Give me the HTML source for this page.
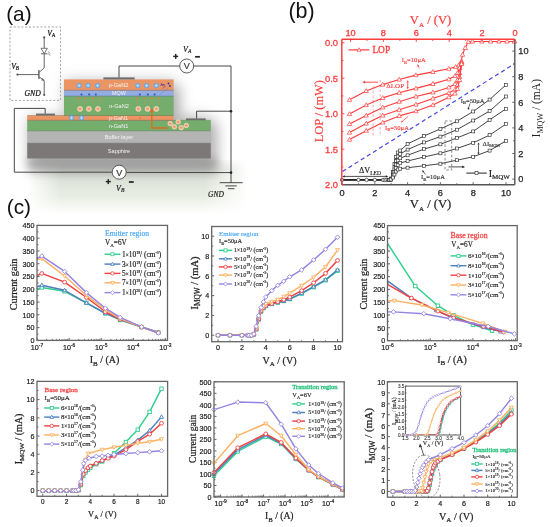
<!DOCTYPE html><html><head><meta charset="utf-8"><style>html,body{margin:0;padding:0;background:#fff;}svg{display:block;will-change:transform;}</style></head><body>
<svg width="550" height="527" viewBox="0 0 550 527">
<rect width="550" height="527" fill="#fff"/>
<text x="6.2" y="21.2" font-family='"Liberation Sans", sans-serif' font-size="20.8" fill="#111">(a)</text>
<defs><filter id="blur8" x="-50%" y="-50%" width="200%" height="200%"><feGaussianBlur stdDeviation="7"/></filter><filter id="blur4" x="-50%" y="-50%" width="200%" height="200%"><feGaussianBlur stdDeviation="4"/></filter><filter id="blur12" x="-50%" y="-50%" width="200%" height="200%"><feGaussianBlur stdDeviation="12"/></filter></defs>
<linearGradient id="shg" x1="0" y1="0" x2="0" y2="1"><stop offset="0" stop-color="#8a8a8a" stop-opacity="0.9"/><stop offset="1" stop-color="#8a8a8a" stop-opacity="0"/></linearGradient>
<linearGradient id="gbg" x1="0" y1="0" x2="0" y2="1"><stop offset="0" stop-color="#c9ccc6" stop-opacity="0"/><stop offset="0.2" stop-color="#d3d7cf" stop-opacity="1"/><stop offset="0.4" stop-color="#dfe4da"/><stop offset="0.7" stop-color="#e9eee3"/><stop offset="1" stop-color="#ffffff"/></linearGradient>
<linearGradient id="gmk" x1="0" y1="0" x2="1" y2="0"><stop offset="0" stop-color="#000"/><stop offset="0.15" stop-color="#fff"/><stop offset="0.8" stop-color="#fff"/><stop offset="1" stop-color="#000"/></linearGradient>
<mask id="mk1" maskUnits="userSpaceOnUse" x="0" y="150" width="260" height="80"><rect x="28" y="160" width="220" height="56" fill="url(#gmk)"/></mask>
<rect x="28" y="158" width="220" height="56" fill="url(#gbg)" mask="url(#mk1)"/>
<path d="M64,79 L173.6,79 L173.6,115 L210.8,115 L210.8,158.5 L27.2,158.5 L27.2,115 L64,115 Z" transform="translate(6,7)" fill="#808080" filter="url(#blur8)" opacity="0.6"/>
<path d="M64,79 L173.6,79 L173.6,115 L210.8,115 L210.8,158.5 L27.2,158.5 L27.2,115 L64,115 Z" fill="#b0b0b0" filter="url(#blur8)" opacity="0.5"/>
<rect x="27" y="158" width="190" height="20" fill="url(#shg)" filter="url(#blur4)"/>
<rect x="27.2" y="143" width="183.6" height="15.5" fill="#7d7878"/>
<rect x="27.2" y="130.8" width="183.6" height="12.2" fill="#b4b4b4"/>
<line x1="27.2" y1="143" x2="210.8" y2="143" stroke="#8e8e8e" stroke-width="0.6" />
<rect x="27.2" y="120.3" width="183.6" height="10.5" fill="#74ad6c"/>
<rect x="27.2" y="115.5" width="146.4" height="4.8" fill="#ec9564"/>
<rect x="64" y="96" width="109.6" height="19.5" fill="#74ad6c"/>
<rect x="64" y="90.4" width="109.6" height="5.6" fill="#93ade0"/>
<rect x="64" y="79.4" width="109.6" height="11" fill="#ec9564"/>
<line x1="64" y1="90.4" x2="173.6" y2="90.4" stroke="#c98260" stroke-width="0.4" />
<line x1="27.2" y1="120.3" x2="173.6" y2="120.3" stroke="#7a6a50" stroke-width="0.6" />
<line x1="173.6" y1="120.3" x2="210.8" y2="120.3" stroke="#5e9a58" stroke-width="0.5" />
<line x1="27.2" y1="115.5" x2="64" y2="115.5" stroke="#9a7a60" stroke-width="0.5" />
<line x1="64" y1="115.5" x2="173.6" y2="115.5" stroke="#6a7a50" stroke-width="0.6" />
<line x1="27.2" y1="130.8" x2="210.8" y2="130.8" stroke="#5e8a58" stroke-width="0.6" />
<rect x="103.4" y="77.4" width="31.3" height="2" fill="#6d6d6d"/>
<rect x="36" y="113.6" width="19" height="1.9" fill="#6d6d6d"/>
<rect x="186" y="118.4" width="19.7" height="1.9" fill="#6d6d6d"/>
<text x="118.5" y="87" font-size="5.6" font-family='"Liberation Sans", sans-serif' fill="#f4f4f4" text-anchor="middle">p-GaN2</text>
<text x="119" y="95.2" font-size="5.4" font-family='"Liberation Sans", sans-serif' fill="#f4f4f4" text-anchor="middle">MQW</text>
<text x="119" y="108" font-size="5.6" font-family='"Liberation Sans", sans-serif' fill="#f4f4f4" text-anchor="middle">n-GaN2</text>
<text x="118.5" y="119.8" font-size="5.4" font-family='"Liberation Sans", sans-serif' fill="#f4f4f4" text-anchor="middle">p-GaN1</text>
<text x="118.5" y="128" font-size="5.6" font-family='"Liberation Sans", sans-serif' fill="#f4f4f4" text-anchor="middle">n-GaN1</text>
<text x="119" y="139" font-size="5.6" font-family='"Liberation Sans", sans-serif' fill="#f4f4f4" text-anchor="middle">Buffer layer</text>
<text x="119" y="153" font-size="5.6" font-family='"Liberation Sans", sans-serif' fill="#f4f4f4" text-anchor="middle">Sapphire</text>
<line x1="64" y1="90.3" x2="173.6" y2="90.3" stroke="#6f7fa0" stroke-width="0.6" />
<line x1="64" y1="96.1" x2="173.6" y2="96.1" stroke="#5a7a9a" stroke-width="0.6" />
<rect x="80.6" y="93.6" width="1.8" height="1.8" fill="#2c52c0"/>
<rect x="88.3" y="93.6" width="1.8" height="1.8" fill="#2c52c0"/>
<rect x="94.89999999999999" y="93.6" width="1.8" height="1.8" fill="#2c52c0"/>
<rect x="138.9" y="93.6" width="1.8" height="1.8" fill="#2c52c0"/>
<rect x="146.9" y="93.6" width="1.8" height="1.8" fill="#2c52c0"/>
<rect x="153.7" y="93.6" width="1.8" height="1.8" fill="#2c52c0"/>
<circle cx="78.3" cy="98.3" r="1" fill="#f07a30"/>
<line x1="78.3" y1="99.5" x2="78.3" y2="104.6" stroke="#e89060" stroke-width="0.6" stroke-dasharray="1,0.8"/>
<circle cx="85.6" cy="98.3" r="1" fill="#f07a30"/>
<line x1="85.6" y1="99.5" x2="85.6" y2="104.6" stroke="#e89060" stroke-width="0.6" stroke-dasharray="1,0.8"/>
<circle cx="92.7" cy="98.3" r="1" fill="#f07a30"/>
<line x1="92.7" y1="99.5" x2="92.7" y2="104.6" stroke="#e89060" stroke-width="0.6" stroke-dasharray="1,0.8"/>
<circle cx="100.1" cy="98.3" r="1" fill="#f07a30"/>
<line x1="100.1" y1="99.5" x2="100.1" y2="104.6" stroke="#e89060" stroke-width="0.6" stroke-dasharray="1,0.8"/>
<circle cx="137" cy="98.3" r="1" fill="#f07a30"/>
<line x1="137" y1="99.5" x2="137" y2="104.6" stroke="#e89060" stroke-width="0.6" stroke-dasharray="1,0.8"/>
<circle cx="144.4" cy="98.3" r="1" fill="#f07a30"/>
<line x1="144.4" y1="99.5" x2="144.4" y2="104.6" stroke="#e89060" stroke-width="0.6" stroke-dasharray="1,0.8"/>
<circle cx="151.8" cy="98.3" r="1" fill="#f07a30"/>
<line x1="151.8" y1="99.5" x2="151.8" y2="104.6" stroke="#e89060" stroke-width="0.6" stroke-dasharray="1,0.8"/>
<circle cx="158.6" cy="98.3" r="1" fill="#f07a30"/>
<line x1="158.6" y1="99.5" x2="158.6" y2="104.6" stroke="#e89060" stroke-width="0.6" stroke-dasharray="1,0.8"/>
<line x1="159.2" y1="95" x2="168.3" y2="88" stroke="#7080c0" stroke-width="0.5" />
<circle cx="79.1" cy="85.6" r="2.4" fill="#6fb4ee" stroke="#5aa0e0" stroke-width="0.5"/>
<line x1="77.66" y1="85.6" x2="80.54" y2="85.6" stroke="#e8f4ff" stroke-width="0.6" />
<line x1="79.1" y1="84.16" x2="79.1" y2="87.04" stroke="#e8f4ff" stroke-width="0.6" />
<circle cx="88.1" cy="85.6" r="2.4" fill="#6fb4ee" stroke="#5aa0e0" stroke-width="0.5"/>
<line x1="86.66" y1="85.6" x2="89.54" y2="85.6" stroke="#e8f4ff" stroke-width="0.6" />
<line x1="88.1" y1="84.16" x2="88.1" y2="87.04" stroke="#e8f4ff" stroke-width="0.6" />
<circle cx="97.6" cy="85.6" r="2.4" fill="#6fb4ee" stroke="#5aa0e0" stroke-width="0.5"/>
<line x1="96.16" y1="85.6" x2="99.04" y2="85.6" stroke="#e8f4ff" stroke-width="0.6" />
<line x1="97.6" y1="84.16" x2="97.6" y2="87.04" stroke="#e8f4ff" stroke-width="0.6" />
<circle cx="137.8" cy="85.6" r="2.4" fill="#6fb4ee" stroke="#5aa0e0" stroke-width="0.5"/>
<line x1="136.36" y1="85.6" x2="139.24" y2="85.6" stroke="#e8f4ff" stroke-width="0.6" />
<line x1="137.8" y1="84.16" x2="137.8" y2="87.04" stroke="#e8f4ff" stroke-width="0.6" />
<circle cx="146.6" cy="85.6" r="2.4" fill="#6fb4ee" stroke="#5aa0e0" stroke-width="0.5"/>
<line x1="145.16" y1="85.6" x2="148.04" y2="85.6" stroke="#e8f4ff" stroke-width="0.6" />
<line x1="146.6" y1="84.16" x2="146.6" y2="87.04" stroke="#e8f4ff" stroke-width="0.6" />
<circle cx="156.3" cy="85.6" r="2.4" fill="#6fb4ee" stroke="#5aa0e0" stroke-width="0.5"/>
<line x1="154.86" y1="85.6" x2="157.74" y2="85.6" stroke="#e8f4ff" stroke-width="0.6" />
<line x1="156.3" y1="84.16" x2="156.3" y2="87.04" stroke="#e8f4ff" stroke-width="0.6" />
<circle cx="71.6" cy="117.8" r="2.4" fill="#6fb4ee" stroke="#5aa0e0" stroke-width="0.5"/>
<line x1="70.16" y1="117.8" x2="73.04" y2="117.8" stroke="#e8f4ff" stroke-width="0.6" />
<line x1="71.6" y1="116.36" x2="71.6" y2="119.24" stroke="#e8f4ff" stroke-width="0.6" />
<circle cx="81.5" cy="117.8" r="2.4" fill="#6fb4ee" stroke="#5aa0e0" stroke-width="0.5"/>
<line x1="80.06" y1="117.8" x2="82.94" y2="117.8" stroke="#e8f4ff" stroke-width="0.6" />
<line x1="81.5" y1="116.36" x2="81.5" y2="119.24" stroke="#e8f4ff" stroke-width="0.6" />
<circle cx="80" cy="108.9" r="2.5" fill="#f6b890" stroke="#fde6d6" stroke-width="0.6"/>
<line x1="78.9" y1="108.9" x2="81.1" y2="108.9" stroke="#d0703a" stroke-width="0.6" />
<circle cx="88.9" cy="108.9" r="2.5" fill="#f6b890" stroke="#fde6d6" stroke-width="0.6"/>
<line x1="87.8" y1="108.9" x2="90" y2="108.9" stroke="#d0703a" stroke-width="0.6" />
<circle cx="98" cy="108.9" r="2.5" fill="#f6b890" stroke="#fde6d6" stroke-width="0.6"/>
<line x1="96.9" y1="108.9" x2="99.1" y2="108.9" stroke="#d0703a" stroke-width="0.6" />
<circle cx="138.4" cy="108.9" r="2.5" fill="#f6b890" stroke="#fde6d6" stroke-width="0.6"/>
<line x1="137.3" y1="108.9" x2="139.5" y2="108.9" stroke="#d0703a" stroke-width="0.6" />
<circle cx="147.6" cy="108.9" r="2.5" fill="#f6b890" stroke="#fde6d6" stroke-width="0.6"/>
<line x1="146.5" y1="108.9" x2="148.7" y2="108.9" stroke="#d0703a" stroke-width="0.6" />
<circle cx="156.3" cy="108.9" r="2.5" fill="#f6b890" stroke="#fde6d6" stroke-width="0.6"/>
<line x1="155.2" y1="108.9" x2="157.4" y2="108.9" stroke="#d0703a" stroke-width="0.6" />
<circle cx="170.2" cy="123.6" r="2.3" fill="#f6b890" stroke="#fde6d6" stroke-width="0.6"/>
<line x1="169.1" y1="123.6" x2="171.3" y2="123.6" stroke="#d0703a" stroke-width="0.6" />
<circle cx="178.2" cy="122" r="2.3" fill="#f6b890" stroke="#fde6d6" stroke-width="0.6"/>
<line x1="177.1" y1="122" x2="179.3" y2="122" stroke="#d0703a" stroke-width="0.6" />
<circle cx="186.3" cy="125.5" r="2.3" fill="#f6b890" stroke="#fde6d6" stroke-width="0.6"/>
<line x1="185.2" y1="125.5" x2="187.4" y2="125.5" stroke="#d0703a" stroke-width="0.6" />
<circle cx="174.4" cy="126.8" r="2.3" fill="#f6b890" stroke="#fde6d6" stroke-width="0.6"/>
<line x1="173.3" y1="126.8" x2="175.5" y2="126.8" stroke="#d0703a" stroke-width="0.6" />
<circle cx="181.2" cy="127.7" r="2.3" fill="#f6b890" stroke="#fde6d6" stroke-width="0.6"/>
<line x1="180.1" y1="127.7" x2="182.3" y2="127.7" stroke="#d0703a" stroke-width="0.6" />
<circle cx="140" cy="118.2" r="0.8" fill="#e06020"/>
<polyline points="167.7,128 151.8,128 151.8,111" fill="none" stroke="#e06a20" stroke-width="1.3"/>
<polygon points="151.8,107.8 153.6,112 150,112" fill="#e06a20"/>
<text x="160.5" y="85.5" font-family='"Liberation Serif", serif' font-size="4.8" font-style="italic" fill="#3a2aa0" stroke="#3a2aa0" stroke-width="0.11">h&#957;</text>
<circle cx="168.5" cy="83.5" r="1" fill="#2c3cb0"/><circle cx="170" cy="86" r="1" fill="#2c3cb0"/>
<line x1="162" y1="88.5" x2="166" y2="86" stroke="#3a2aa0" stroke-width="0.4" />
<polyline points="119,77.4 119,66 179.9,66" fill="none" stroke="#484848" stroke-width="1"/>
<polyline points="193.5,66 231,66 231,182.7" fill="none" stroke="#484848" stroke-width="1"/>
<polyline points="196.6,118.4 196.6,111.2 231,111.2" fill="none" stroke="#484848" stroke-width="1"/>
<polyline points="45.2,113.6 45.2,108.4 14.3,108.4 14.3,172.2 112.2,172.2" fill="none" stroke="#484848" stroke-width="1"/>
<line x1="126.2" y1="172.4" x2="231" y2="172.6" stroke="#484848" stroke-width="1" />
<circle cx="231" cy="111.2" r="1.3" fill="#222"/>
<circle cx="231" cy="172.6" r="1.3" fill="#222"/>
<circle cx="186.7" cy="66" r="7" fill="#fff" stroke="#484848" stroke-width="0.9"/>
<text x="186.7" y="69.3" font-family='"Liberation Sans", sans-serif' font-size="9" text-anchor="middle" fill="#333" stroke="#333" stroke-width="0.20">V</text>
<circle cx="119.2" cy="172.2" r="7" fill="#fff" stroke="#484848" stroke-width="0.9"/>
<text x="119.2" y="175.5" font-family='"Liberation Sans", sans-serif' font-size="9" text-anchor="middle" fill="#333" stroke="#333" stroke-width="0.20">V</text>
<line x1="173.2" y1="56.4" x2="178.2" y2="56.4" stroke="#222" stroke-width="1.45" />
<line x1="175.7" y1="53.9" x2="175.7" y2="58.9" stroke="#222" stroke-width="1.45" />
<line x1="105.8" y1="181.6" x2="110.8" y2="181.6" stroke="#222" stroke-width="1.45" />
<line x1="108.3" y1="179.1" x2="108.3" y2="184.1" stroke="#222" stroke-width="1.45" />
<line x1="195.1" y1="56.8" x2="199.9" y2="56.8" stroke="#222" stroke-width="1.7" />
<line x1="128.9" y1="182" x2="133.7" y2="182" stroke="#222" stroke-width="1.7" />
<text x="183" y="51.6" font-family='"Liberation Serif", serif' font-size="8" font-style="italic" fill="#222" stroke="#222" stroke-width="0.18">V<tspan font-size="5.6" dy="1.8">A</tspan></text>
<text x="116" y="190.5" font-family='"Liberation Serif", serif' font-size="8" font-style="italic" fill="#222" stroke="#222" stroke-width="0.18">V<tspan font-size="5.6" dy="1.8">B</tspan></text>
<line x1="219.7" y1="182.7" x2="242.7" y2="182.7" stroke="#333" stroke-width="0.9" />
<line x1="225.4" y1="185.9" x2="236.8" y2="185.9" stroke="#333" stroke-width="0.9" />
<line x1="227.9" y1="188.7" x2="234.5" y2="188.7" stroke="#333" stroke-width="0.9" />
<text x="208" y="197" font-family='"Liberation Serif", serif' font-size="7.5" font-style="italic" fill="#222" stroke="#222" stroke-width="0.16">GND</text>
<rect x="10" y="27" width="50.5" height="73.4" fill="none" stroke="#999" stroke-width="0.9" stroke-dasharray="2,1.8"/>
<line x1="44.2" y1="37.4" x2="44.2" y2="48" stroke="#555" stroke-width="0.9" />
<polygon points="41,48.3 47.4,48.3 44.2,53.6" fill="#fff" stroke="#555" stroke-width="0.8"/>
<line x1="41" y1="53.8" x2="47.4" y2="53.8" stroke="#555" stroke-width="0.9" />
<line x1="44.2" y1="53.8" x2="44.2" y2="68" stroke="#555" stroke-width="0.9" />
<line x1="44.2" y1="68" x2="39.2" y2="72.3" stroke="#555" stroke-width="0.9" />
<line x1="38.9" y1="70" x2="38.9" y2="79" stroke="#555" stroke-width="1.3" />
<line x1="17.5" y1="74.6" x2="38.9" y2="74.6" stroke="#555" stroke-width="0.9" />
<line x1="39.2" y1="76.8" x2="44.2" y2="80.6" stroke="#555" stroke-width="0.9" />
<polygon points="44.4,80.8 41.2,80.2 42.6,78.2" fill="#555"/>
<line x1="44.2" y1="80.6" x2="44.2" y2="95" stroke="#555" stroke-width="0.9" />
<circle cx="44.2" cy="37.4" r="1.1" fill="#555"/>
<circle cx="17.5" cy="74.6" r="1.1" fill="#555"/>
<circle cx="44.2" cy="95" r="1.1" fill="#555"/>
<line x1="48.2" y1="51.5" x2="50" y2="53.5" stroke="#333" stroke-width="0.6" />
<line x1="48.2" y1="53.5" x2="50" y2="55.5" stroke="#333" stroke-width="0.6" />
<text x="47.2" y="36" font-family='"Liberation Serif", serif' font-size="7.6" font-style="italic" fill="#111" stroke="#111" stroke-width="0.2">V<tspan font-size="5.2" font-style="normal" dy="1.4">A</tspan></text>
<text x="11.2" y="69" font-family='"Liberation Serif", serif' font-size="7.6" font-style="italic" fill="#111" stroke="#111" stroke-width="0.2">V<tspan font-size="5.2" dy="1.4">B</tspan></text>
<text x="24.5" y="95.8" font-family='"Liberation Serif", serif' font-size="7.7" font-style="italic" fill="#111" stroke="#111" stroke-width="0.2">GND</text>
<text x="6.8" y="214.1" font-family='"Liberation Sans", sans-serif' font-size="20.8" fill="#111">(c)</text>
<text x="288.4" y="17.9" font-family='"Liberation Sans", sans-serif' font-size="21.5" fill="#111">(b)</text>
<line x1="342.5" y1="171.5" x2="514.5" y2="63.8" stroke="#4040e0" stroke-width="1.15" stroke-dasharray="4.2,3"/>
<polyline points="342,179.9 358.4,179.9 366.6,179.9 374.8,179.9 383,179.9 384.64,179.9 386.28,179.9 387.92,179.9 389.56,179.9 391.2,178.5 392.84,172 394.48,164 396.12,157 397.76,152.5 400.22,150.5 407.6,143.9 424,136 440.4,128.9 456.8,121.3 473.2,111.5 489.6,99.6 506,84.8" fill="none" stroke="#222" stroke-width="0.85" stroke-linejoin="round" />
<polyline points="342,179.9 358.4,179.9 366.6,179.9 374.8,179.9 383,179.9 384.64,179.9 386.28,179.9 387.92,179.9 389.56,179.9 391.2,178.7 392.84,173.5 394.48,167 396.12,161 397.76,156.5 400.22,154 407.6,149.6 424,142.4 440.4,136.6 456.8,129.7 473.2,120.5 489.6,111.1 506,96.5" fill="none" stroke="#222" stroke-width="0.85" stroke-linejoin="round" />
<polyline points="342,179.9 358.4,179.9 366.6,179.9 374.8,179.9 383,179.9 384.64,179.9 386.28,179.9 387.92,179.9 389.56,179.9 391.2,179 392.84,175 394.48,169.5 396.12,164.5 397.76,160.5 400.22,158.2 407.6,155.3 424,149.1 440.4,144.3 456.8,138 473.2,131.4 489.6,119.9 506,108.8" fill="none" stroke="#222" stroke-width="0.85" stroke-linejoin="round" />
<polyline points="342,179.9 358.4,179.9 366.6,179.9 374.8,179.9 383,179.9 384.64,179.9 386.28,179.9 387.92,179.9 389.56,179.9 391.2,179.2 392.84,176.5 394.48,172 396.12,168 397.76,165 400.22,163 407.6,161 424,157 440.4,153.3 456.8,148.5 473.2,142.8 489.6,135.1 506,124" fill="none" stroke="#222" stroke-width="0.85" stroke-linejoin="round" />
<polyline points="342,179.9 358.4,179.9 366.6,179.9 374.8,179.9 383,179.9 384.64,179.9 386.28,179.9 387.92,179.9 389.56,179.9 391.2,179.5 392.84,177.5 394.48,174.5 396.12,171.5 397.76,169.5 400.22,168.7 407.6,167.7 424,165.8 440.4,163.7 456.8,160.2 473.2,156.8 489.6,150.6 506,140.8" fill="none" stroke="#222" stroke-width="0.85" stroke-linejoin="round" />
<circle cx="342" cy="179.9" r="1.7" fill="#fff" stroke="#333" stroke-width="0.7"/>
<circle cx="358.4" cy="179.9" r="1.7" fill="#fff" stroke="#333" stroke-width="0.7"/>
<circle cx="366.6" cy="179.9" r="1.7" fill="#fff" stroke="#333" stroke-width="0.7"/>
<circle cx="374.8" cy="179.9" r="1.7" fill="#fff" stroke="#333" stroke-width="0.7"/>
<circle cx="383" cy="179.9" r="1.7" fill="#fff" stroke="#333" stroke-width="0.7"/>
<circle cx="384.64" cy="179.9" r="1.7" fill="#fff" stroke="#333" stroke-width="0.7"/>
<circle cx="386.28" cy="179.9" r="1.7" fill="#fff" stroke="#333" stroke-width="0.7"/>
<circle cx="387.92" cy="179.9" r="1.7" fill="#fff" stroke="#333" stroke-width="0.7"/>
<rect x="388.06" y="178.4" width="3" height="3" fill="#fff" stroke="#222" stroke-width="0.6"/>
<rect x="389.7" y="177" width="3" height="3" fill="#fff" stroke="#222" stroke-width="0.6"/>
<rect x="391.34" y="170.5" width="3" height="3" fill="#fff" stroke="#222" stroke-width="0.6"/>
<rect x="392.98" y="162.5" width="3" height="3" fill="#fff" stroke="#222" stroke-width="0.6"/>
<rect x="394.62" y="155.5" width="3" height="3" fill="#fff" stroke="#222" stroke-width="0.6"/>
<rect x="396.26" y="151" width="3" height="3" fill="#fff" stroke="#222" stroke-width="0.6"/>
<rect x="398.72" y="149" width="3" height="3" fill="#fff" stroke="#222" stroke-width="0.6"/>
<rect x="406.1" y="142.4" width="3" height="3" fill="#fff" stroke="#222" stroke-width="0.6"/>
<rect x="422.5" y="134.5" width="3" height="3" fill="#fff" stroke="#222" stroke-width="0.6"/>
<rect x="438.9" y="127.4" width="3" height="3" fill="#fff" stroke="#222" stroke-width="0.6"/>
<rect x="455.3" y="119.8" width="3" height="3" fill="#fff" stroke="#222" stroke-width="0.6"/>
<rect x="471.7" y="110" width="3" height="3" fill="#fff" stroke="#222" stroke-width="0.6"/>
<rect x="488.1" y="98.1" width="3" height="3" fill="#fff" stroke="#222" stroke-width="0.6"/>
<rect x="504.5" y="83.3" width="3" height="3" fill="#fff" stroke="#222" stroke-width="0.6"/>
<rect x="388.06" y="178.4" width="3" height="3" fill="#fff" stroke="#222" stroke-width="0.6"/>
<rect x="389.7" y="177.2" width="3" height="3" fill="#fff" stroke="#222" stroke-width="0.6"/>
<rect x="391.34" y="172" width="3" height="3" fill="#fff" stroke="#222" stroke-width="0.6"/>
<rect x="392.98" y="165.5" width="3" height="3" fill="#fff" stroke="#222" stroke-width="0.6"/>
<rect x="394.62" y="159.5" width="3" height="3" fill="#fff" stroke="#222" stroke-width="0.6"/>
<rect x="396.26" y="155" width="3" height="3" fill="#fff" stroke="#222" stroke-width="0.6"/>
<rect x="398.72" y="152.5" width="3" height="3" fill="#fff" stroke="#222" stroke-width="0.6"/>
<rect x="406.1" y="148.1" width="3" height="3" fill="#fff" stroke="#222" stroke-width="0.6"/>
<rect x="422.5" y="140.9" width="3" height="3" fill="#fff" stroke="#222" stroke-width="0.6"/>
<rect x="438.9" y="135.1" width="3" height="3" fill="#fff" stroke="#222" stroke-width="0.6"/>
<rect x="455.3" y="128.2" width="3" height="3" fill="#fff" stroke="#222" stroke-width="0.6"/>
<rect x="471.7" y="119" width="3" height="3" fill="#fff" stroke="#222" stroke-width="0.6"/>
<rect x="488.1" y="109.6" width="3" height="3" fill="#fff" stroke="#222" stroke-width="0.6"/>
<rect x="504.5" y="95" width="3" height="3" fill="#fff" stroke="#222" stroke-width="0.6"/>
<rect x="388.06" y="178.4" width="3" height="3" fill="#fff" stroke="#222" stroke-width="0.6"/>
<rect x="389.7" y="177.5" width="3" height="3" fill="#fff" stroke="#222" stroke-width="0.6"/>
<rect x="391.34" y="173.5" width="3" height="3" fill="#fff" stroke="#222" stroke-width="0.6"/>
<rect x="392.98" y="168" width="3" height="3" fill="#fff" stroke="#222" stroke-width="0.6"/>
<rect x="394.62" y="163" width="3" height="3" fill="#fff" stroke="#222" stroke-width="0.6"/>
<rect x="396.26" y="159" width="3" height="3" fill="#fff" stroke="#222" stroke-width="0.6"/>
<rect x="398.72" y="156.7" width="3" height="3" fill="#fff" stroke="#222" stroke-width="0.6"/>
<rect x="406.1" y="153.8" width="3" height="3" fill="#fff" stroke="#222" stroke-width="0.6"/>
<rect x="422.5" y="147.6" width="3" height="3" fill="#fff" stroke="#222" stroke-width="0.6"/>
<rect x="438.9" y="142.8" width="3" height="3" fill="#fff" stroke="#222" stroke-width="0.6"/>
<rect x="455.3" y="136.5" width="3" height="3" fill="#fff" stroke="#222" stroke-width="0.6"/>
<rect x="471.7" y="129.9" width="3" height="3" fill="#fff" stroke="#222" stroke-width="0.6"/>
<rect x="488.1" y="118.4" width="3" height="3" fill="#fff" stroke="#222" stroke-width="0.6"/>
<rect x="504.5" y="107.3" width="3" height="3" fill="#fff" stroke="#222" stroke-width="0.6"/>
<rect x="388.06" y="178.4" width="3" height="3" fill="#fff" stroke="#222" stroke-width="0.6"/>
<rect x="389.7" y="177.7" width="3" height="3" fill="#fff" stroke="#222" stroke-width="0.6"/>
<rect x="391.34" y="175" width="3" height="3" fill="#fff" stroke="#222" stroke-width="0.6"/>
<rect x="392.98" y="170.5" width="3" height="3" fill="#fff" stroke="#222" stroke-width="0.6"/>
<rect x="394.62" y="166.5" width="3" height="3" fill="#fff" stroke="#222" stroke-width="0.6"/>
<rect x="396.26" y="163.5" width="3" height="3" fill="#fff" stroke="#222" stroke-width="0.6"/>
<rect x="398.72" y="161.5" width="3" height="3" fill="#fff" stroke="#222" stroke-width="0.6"/>
<rect x="406.1" y="159.5" width="3" height="3" fill="#fff" stroke="#222" stroke-width="0.6"/>
<rect x="422.5" y="155.5" width="3" height="3" fill="#fff" stroke="#222" stroke-width="0.6"/>
<rect x="438.9" y="151.8" width="3" height="3" fill="#fff" stroke="#222" stroke-width="0.6"/>
<rect x="455.3" y="147" width="3" height="3" fill="#fff" stroke="#222" stroke-width="0.6"/>
<rect x="471.7" y="141.3" width="3" height="3" fill="#fff" stroke="#222" stroke-width="0.6"/>
<rect x="488.1" y="133.6" width="3" height="3" fill="#fff" stroke="#222" stroke-width="0.6"/>
<rect x="504.5" y="122.5" width="3" height="3" fill="#fff" stroke="#222" stroke-width="0.6"/>
<rect x="388.06" y="178.4" width="3" height="3" fill="#fff" stroke="#222" stroke-width="0.6"/>
<rect x="389.7" y="178" width="3" height="3" fill="#fff" stroke="#222" stroke-width="0.6"/>
<rect x="391.34" y="176" width="3" height="3" fill="#fff" stroke="#222" stroke-width="0.6"/>
<rect x="392.98" y="173" width="3" height="3" fill="#fff" stroke="#222" stroke-width="0.6"/>
<rect x="394.62" y="170" width="3" height="3" fill="#fff" stroke="#222" stroke-width="0.6"/>
<rect x="396.26" y="168" width="3" height="3" fill="#fff" stroke="#222" stroke-width="0.6"/>
<rect x="398.72" y="167.2" width="3" height="3" fill="#fff" stroke="#222" stroke-width="0.6"/>
<rect x="406.1" y="166.2" width="3" height="3" fill="#fff" stroke="#222" stroke-width="0.6"/>
<rect x="422.5" y="164.3" width="3" height="3" fill="#fff" stroke="#222" stroke-width="0.6"/>
<rect x="438.9" y="162.2" width="3" height="3" fill="#fff" stroke="#222" stroke-width="0.6"/>
<rect x="455.3" y="158.7" width="3" height="3" fill="#fff" stroke="#222" stroke-width="0.6"/>
<rect x="471.7" y="155.3" width="3" height="3" fill="#fff" stroke="#222" stroke-width="0.6"/>
<rect x="488.1" y="149.1" width="3" height="3" fill="#fff" stroke="#222" stroke-width="0.6"/>
<rect x="504.5" y="139.3" width="3" height="3" fill="#fff" stroke="#222" stroke-width="0.6"/>
<polyline points="349.5,99.8 366.2,90.9 382.7,84.6 399.2,79.5 415.9,75.1 432.9,71.9 448.8,68.7 455.7,66.9 458.7,65.4 461.3,61.6 462.5,54.7 465.2,47.9 468.3,41.8 472.4,41.5 481.9,41.5 490.6,41.5 498.9,41.5 507,41.5 514.5,41.5" fill="none" stroke="#ff3b3b" stroke-width="1.1" stroke-linejoin="round" />
<polygon points="349.5,97.49 351.7,101.38 347.3,101.38" fill="#fff" stroke="#ff3b3b" stroke-width="0.7"/>
<polygon points="366.2,88.59 368.4,92.48 364,92.48" fill="#fff" stroke="#ff3b3b" stroke-width="0.7"/>
<polygon points="382.7,82.29 384.9,86.17 380.5,86.17" fill="#fff" stroke="#ff3b3b" stroke-width="0.7"/>
<polygon points="399.2,77.19 401.4,81.08 397,81.08" fill="#fff" stroke="#ff3b3b" stroke-width="0.7"/>
<polygon points="415.9,72.79 418.1,76.67 413.69,76.67" fill="#fff" stroke="#ff3b3b" stroke-width="0.7"/>
<polygon points="432.9,69.59 435.1,73.48 430.69,73.48" fill="#fff" stroke="#ff3b3b" stroke-width="0.7"/>
<polygon points="448.8,66.39 451,70.28 446.6,70.28" fill="#fff" stroke="#ff3b3b" stroke-width="0.7"/>
<polygon points="455.7,64.59 457.9,68.48 453.5,68.48" fill="#fff" stroke="#ff3b3b" stroke-width="0.7"/>
<polygon points="458.7,63.09 460.9,66.98 456.5,66.98" fill="#fff" stroke="#ff3b3b" stroke-width="0.7"/>
<polygon points="461.3,59.29 463.5,63.18 459.1,63.18" fill="#fff" stroke="#ff3b3b" stroke-width="0.7"/>
<polygon points="462.5,52.39 464.7,56.28 460.3,56.28" fill="#fff" stroke="#ff3b3b" stroke-width="0.7"/>
<polygon points="465.2,45.59 467.4,49.48 463,49.48" fill="#fff" stroke="#ff3b3b" stroke-width="0.7"/>
<polygon points="468.3,39.49 470.5,43.38 466.1,43.38" fill="#fff" stroke="#ff3b3b" stroke-width="0.7"/>
<polygon points="472.4,39.19 474.6,43.08 470.19,43.08" fill="#fff" stroke="#ff3b3b" stroke-width="0.7"/>
<polygon points="481.9,39.19 484.1,43.08 479.69,43.08" fill="#fff" stroke="#ff3b3b" stroke-width="0.7"/>
<polygon points="490.6,39.19 492.81,43.08 488.4,43.08" fill="#fff" stroke="#ff3b3b" stroke-width="0.7"/>
<polygon points="498.9,39.19 501.1,43.08 496.69,43.08" fill="#fff" stroke="#ff3b3b" stroke-width="0.7"/>
<polygon points="507,39.19 509.2,43.08 504.8,43.08" fill="#fff" stroke="#ff3b3b" stroke-width="0.7"/>
<polygon points="514.5,39.19 516.71,43.08 512.29,43.08" fill="#fff" stroke="#ff3b3b" stroke-width="0.7"/>
<polyline points="349.5,114 366.2,105.1 382.7,97.9 399.2,92.8 415.9,88.4 432.9,83.9 448.8,79.3 455,76 457.5,73 459.5,68 461.5,61.6" fill="none" stroke="#ff3b3b" stroke-width="1.1" stroke-linejoin="round" />
<polygon points="349.5,111.69 351.7,115.58 347.3,115.58" fill="#fff" stroke="#ff3b3b" stroke-width="0.7"/>
<polygon points="366.2,102.79 368.4,106.67 364,106.67" fill="#fff" stroke="#ff3b3b" stroke-width="0.7"/>
<polygon points="382.7,95.59 384.9,99.48 380.5,99.48" fill="#fff" stroke="#ff3b3b" stroke-width="0.7"/>
<polygon points="399.2,90.49 401.4,94.38 397,94.38" fill="#fff" stroke="#ff3b3b" stroke-width="0.7"/>
<polygon points="415.9,86.09 418.1,89.98 413.69,89.98" fill="#fff" stroke="#ff3b3b" stroke-width="0.7"/>
<polygon points="432.9,81.59 435.1,85.48 430.69,85.48" fill="#fff" stroke="#ff3b3b" stroke-width="0.7"/>
<polygon points="448.8,76.99 451,80.88 446.6,80.88" fill="#fff" stroke="#ff3b3b" stroke-width="0.7"/>
<polygon points="455,73.69 457.2,77.58 452.8,77.58" fill="#fff" stroke="#ff3b3b" stroke-width="0.7"/>
<polygon points="457.5,70.69 459.7,74.58 455.3,74.58" fill="#fff" stroke="#ff3b3b" stroke-width="0.7"/>
<polygon points="459.5,65.69 461.7,69.58 457.3,69.58" fill="#fff" stroke="#ff3b3b" stroke-width="0.7"/>
<polygon points="461.5,59.29 463.7,63.18 459.3,63.18" fill="#fff" stroke="#ff3b3b" stroke-width="0.7"/>
<polyline points="349.5,123.9 366.2,115.5 382.7,107.4 399.2,101.7 415.9,96.5 432.9,92.4 448.8,87.4 455,84 457.5,80 459.5,73 461.5,62" fill="none" stroke="#ff3b3b" stroke-width="1.1" stroke-linejoin="round" />
<polygon points="349.5,121.59 351.7,125.48 347.3,125.48" fill="#fff" stroke="#ff3b3b" stroke-width="0.7"/>
<polygon points="366.2,113.19 368.4,117.08 364,117.08" fill="#fff" stroke="#ff3b3b" stroke-width="0.7"/>
<polygon points="382.7,105.09 384.9,108.98 380.5,108.98" fill="#fff" stroke="#ff3b3b" stroke-width="0.7"/>
<polygon points="399.2,99.39 401.4,103.28 397,103.28" fill="#fff" stroke="#ff3b3b" stroke-width="0.7"/>
<polygon points="415.9,94.19 418.1,98.08 413.69,98.08" fill="#fff" stroke="#ff3b3b" stroke-width="0.7"/>
<polygon points="432.9,90.09 435.1,93.98 430.69,93.98" fill="#fff" stroke="#ff3b3b" stroke-width="0.7"/>
<polygon points="448.8,85.09 451,88.98 446.6,88.98" fill="#fff" stroke="#ff3b3b" stroke-width="0.7"/>
<polygon points="455,81.69 457.2,85.58 452.8,85.58" fill="#fff" stroke="#ff3b3b" stroke-width="0.7"/>
<polygon points="457.5,77.69 459.7,81.58 455.3,81.58" fill="#fff" stroke="#ff3b3b" stroke-width="0.7"/>
<polygon points="459.5,70.69 461.7,74.58 457.3,74.58" fill="#fff" stroke="#ff3b3b" stroke-width="0.7"/>
<polygon points="461.5,59.69 463.7,63.58 459.3,63.58" fill="#fff" stroke="#ff3b3b" stroke-width="0.7"/>
<polyline points="349.5,132.6 366.2,123.5 382.7,115.5 399.2,109.8 415.9,104.5 432.9,98.5 448.8,93 455,89.5 457.5,85 459.5,77 461.5,63" fill="none" stroke="#ff3b3b" stroke-width="1.1" stroke-linejoin="round" />
<polygon points="349.5,130.29 351.7,134.17 347.3,134.17" fill="#fff" stroke="#ff3b3b" stroke-width="0.7"/>
<polygon points="366.2,121.19 368.4,125.08 364,125.08" fill="#fff" stroke="#ff3b3b" stroke-width="0.7"/>
<polygon points="382.7,113.19 384.9,117.08 380.5,117.08" fill="#fff" stroke="#ff3b3b" stroke-width="0.7"/>
<polygon points="399.2,107.49 401.4,111.38 397,111.38" fill="#fff" stroke="#ff3b3b" stroke-width="0.7"/>
<polygon points="415.9,102.19 418.1,106.08 413.69,106.08" fill="#fff" stroke="#ff3b3b" stroke-width="0.7"/>
<polygon points="432.9,96.19 435.1,100.08 430.69,100.08" fill="#fff" stroke="#ff3b3b" stroke-width="0.7"/>
<polygon points="448.8,90.69 451,94.58 446.6,94.58" fill="#fff" stroke="#ff3b3b" stroke-width="0.7"/>
<polygon points="455,87.19 457.2,91.08 452.8,91.08" fill="#fff" stroke="#ff3b3b" stroke-width="0.7"/>
<polygon points="457.5,82.69 459.7,86.58 455.3,86.58" fill="#fff" stroke="#ff3b3b" stroke-width="0.7"/>
<polygon points="459.5,74.69 461.7,78.58 457.3,78.58" fill="#fff" stroke="#ff3b3b" stroke-width="0.7"/>
<polygon points="461.5,60.69 463.7,64.58 459.3,64.58" fill="#fff" stroke="#ff3b3b" stroke-width="0.7"/>
<polyline points="349.5,139.6 366.2,130.7 382.7,122.5 399.2,115.9 415.9,111.2 432.9,105.1 448.8,97.2 455,93.5 457.5,89 459.5,80 461.5,64" fill="none" stroke="#ff3b3b" stroke-width="1.1" stroke-linejoin="round" />
<polygon points="349.5,137.29 351.7,141.17 347.3,141.17" fill="#fff" stroke="#ff3b3b" stroke-width="0.7"/>
<polygon points="366.2,128.39 368.4,132.27 364,132.27" fill="#fff" stroke="#ff3b3b" stroke-width="0.7"/>
<polygon points="382.7,120.19 384.9,124.08 380.5,124.08" fill="#fff" stroke="#ff3b3b" stroke-width="0.7"/>
<polygon points="399.2,113.59 401.4,117.48 397,117.48" fill="#fff" stroke="#ff3b3b" stroke-width="0.7"/>
<polygon points="415.9,108.89 418.1,112.78 413.69,112.78" fill="#fff" stroke="#ff3b3b" stroke-width="0.7"/>
<polygon points="432.9,102.79 435.1,106.67 430.69,106.67" fill="#fff" stroke="#ff3b3b" stroke-width="0.7"/>
<polygon points="448.8,94.89 451,98.78 446.6,98.78" fill="#fff" stroke="#ff3b3b" stroke-width="0.7"/>
<polygon points="455,91.19 457.2,95.08 452.8,95.08" fill="#fff" stroke="#ff3b3b" stroke-width="0.7"/>
<polygon points="457.5,86.69 459.7,90.58 455.3,90.58" fill="#fff" stroke="#ff3b3b" stroke-width="0.7"/>
<polygon points="459.5,77.69 461.7,81.58 457.3,81.58" fill="#fff" stroke="#ff3b3b" stroke-width="0.7"/>
<polygon points="461.5,61.69 463.7,65.58 459.3,65.58" fill="#fff" stroke="#ff3b3b" stroke-width="0.7"/>
<line x1="341.8" y1="39.3" x2="514.8" y2="39.3" stroke="#ff3b3b" stroke-width="1.45" />
<line x1="341.8" y1="39.3" x2="341.8" y2="184.8" stroke="#ff3b3b" stroke-width="1.45" />
<line x1="341.8" y1="184.8" x2="514.8" y2="184.8" stroke="#555" stroke-width="1.4" />
<line x1="514.8" y1="39.3" x2="514.8" y2="184.8" stroke="#555" stroke-width="1.4" />
<line x1="515" y1="39.3" x2="515" y2="41.9" stroke="#ff3b3b" stroke-width="0.9" />
<text x="515" y="36" font-family='"Liberation Sans", sans-serif' font-size="9.2" text-anchor="middle" fill="#ff3b3b" stroke="#ff3b3b" stroke-width="0.3">0</text>
<line x1="498.55" y1="39.3" x2="498.55" y2="40.9" stroke="#ff3b3b" stroke-width="0.9" />
<line x1="482.1" y1="39.3" x2="482.1" y2="41.9" stroke="#ff3b3b" stroke-width="0.9" />
<text x="482.1" y="36" font-family='"Liberation Sans", sans-serif' font-size="9.2" text-anchor="middle" fill="#ff3b3b" stroke="#ff3b3b" stroke-width="0.3">2</text>
<line x1="465.65" y1="39.3" x2="465.65" y2="40.9" stroke="#ff3b3b" stroke-width="0.9" />
<line x1="449.2" y1="39.3" x2="449.2" y2="41.9" stroke="#ff3b3b" stroke-width="0.9" />
<text x="449.2" y="36" font-family='"Liberation Sans", sans-serif' font-size="9.2" text-anchor="middle" fill="#ff3b3b" stroke="#ff3b3b" stroke-width="0.3">4</text>
<line x1="432.75" y1="39.3" x2="432.75" y2="40.9" stroke="#ff3b3b" stroke-width="0.9" />
<line x1="416.3" y1="39.3" x2="416.3" y2="41.9" stroke="#ff3b3b" stroke-width="0.9" />
<text x="416.3" y="36" font-family='"Liberation Sans", sans-serif' font-size="9.2" text-anchor="middle" fill="#ff3b3b" stroke="#ff3b3b" stroke-width="0.3">6</text>
<line x1="399.85" y1="39.3" x2="399.85" y2="40.9" stroke="#ff3b3b" stroke-width="0.9" />
<line x1="383.4" y1="39.3" x2="383.4" y2="41.9" stroke="#ff3b3b" stroke-width="0.9" />
<text x="383.4" y="36" font-family='"Liberation Sans", sans-serif' font-size="9.2" text-anchor="middle" fill="#ff3b3b" stroke="#ff3b3b" stroke-width="0.3">8</text>
<line x1="366.95" y1="39.3" x2="366.95" y2="40.9" stroke="#ff3b3b" stroke-width="0.9" />
<line x1="350.5" y1="39.3" x2="350.5" y2="41.9" stroke="#ff3b3b" stroke-width="0.9" />
<text x="350.5" y="36" font-family='"Liberation Sans", sans-serif' font-size="9.2" text-anchor="middle" fill="#ff3b3b" stroke="#ff3b3b" stroke-width="0.3">10</text>
<text x="430.6" y="23.7" font-family='"Liberation Serif", serif' font-size="12.6" text-anchor="middle" fill="#ff3b3b" stroke="#ff3b3b" stroke-width="0.2">V<tspan font-size="7" dy="3.2">A</tspan><tspan dy="-3.2"> / (V)</tspan></text>
<line x1="341.8" y1="42.7" x2="344.4" y2="42.7" stroke="#ff3b3b" stroke-width="0.9" />
<text x="338" y="46" font-family='"Liberation Sans", sans-serif' font-size="9.4" text-anchor="end" fill="#ff3b3b" stroke="#ff3b3b" stroke-width="0.3">0.0</text>
<line x1="341.8" y1="60.45" x2="343.4" y2="60.45" stroke="#ff3b3b" stroke-width="0.9" />
<line x1="341.8" y1="78.2" x2="344.4" y2="78.2" stroke="#ff3b3b" stroke-width="0.9" />
<text x="338" y="81.5" font-family='"Liberation Sans", sans-serif' font-size="9.4" text-anchor="end" fill="#ff3b3b" stroke="#ff3b3b" stroke-width="0.3">0.5</text>
<line x1="341.8" y1="95.95" x2="343.4" y2="95.95" stroke="#ff3b3b" stroke-width="0.9" />
<line x1="341.8" y1="113.7" x2="344.4" y2="113.7" stroke="#ff3b3b" stroke-width="0.9" />
<text x="338" y="117" font-family='"Liberation Sans", sans-serif' font-size="9.4" text-anchor="end" fill="#ff3b3b" stroke="#ff3b3b" stroke-width="0.3">1.0</text>
<line x1="341.8" y1="131.45" x2="343.4" y2="131.45" stroke="#ff3b3b" stroke-width="0.9" />
<line x1="341.8" y1="149.2" x2="344.4" y2="149.2" stroke="#ff3b3b" stroke-width="0.9" />
<text x="338" y="152.5" font-family='"Liberation Sans", sans-serif' font-size="9.4" text-anchor="end" fill="#ff3b3b" stroke="#ff3b3b" stroke-width="0.3">1.5</text>
<line x1="341.8" y1="166.95" x2="343.4" y2="166.95" stroke="#ff3b3b" stroke-width="0.9" />
<line x1="341.8" y1="184.7" x2="344.4" y2="184.7" stroke="#ff3b3b" stroke-width="0.9" />
<text x="338" y="188" font-family='"Liberation Sans", sans-serif' font-size="9.4" text-anchor="end" fill="#ff3b3b" stroke="#ff3b3b" stroke-width="0.3">2.0</text>
<text transform="translate(323,111.2) rotate(-90)" font-family='"Liberation Serif", serif' font-size="12.4" text-anchor="middle" fill="#ff3b3b" stroke="#ff3b3b" stroke-width="0.15">LOP / (mW)</text>
<line x1="514.8" y1="179.1" x2="512.2" y2="179.1" stroke="#555" stroke-width="0.9" />
<text x="518.3" y="182.3" font-family='"Liberation Sans", sans-serif' font-size="9.2" text-anchor="start" fill="#222" stroke="#222" stroke-width="0.25">0</text>
<line x1="514.8" y1="166.3" x2="513.2" y2="166.3" stroke="#555" stroke-width="0.9" />
<line x1="514.8" y1="153.5" x2="512.2" y2="153.5" stroke="#555" stroke-width="0.9" />
<text x="518.3" y="156.7" font-family='"Liberation Sans", sans-serif' font-size="9.2" text-anchor="start" fill="#222" stroke="#222" stroke-width="0.25">2</text>
<line x1="514.8" y1="140.7" x2="513.2" y2="140.7" stroke="#555" stroke-width="0.9" />
<line x1="514.8" y1="127.9" x2="512.2" y2="127.9" stroke="#555" stroke-width="0.9" />
<text x="518.3" y="131.1" font-family='"Liberation Sans", sans-serif' font-size="9.2" text-anchor="start" fill="#222" stroke="#222" stroke-width="0.25">4</text>
<line x1="514.8" y1="115.1" x2="513.2" y2="115.1" stroke="#555" stroke-width="0.9" />
<line x1="514.8" y1="102.3" x2="512.2" y2="102.3" stroke="#555" stroke-width="0.9" />
<text x="518.3" y="105.5" font-family='"Liberation Sans", sans-serif' font-size="9.2" text-anchor="start" fill="#222" stroke="#222" stroke-width="0.25">6</text>
<line x1="514.8" y1="89.5" x2="513.2" y2="89.5" stroke="#555" stroke-width="0.9" />
<line x1="514.8" y1="76.7" x2="512.2" y2="76.7" stroke="#555" stroke-width="0.9" />
<text x="518.3" y="79.9" font-family='"Liberation Sans", sans-serif' font-size="9.2" text-anchor="start" fill="#222" stroke="#222" stroke-width="0.25">8</text>
<line x1="514.8" y1="63.9" x2="513.2" y2="63.9" stroke="#555" stroke-width="0.9" />
<line x1="514.8" y1="51.1" x2="512.2" y2="51.1" stroke="#555" stroke-width="0.9" />
<text x="518.3" y="54.3" font-family='"Liberation Sans", sans-serif' font-size="9.2" text-anchor="start" fill="#222" stroke="#222" stroke-width="0.25">10</text>
<text transform="translate(540.3,108.2) rotate(-90)" font-family='"Liberation Serif", serif' font-size="12.6" text-anchor="middle" fill="#222" textLength="58.4" lengthAdjust="spacingAndGlyphs">I<tspan font-size="8.8" dy="2.8">MQW</tspan><tspan dy="-2.8"> / (mA)</tspan></text>
<line x1="342" y1="184.8" x2="342" y2="182.2" stroke="#555" stroke-width="0.9" />
<text x="342" y="195.6" font-family='"Liberation Sans", sans-serif' font-size="9.2" text-anchor="middle" fill="#222" stroke="#222" stroke-width="0.25">0</text>
<line x1="358.4" y1="184.8" x2="358.4" y2="183.2" stroke="#555" stroke-width="0.9" />
<line x1="374.8" y1="184.8" x2="374.8" y2="182.2" stroke="#555" stroke-width="0.9" />
<text x="374.8" y="195.6" font-family='"Liberation Sans", sans-serif' font-size="9.2" text-anchor="middle" fill="#222" stroke="#222" stroke-width="0.25">2</text>
<line x1="391.2" y1="184.8" x2="391.2" y2="183.2" stroke="#555" stroke-width="0.9" />
<line x1="407.6" y1="184.8" x2="407.6" y2="182.2" stroke="#555" stroke-width="0.9" />
<text x="407.6" y="195.6" font-family='"Liberation Sans", sans-serif' font-size="9.2" text-anchor="middle" fill="#222" stroke="#222" stroke-width="0.25">4</text>
<line x1="424" y1="184.8" x2="424" y2="183.2" stroke="#555" stroke-width="0.9" />
<line x1="440.4" y1="184.8" x2="440.4" y2="182.2" stroke="#555" stroke-width="0.9" />
<text x="440.4" y="195.6" font-family='"Liberation Sans", sans-serif' font-size="9.2" text-anchor="middle" fill="#222" stroke="#222" stroke-width="0.25">6</text>
<line x1="456.8" y1="184.8" x2="456.8" y2="183.2" stroke="#555" stroke-width="0.9" />
<line x1="473.2" y1="184.8" x2="473.2" y2="182.2" stroke="#555" stroke-width="0.9" />
<text x="473.2" y="195.6" font-family='"Liberation Sans", sans-serif' font-size="9.2" text-anchor="middle" fill="#222" stroke="#222" stroke-width="0.25">8</text>
<line x1="489.6" y1="184.8" x2="489.6" y2="183.2" stroke="#555" stroke-width="0.9" />
<line x1="506" y1="184.8" x2="506" y2="182.2" stroke="#555" stroke-width="0.9" />
<text x="506" y="195.6" font-family='"Liberation Sans", sans-serif' font-size="9.2" text-anchor="middle" fill="#222" stroke="#222" stroke-width="0.25">10</text>
<text x="430.6" y="208.2" font-family='"Liberation Serif", serif' font-size="12.6" text-anchor="middle" fill="#222" stroke="#222" stroke-width="0.2">V<tspan font-size="7" dy="3.2">A</tspan><tspan dy="-3.2"> / (V)</tspan></text>
<line x1="348.5" y1="49.9" x2="369.4" y2="49.9" stroke="#ff3b3b" stroke-width="1.2" />
<polygon points="359,47.81 361,51.32 357,51.32" fill="#fff" stroke="#ff3b3b" stroke-width="0.7"/>
<text x="372.4" y="52.9" font-family='"Liberation Serif", serif' font-size="9.4" fill="#ff3b3b" stroke="#ff3b3b" stroke-width="0.3">LOP</text>
<text x="401.8" y="62.4" font-family='"Liberation Serif", serif' font-size="6.6" fill="#ff3b3b" stroke="#ff3b3b" stroke-width="0.15">I<tspan font-size="4.6" dy="1.4">B</tspan><tspan dy="-1.4">=10&#956;A</tspan></text>
<line x1="419.3" y1="68.4" x2="418" y2="65.5" stroke="#ff3b3b" stroke-width="0.7" />
<polygon points="417.4,64.3 419.24,65.87 417.42,66.72" fill="#ff3b3b"/>
<text x="386.3" y="88" font-family='"Liberation Serif", serif' font-size="7" fill="#ff3b3b" stroke="#ff3b3b" stroke-width="0.15">&#916;LOP</text>
<line x1="407.7" y1="81.5" x2="407.7" y2="88" stroke="#ff3b3b" stroke-width="0.8" />
<polygon points="407.7,80.3 408.8,82.3 406.6,82.3" fill="#ff3b3b"/>
<polygon points="407.7,89.2 406.6,87.2 408.8,87.2" fill="#ff3b3b"/>
<line x1="364.5" y1="82.2" x2="378" y2="82.2" stroke="#ff3b3b" stroke-width="0.9" />
<polygon points="362.3,82.2 365.1,80.8 365.1,83.6" fill="#ff3b3b"/>
<line x1="373.2" y1="86" x2="373.2" y2="136" stroke="#ff3b3b" stroke-width="0.6" stroke-dasharray="2.5,2.2" opacity="0.75"/>
<line x1="380.2" y1="80" x2="380.2" y2="134" stroke="#ff3b3b" stroke-width="0.6" stroke-dasharray="2.5,2.2" opacity="0.75"/>
<text x="385" y="129.5" font-family='"Liberation Serif", serif' font-size="6.6" fill="#ff3b3b" stroke="#ff3b3b" stroke-width="0.15">I<tspan font-size="4.6" dy="1.4">B</tspan><tspan dy="-1.4">=50&#956;A</tspan></text>
<line x1="408.2" y1="116.4" x2="402.5" y2="121.2" stroke="#ff3b3b" stroke-width="0.7" />
<polygon points="400.9,122.4 401.94,120.22 403.23,121.75" fill="#ff3b3b"/>
<text x="359" y="173.4" font-family='"Liberation Serif", serif' font-size="8.2" fill="#222" stroke="#222" stroke-width="0.18">&#916;V<tspan font-size="5.6" dy="1.8">LED</tspan></text>
<line x1="344.5" y1="176.4" x2="386" y2="176.4" stroke="#222" stroke-width="0.8" />
<polygon points="342.3,176.4 344.8,175.2 344.8,177.6" fill="#222"/>
<polygon points="388.3,176.4 385.8,177.6 385.8,175.2" fill="#222"/>
<text x="460.7" y="102.5" font-family='"Liberation Serif", serif' font-size="6.6" fill="#333" stroke="#333" stroke-width="0.15">I<tspan font-size="4.6" dy="1.4">B</tspan><tspan dy="-1.4">=50&#956;A</tspan></text>
<line x1="470" y1="103.5" x2="468.5" y2="108" stroke="#222" stroke-width="0.7" />
<polygon points="468,110 467.6,107.62 469.54,108.13" fill="#222"/>
<text x="421" y="179.3" font-family='"Liberation Serif", serif' font-size="6.6" fill="#333" stroke="#333" stroke-width="0.15">I<tspan font-size="4.6" dy="1.4">B</tspan><tspan dy="-1.4">=10&#956;A</tspan></text>
<line x1="425.5" y1="174.5" x2="423.2" y2="171.5" stroke="#222" stroke-width="0.7" />
<polygon points="422.2,170 424.28,171.23 422.64,172.38" fill="#222"/>
<text x="482.6" y="146" font-family='"Liberation Serif", serif' font-size="6.8" fill="#333" stroke="#333" stroke-width="0.15">&#916;I<tspan font-size="4.4" dy="1.4">MQW</tspan></text>
<line x1="478.5" y1="144.5" x2="478.5" y2="152.8" stroke="#222" stroke-width="0.7" />
<polygon points="478.5,142.6 479.6,144.6 477.4,144.6" fill="#222"/>
<polygon points="478.5,154.6 477.4,152.6 479.6,152.6" fill="#222"/>
<rect x="445" y="121" width="6.7" height="49" fill="none" stroke="#555" stroke-width="0.7" stroke-dasharray="2.5,2"/>
<line x1="448.5" y1="166.9" x2="462.5" y2="166.9" stroke="#222" stroke-width="0.8" />
<polygon points="465,166.9 462.2,168.2 462.2,165.6" fill="#222"/>
<line x1="466.3" y1="173.1" x2="486.8" y2="173.1" stroke="#222" stroke-width="1" />
<rect x="475" y="171.6" width="3" height="3" fill="#fff" stroke="#222" stroke-width="0.6"/>
<text x="488.7" y="177.4" font-family='"Liberation Serif", serif' font-size="10" fill="#222" stroke="#222" stroke-width="0.22">I<tspan font-size="7" dy="2">MQW</tspan></text>
<clipPath id="c1"><rect x="37" y="225.4" width="130.5" height="114.99999999999997"/></clipPath>
<line x1="37" y1="340.4" x2="39.5" y2="340.4" stroke="#505050" stroke-width="0.9" />
<text x="34.6" y="343.25" transform="translate(0,-34.33) scale(1,1.1)" font-family='"Liberation Sans", sans-serif' font-size="7.2" text-anchor="end" fill="#1a1a1a" stroke="#1a1a1a" stroke-width="0.18">0</text>
<line x1="37" y1="327.62" x2="39.5" y2="327.62" stroke="#505050" stroke-width="0.9" />
<text x="34.6" y="330.47" transform="translate(0,-33.05) scale(1,1.1)" font-family='"Liberation Sans", sans-serif' font-size="7.2" text-anchor="end" fill="#1a1a1a" stroke="#1a1a1a" stroke-width="0.18">50</text>
<line x1="37" y1="314.84" x2="39.5" y2="314.84" stroke="#505050" stroke-width="0.9" />
<text x="34.6" y="317.7" transform="translate(0,-31.77) scale(1,1.1)" font-family='"Liberation Sans", sans-serif' font-size="7.2" text-anchor="end" fill="#1a1a1a" stroke="#1a1a1a" stroke-width="0.18">100</text>
<line x1="37" y1="302.07" x2="39.5" y2="302.07" stroke="#505050" stroke-width="0.9" />
<text x="34.6" y="304.92" transform="translate(0,-30.49) scale(1,1.1)" font-family='"Liberation Sans", sans-serif' font-size="7.2" text-anchor="end" fill="#1a1a1a" stroke="#1a1a1a" stroke-width="0.18">150</text>
<line x1="37" y1="289.29" x2="39.5" y2="289.29" stroke="#505050" stroke-width="0.9" />
<text x="34.6" y="292.14" transform="translate(0,-29.21) scale(1,1.1)" font-family='"Liberation Sans", sans-serif' font-size="7.2" text-anchor="end" fill="#1a1a1a" stroke="#1a1a1a" stroke-width="0.18">200</text>
<line x1="37" y1="276.51" x2="39.5" y2="276.51" stroke="#505050" stroke-width="0.9" />
<text x="34.6" y="279.36" transform="translate(0,-27.94) scale(1,1.1)" font-family='"Liberation Sans", sans-serif' font-size="7.2" text-anchor="end" fill="#1a1a1a" stroke="#1a1a1a" stroke-width="0.18">250</text>
<line x1="37" y1="263.73" x2="39.5" y2="263.73" stroke="#505050" stroke-width="0.9" />
<text x="34.6" y="266.58" transform="translate(0,-26.66) scale(1,1.1)" font-family='"Liberation Sans", sans-serif' font-size="7.2" text-anchor="end" fill="#1a1a1a" stroke="#1a1a1a" stroke-width="0.18">300</text>
<line x1="37" y1="250.96" x2="39.5" y2="250.96" stroke="#505050" stroke-width="0.9" />
<text x="34.6" y="253.81" transform="translate(0,-25.38) scale(1,1.1)" font-family='"Liberation Sans", sans-serif' font-size="7.2" text-anchor="end" fill="#1a1a1a" stroke="#1a1a1a" stroke-width="0.18">350</text>
<line x1="37" y1="238.18" x2="39.5" y2="238.18" stroke="#505050" stroke-width="0.9" />
<text x="34.6" y="241.03" transform="translate(0,-24.1) scale(1,1.1)" font-family='"Liberation Sans", sans-serif' font-size="7.2" text-anchor="end" fill="#1a1a1a" stroke="#1a1a1a" stroke-width="0.18">400</text>
<line x1="37" y1="225.4" x2="39.5" y2="225.4" stroke="#505050" stroke-width="0.9" />
<text x="34.6" y="228.25" transform="translate(0,-22.83) scale(1,1.1)" font-family='"Liberation Sans", sans-serif' font-size="7.2" text-anchor="end" fill="#1a1a1a" stroke="#1a1a1a" stroke-width="0.18">450</text>
<line x1="37" y1="334.01" x2="38.5" y2="334.01" stroke="#505050" stroke-width="0.8" />
<line x1="37" y1="321.23" x2="38.5" y2="321.23" stroke="#505050" stroke-width="0.8" />
<line x1="37" y1="308.46" x2="38.5" y2="308.46" stroke="#505050" stroke-width="0.8" />
<line x1="37" y1="295.68" x2="38.5" y2="295.68" stroke="#505050" stroke-width="0.8" />
<line x1="37" y1="282.9" x2="38.5" y2="282.9" stroke="#505050" stroke-width="0.8" />
<line x1="37" y1="270.12" x2="38.5" y2="270.12" stroke="#505050" stroke-width="0.8" />
<line x1="37" y1="257.34" x2="38.5" y2="257.34" stroke="#505050" stroke-width="0.8" />
<line x1="37" y1="244.57" x2="38.5" y2="244.57" stroke="#505050" stroke-width="0.8" />
<line x1="37" y1="231.79" x2="38.5" y2="231.79" stroke="#505050" stroke-width="0.8" />
<line x1="37" y1="340.4" x2="37" y2="337.9" stroke="#505050" stroke-width="0.9" />
<text x="37" y="350.3" transform="translate(0,-35.03) scale(1,1.1)" font-family='"Liberation Sans", sans-serif' font-size="7.2" text-anchor="middle" fill="#1a1a1a" stroke="#1a1a1a" stroke-width="0.18">10<tspan font-size="4.9" dy="-3.02">-7</tspan></text>
<line x1="46.66" y1="340.4" x2="46.66" y2="338.9" stroke="#505050" stroke-width="0.8" />
<line x1="52.32" y1="340.4" x2="52.32" y2="338.9" stroke="#505050" stroke-width="0.8" />
<line x1="56.33" y1="340.4" x2="56.33" y2="338.9" stroke="#505050" stroke-width="0.8" />
<line x1="59.44" y1="340.4" x2="59.44" y2="338.9" stroke="#505050" stroke-width="0.8" />
<line x1="61.98" y1="340.4" x2="61.98" y2="338.9" stroke="#505050" stroke-width="0.8" />
<line x1="64.13" y1="340.4" x2="64.13" y2="338.9" stroke="#505050" stroke-width="0.8" />
<line x1="65.99" y1="340.4" x2="65.99" y2="338.9" stroke="#505050" stroke-width="0.8" />
<line x1="67.63" y1="340.4" x2="67.63" y2="338.9" stroke="#505050" stroke-width="0.8" />
<line x1="69.1" y1="340.4" x2="69.1" y2="337.9" stroke="#505050" stroke-width="0.9" />
<text x="69.1" y="350.3" transform="translate(0,-35.03) scale(1,1.1)" font-family='"Liberation Sans", sans-serif' font-size="7.2" text-anchor="middle" fill="#1a1a1a" stroke="#1a1a1a" stroke-width="0.18">10<tspan font-size="4.9" dy="-3.02">-6</tspan></text>
<line x1="78.76" y1="340.4" x2="78.76" y2="338.9" stroke="#505050" stroke-width="0.8" />
<line x1="84.42" y1="340.4" x2="84.42" y2="338.9" stroke="#505050" stroke-width="0.8" />
<line x1="88.43" y1="340.4" x2="88.43" y2="338.9" stroke="#505050" stroke-width="0.8" />
<line x1="91.54" y1="340.4" x2="91.54" y2="338.9" stroke="#505050" stroke-width="0.8" />
<line x1="94.08" y1="340.4" x2="94.08" y2="338.9" stroke="#505050" stroke-width="0.8" />
<line x1="96.23" y1="340.4" x2="96.23" y2="338.9" stroke="#505050" stroke-width="0.8" />
<line x1="98.09" y1="340.4" x2="98.09" y2="338.9" stroke="#505050" stroke-width="0.8" />
<line x1="99.73" y1="340.4" x2="99.73" y2="338.9" stroke="#505050" stroke-width="0.8" />
<line x1="101.2" y1="340.4" x2="101.2" y2="337.9" stroke="#505050" stroke-width="0.9" />
<text x="101.2" y="350.3" transform="translate(0,-35.03) scale(1,1.1)" font-family='"Liberation Sans", sans-serif' font-size="7.2" text-anchor="middle" fill="#1a1a1a" stroke="#1a1a1a" stroke-width="0.18">10<tspan font-size="4.9" dy="-3.02">-5</tspan></text>
<line x1="110.86" y1="340.4" x2="110.86" y2="338.9" stroke="#505050" stroke-width="0.8" />
<line x1="116.52" y1="340.4" x2="116.52" y2="338.9" stroke="#505050" stroke-width="0.8" />
<line x1="120.53" y1="340.4" x2="120.53" y2="338.9" stroke="#505050" stroke-width="0.8" />
<line x1="123.64" y1="340.4" x2="123.64" y2="338.9" stroke="#505050" stroke-width="0.8" />
<line x1="126.18" y1="340.4" x2="126.18" y2="338.9" stroke="#505050" stroke-width="0.8" />
<line x1="128.33" y1="340.4" x2="128.33" y2="338.9" stroke="#505050" stroke-width="0.8" />
<line x1="130.19" y1="340.4" x2="130.19" y2="338.9" stroke="#505050" stroke-width="0.8" />
<line x1="131.83" y1="340.4" x2="131.83" y2="338.9" stroke="#505050" stroke-width="0.8" />
<line x1="133.3" y1="340.4" x2="133.3" y2="337.9" stroke="#505050" stroke-width="0.9" />
<text x="133.3" y="350.3" transform="translate(0,-35.03) scale(1,1.1)" font-family='"Liberation Sans", sans-serif' font-size="7.2" text-anchor="middle" fill="#1a1a1a" stroke="#1a1a1a" stroke-width="0.18">10<tspan font-size="4.9" dy="-3.02">-4</tspan></text>
<line x1="142.96" y1="340.4" x2="142.96" y2="338.9" stroke="#505050" stroke-width="0.8" />
<line x1="148.62" y1="340.4" x2="148.62" y2="338.9" stroke="#505050" stroke-width="0.8" />
<line x1="152.63" y1="340.4" x2="152.63" y2="338.9" stroke="#505050" stroke-width="0.8" />
<line x1="155.74" y1="340.4" x2="155.74" y2="338.9" stroke="#505050" stroke-width="0.8" />
<line x1="158.28" y1="340.4" x2="158.28" y2="338.9" stroke="#505050" stroke-width="0.8" />
<line x1="160.43" y1="340.4" x2="160.43" y2="338.9" stroke="#505050" stroke-width="0.8" />
<line x1="162.29" y1="340.4" x2="162.29" y2="338.9" stroke="#505050" stroke-width="0.8" />
<line x1="163.93" y1="340.4" x2="163.93" y2="338.9" stroke="#505050" stroke-width="0.8" />
<line x1="165.4" y1="340.4" x2="165.4" y2="337.9" stroke="#505050" stroke-width="0.9" />
<text x="165.4" y="350.3" transform="translate(0,-35.03) scale(1,1.1)" font-family='"Liberation Sans", sans-serif' font-size="7.2" text-anchor="middle" fill="#1a1a1a" stroke="#1a1a1a" stroke-width="0.18">10<tspan font-size="4.9" dy="-3.02">-3</tspan></text>
<polyline points="37,289.29 41.82,287.5 64.61,291.33 86.43,302.83 105.37,313.31 120.14,319.96 141.65,327.11 158.34,332.48" fill="none" stroke="#2ecf8c" stroke-width="1.45" stroke-linejoin="round" clip-path="url(#c1)"/>
<rect x="40.11" y="285.79" width="3.42" height="3.42" fill="#fff" stroke="#2ecf8c" stroke-width="0.9"/>
<rect x="62.9" y="289.62" width="3.42" height="3.42" fill="#fff" stroke="#2ecf8c" stroke-width="0.9"/>
<rect x="84.72" y="301.12" width="3.42" height="3.42" fill="#fff" stroke="#2ecf8c" stroke-width="0.9"/>
<rect x="103.66" y="311.6" width="3.42" height="3.42" fill="#fff" stroke="#2ecf8c" stroke-width="0.9"/>
<rect x="118.43" y="318.25" width="3.42" height="3.42" fill="#fff" stroke="#2ecf8c" stroke-width="0.9"/>
<rect x="139.94" y="325.4" width="3.42" height="3.42" fill="#fff" stroke="#2ecf8c" stroke-width="0.9"/>
<rect x="156.63" y="330.77" width="3.42" height="3.42" fill="#fff" stroke="#2ecf8c" stroke-width="0.9"/>
<polyline points="37,286.73 41.82,285.2 64.61,290.31 86.43,302.83 105.37,313.31 120.14,319.44 141.65,326.86 158.34,332.22" fill="none" stroke="#4d7fc0" stroke-width="1.45" stroke-linejoin="round" clip-path="url(#c1)"/>
<polygon points="41.82,283.11 43.81,286.62 39.82,286.62" fill="#fff" stroke="#4d7fc0" stroke-width="0.9"/>
<polygon points="64.61,288.22 66.6,291.74 62.61,291.74" fill="#fff" stroke="#4d7fc0" stroke-width="0.9"/>
<polygon points="86.43,300.74 88.43,304.26 84.44,304.26" fill="#fff" stroke="#4d7fc0" stroke-width="0.9"/>
<polygon points="105.37,311.22 107.37,314.74 103.38,314.74" fill="#fff" stroke="#4d7fc0" stroke-width="0.9"/>
<polygon points="120.14,317.35 122.13,320.87 118.14,320.87" fill="#fff" stroke="#4d7fc0" stroke-width="0.9"/>
<polygon points="141.65,324.77 143.64,328.28 139.65,328.28" fill="#fff" stroke="#4d7fc0" stroke-width="0.9"/>
<polygon points="158.34,330.13 160.33,333.65 156.34,333.65" fill="#fff" stroke="#4d7fc0" stroke-width="0.9"/>
<polyline points="37,275.49 41.82,273.44 64.61,282.13 86.43,297.47 105.37,311.78 120.14,319.19 141.65,327.11 158.34,332.73" fill="none" stroke="#f23f3f" stroke-width="1.45" stroke-linejoin="round" clip-path="url(#c1)"/>
<circle cx="41.82" cy="273.44" r="1.9" fill="#fff" stroke="#f23f3f" stroke-width="0.9"/>
<circle cx="64.61" cy="282.13" r="1.9" fill="#fff" stroke="#f23f3f" stroke-width="0.9"/>
<circle cx="86.43" cy="297.47" r="1.9" fill="#fff" stroke="#f23f3f" stroke-width="0.9"/>
<circle cx="105.37" cy="311.78" r="1.9" fill="#fff" stroke="#f23f3f" stroke-width="0.9"/>
<circle cx="120.14" cy="319.19" r="1.9" fill="#fff" stroke="#f23f3f" stroke-width="0.9"/>
<circle cx="141.65" cy="327.11" r="1.9" fill="#fff" stroke="#f23f3f" stroke-width="0.9"/>
<circle cx="158.34" cy="332.73" r="1.9" fill="#fff" stroke="#f23f3f" stroke-width="0.9"/>
<polyline points="37,259.64 41.82,258.62 64.61,276 86.43,295.42 105.37,309.73 120.14,318.68 141.65,327.11 158.34,332.73" fill="none" stroke="#ffb060" stroke-width="1.45" stroke-linejoin="round" clip-path="url(#c1)"/>
<polygon points="41.82,260.71 43.81,257.2 39.82,257.2" fill="#fff" stroke="#ffb060" stroke-width="0.9"/>
<polygon points="64.61,278.09 66.6,274.57 62.61,274.57" fill="#fff" stroke="#ffb060" stroke-width="0.9"/>
<polygon points="86.43,297.51 88.43,294 84.44,294" fill="#fff" stroke="#ffb060" stroke-width="0.9"/>
<polygon points="105.37,311.82 107.37,308.31 103.38,308.31" fill="#fff" stroke="#ffb060" stroke-width="0.9"/>
<polygon points="120.14,320.77 122.13,317.25 118.14,317.25" fill="#fff" stroke="#ffb060" stroke-width="0.9"/>
<polygon points="141.65,329.2 143.64,325.69 139.65,325.69" fill="#fff" stroke="#ffb060" stroke-width="0.9"/>
<polygon points="158.34,334.82 160.33,331.31 156.34,331.31" fill="#fff" stroke="#ffb060" stroke-width="0.9"/>
<polyline points="37,258.62 41.82,256.07 64.61,271.4 86.43,292.61 105.37,308.2 120.14,317.4 141.65,326.86 158.34,332.99" fill="none" stroke="#9484e2" stroke-width="1.45" stroke-linejoin="round" clip-path="url(#c1)"/>
<polygon points="41.82,253.79 44.1,256.07 41.82,258.35 39.54,256.07" fill="#fff" stroke="#9484e2" stroke-width="0.9"/>
<polygon points="64.61,269.12 66.89,271.4 64.61,273.68 62.33,271.4" fill="#fff" stroke="#9484e2" stroke-width="0.9"/>
<polygon points="86.43,290.33 88.71,292.61 86.43,294.89 84.15,292.61" fill="#fff" stroke="#9484e2" stroke-width="0.9"/>
<polygon points="105.37,305.92 107.65,308.2 105.37,310.48 103.09,308.2" fill="#fff" stroke="#9484e2" stroke-width="0.9"/>
<polygon points="120.14,315.12 122.42,317.4 120.14,319.68 117.86,317.4" fill="#fff" stroke="#9484e2" stroke-width="0.9"/>
<polygon points="141.65,324.58 143.93,326.86 141.65,329.14 139.37,326.86" fill="#fff" stroke="#9484e2" stroke-width="0.9"/>
<polygon points="158.34,330.71 160.62,332.99 158.34,335.27 156.06,332.99" fill="#fff" stroke="#9484e2" stroke-width="0.9"/>
<text x="105" y="236.4" font-family='"Liberation Serif", serif' font-size="7.6" fill="#4aa8f8" stroke="#4aa8f8" stroke-width="0.17">Emitter region</text>
<text x="105" y="245.4" font-family='"Liberation Serif", serif' font-size="7.2" fill="#222" stroke="#222" stroke-width="0.16">V<tspan font-size="5" dy="1.6">A</tspan><tspan dy="-1.6">=6V</tspan></text>
<line x1="104.5" y1="254.2" x2="120.4" y2="254.2" stroke="#2ecf8c" stroke-width="1.4" />
<rect x="110.92" y="252.67" width="3.06" height="3.06" fill="#fff" stroke="#2ecf8c" stroke-width="0.8"/>
<text x="122.1" y="256.64" font-family='"Liberation Serif", serif' font-size="7.4" fill="#1a1a1a" stroke="#1a1a1a" stroke-width="0.16">1<tspan font-size="5.3">&#215;</tspan>10<tspan font-size="3.9" dy="-2.9">19</tspan><tspan dy="2.9">/ (cm</tspan><tspan font-size="3.9" dy="-2.9">-3</tspan><tspan dy="2.9">)</tspan></text>
<line x1="104.5" y1="264.1" x2="120.4" y2="264.1" stroke="#4d7fc0" stroke-width="1.4" />
<polygon points="112.45,262.23 114.23,265.38 110.67,265.38" fill="#fff" stroke="#4d7fc0" stroke-width="0.8"/>
<text x="122.1" y="266.54" font-family='"Liberation Serif", serif' font-size="7.4" fill="#1a1a1a" stroke="#1a1a1a" stroke-width="0.16">3<tspan font-size="5.3">&#215;</tspan>10<tspan font-size="3.9" dy="-2.9">19</tspan><tspan dy="2.9">/ (cm</tspan><tspan font-size="3.9" dy="-2.9">-3</tspan><tspan dy="2.9">)</tspan></text>
<line x1="104.5" y1="273.4" x2="120.4" y2="273.4" stroke="#f23f3f" stroke-width="1.4" />
<circle cx="112.45" cy="273.4" r="1.7" fill="#fff" stroke="#f23f3f" stroke-width="0.8"/>
<text x="122.1" y="275.84" font-family='"Liberation Serif", serif' font-size="7.4" fill="#1a1a1a" stroke="#1a1a1a" stroke-width="0.16">5<tspan font-size="5.3">&#215;</tspan>10<tspan font-size="3.9" dy="-2.9">19</tspan><tspan dy="2.9">/ (cm</tspan><tspan font-size="3.9" dy="-2.9">-3</tspan><tspan dy="2.9">)</tspan></text>
<line x1="104.5" y1="282.8" x2="120.4" y2="282.8" stroke="#ffb060" stroke-width="1.4" />
<polygon points="112.45,284.67 114.23,281.53 110.67,281.53" fill="#fff" stroke="#ffb060" stroke-width="0.8"/>
<text x="122.1" y="285.24" font-family='"Liberation Serif", serif' font-size="7.4" fill="#1a1a1a" stroke="#1a1a1a" stroke-width="0.16">7<tspan font-size="5.3">&#215;</tspan>10<tspan font-size="3.9" dy="-2.9">19</tspan><tspan dy="2.9">/ (cm</tspan><tspan font-size="3.9" dy="-2.9">-3</tspan><tspan dy="2.9">)</tspan></text>
<line x1="104.5" y1="292.6" x2="120.4" y2="292.6" stroke="#9484e2" stroke-width="1.4" />
<polygon points="112.45,290.56 114.49,292.6 112.45,294.64 110.41,292.6" fill="#fff" stroke="#9484e2" stroke-width="0.8"/>
<text x="122.1" y="295.04" font-family='"Liberation Serif", serif' font-size="7.4" fill="#1a1a1a" stroke="#1a1a1a" stroke-width="0.16">1<tspan font-size="5.3">&#215;</tspan>10<tspan font-size="3.9" dy="-2.9">20</tspan><tspan dy="2.9">/ (cm</tspan><tspan font-size="3.9" dy="-2.9">-3</tspan><tspan dy="2.9">)</tspan></text>
<text transform="translate(17.4,284.4) rotate(-90)" x="0" y="0" font-family='"Liberation Serif", serif' font-size="10.3" text-anchor="middle" fill="#222" stroke="#222" stroke-width="0.23">Current gain</text>
<text x="104.5" y="363" font-family='"Liberation Serif", serif' font-size="10" text-anchor="middle" fill="#222" stroke="#222" stroke-width="0.22">I<tspan font-size="7" dy="2.5">B</tspan><tspan dy="-2.5"> / (A)</tspan></text>
<clipPath id="c2"><rect x="211.7" y="226.5" width="130.8" height="115.19999999999999"/></clipPath>
<line x1="211.7" y1="335.2" x2="214.2" y2="335.2" stroke="#505050" stroke-width="0.9" />
<text x="209.3" y="338.05" transform="translate(0,-33.81) scale(1,1.1)" font-family='"Liberation Sans", sans-serif' font-size="7.2" text-anchor="end" fill="#1a1a1a" stroke="#1a1a1a" stroke-width="0.18">0</text>
<line x1="211.7" y1="315.4" x2="214.2" y2="315.4" stroke="#505050" stroke-width="0.9" />
<text x="209.3" y="318.25" transform="translate(0,-31.83) scale(1,1.1)" font-family='"Liberation Sans", sans-serif' font-size="7.2" text-anchor="end" fill="#1a1a1a" stroke="#1a1a1a" stroke-width="0.18">2</text>
<line x1="211.7" y1="295.6" x2="214.2" y2="295.6" stroke="#505050" stroke-width="0.9" />
<text x="209.3" y="298.45" transform="translate(0,-29.85) scale(1,1.1)" font-family='"Liberation Sans", sans-serif' font-size="7.2" text-anchor="end" fill="#1a1a1a" stroke="#1a1a1a" stroke-width="0.18">4</text>
<line x1="211.7" y1="275.8" x2="214.2" y2="275.8" stroke="#505050" stroke-width="0.9" />
<text x="209.3" y="278.65" transform="translate(0,-27.87) scale(1,1.1)" font-family='"Liberation Sans", sans-serif' font-size="7.2" text-anchor="end" fill="#1a1a1a" stroke="#1a1a1a" stroke-width="0.18">6</text>
<line x1="211.7" y1="256" x2="214.2" y2="256" stroke="#505050" stroke-width="0.9" />
<text x="209.3" y="258.85" transform="translate(0,-25.89) scale(1,1.1)" font-family='"Liberation Sans", sans-serif' font-size="7.2" text-anchor="end" fill="#1a1a1a" stroke="#1a1a1a" stroke-width="0.18">8</text>
<line x1="211.7" y1="236.2" x2="214.2" y2="236.2" stroke="#505050" stroke-width="0.9" />
<text x="209.3" y="239.05" transform="translate(0,-23.91) scale(1,1.1)" font-family='"Liberation Sans", sans-serif' font-size="7.2" text-anchor="end" fill="#1a1a1a" stroke="#1a1a1a" stroke-width="0.18">10</text>
<line x1="211.7" y1="325.3" x2="213.2" y2="325.3" stroke="#505050" stroke-width="0.8" />
<line x1="211.7" y1="305.5" x2="213.2" y2="305.5" stroke="#505050" stroke-width="0.8" />
<line x1="211.7" y1="285.7" x2="213.2" y2="285.7" stroke="#505050" stroke-width="0.8" />
<line x1="211.7" y1="265.9" x2="213.2" y2="265.9" stroke="#505050" stroke-width="0.8" />
<line x1="211.7" y1="246.1" x2="213.2" y2="246.1" stroke="#505050" stroke-width="0.8" />
<line x1="218" y1="341.7" x2="218" y2="339.2" stroke="#505050" stroke-width="0.9" />
<text x="218" y="350.1" transform="translate(0,-35.01) scale(1,1.1)" font-family='"Liberation Sans", sans-serif' font-size="7.2" text-anchor="middle" fill="#1a1a1a" stroke="#1a1a1a" stroke-width="0.18">0</text>
<line x1="241.9" y1="341.7" x2="241.9" y2="339.2" stroke="#505050" stroke-width="0.9" />
<text x="241.9" y="350.1" transform="translate(0,-35.01) scale(1,1.1)" font-family='"Liberation Sans", sans-serif' font-size="7.2" text-anchor="middle" fill="#1a1a1a" stroke="#1a1a1a" stroke-width="0.18">2</text>
<line x1="265.8" y1="341.7" x2="265.8" y2="339.2" stroke="#505050" stroke-width="0.9" />
<text x="265.8" y="350.1" transform="translate(0,-35.01) scale(1,1.1)" font-family='"Liberation Sans", sans-serif' font-size="7.2" text-anchor="middle" fill="#1a1a1a" stroke="#1a1a1a" stroke-width="0.18">4</text>
<line x1="289.7" y1="341.7" x2="289.7" y2="339.2" stroke="#505050" stroke-width="0.9" />
<text x="289.7" y="350.1" transform="translate(0,-35.01) scale(1,1.1)" font-family='"Liberation Sans", sans-serif' font-size="7.2" text-anchor="middle" fill="#1a1a1a" stroke="#1a1a1a" stroke-width="0.18">6</text>
<line x1="313.6" y1="341.7" x2="313.6" y2="339.2" stroke="#505050" stroke-width="0.9" />
<text x="313.6" y="350.1" transform="translate(0,-35.01) scale(1,1.1)" font-family='"Liberation Sans", sans-serif' font-size="7.2" text-anchor="middle" fill="#1a1a1a" stroke="#1a1a1a" stroke-width="0.18">8</text>
<line x1="337.5" y1="341.7" x2="337.5" y2="339.2" stroke="#505050" stroke-width="0.9" />
<text x="337.5" y="350.1" transform="translate(0,-35.01) scale(1,1.1)" font-family='"Liberation Sans", sans-serif' font-size="7.2" text-anchor="middle" fill="#1a1a1a" stroke="#1a1a1a" stroke-width="0.18">10</text>
<line x1="229.95" y1="341.7" x2="229.95" y2="340.2" stroke="#505050" stroke-width="0.8" />
<line x1="253.85" y1="341.7" x2="253.85" y2="340.2" stroke="#505050" stroke-width="0.8" />
<line x1="277.75" y1="341.7" x2="277.75" y2="340.2" stroke="#505050" stroke-width="0.8" />
<line x1="301.65" y1="341.7" x2="301.65" y2="340.2" stroke="#505050" stroke-width="0.8" />
<line x1="325.55" y1="341.7" x2="325.55" y2="340.2" stroke="#505050" stroke-width="0.8" />
<polyline points="218,335.2 229.95,335.2 241.9,335.2 247.88,335.2 249.07,335.2 251.46,335.2 253.85,334.41 256.24,329.26 258.63,319.36 261.02,311.44 263.41,307.97 265.8,306 271.77,304.01 277.75,302.53 283.73,301.04 289.7,299.06 301.65,293.62 313.6,287.19 325.55,280.25 337.5,270.85" fill="none" stroke="#2ecf8c" stroke-width="1.45" stroke-linejoin="round" clip-path="url(#c2)"/>
<rect x="216.29" y="333.49" width="3.42" height="3.42" fill="#fff" stroke="#2ecf8c" stroke-width="0.9"/>
<rect x="228.24" y="333.49" width="3.42" height="3.42" fill="#fff" stroke="#2ecf8c" stroke-width="0.9"/>
<rect x="240.19" y="333.49" width="3.42" height="3.42" fill="#fff" stroke="#2ecf8c" stroke-width="0.9"/>
<rect x="246.16" y="333.49" width="3.42" height="3.42" fill="#fff" stroke="#2ecf8c" stroke-width="0.9"/>
<rect x="247.36" y="333.49" width="3.42" height="3.42" fill="#fff" stroke="#2ecf8c" stroke-width="0.9"/>
<rect x="249.75" y="333.49" width="3.42" height="3.42" fill="#fff" stroke="#2ecf8c" stroke-width="0.9"/>
<rect x="252.14" y="332.7" width="3.42" height="3.42" fill="#fff" stroke="#2ecf8c" stroke-width="0.9"/>
<rect x="254.53" y="327.55" width="3.42" height="3.42" fill="#fff" stroke="#2ecf8c" stroke-width="0.9"/>
<rect x="256.92" y="317.65" width="3.42" height="3.42" fill="#fff" stroke="#2ecf8c" stroke-width="0.9"/>
<rect x="259.31" y="309.73" width="3.42" height="3.42" fill="#fff" stroke="#2ecf8c" stroke-width="0.9"/>
<rect x="261.7" y="306.26" width="3.42" height="3.42" fill="#fff" stroke="#2ecf8c" stroke-width="0.9"/>
<rect x="264.09" y="304.29" width="3.42" height="3.42" fill="#fff" stroke="#2ecf8c" stroke-width="0.9"/>
<rect x="270.06" y="302.31" width="3.42" height="3.42" fill="#fff" stroke="#2ecf8c" stroke-width="0.9"/>
<rect x="276.04" y="300.82" width="3.42" height="3.42" fill="#fff" stroke="#2ecf8c" stroke-width="0.9"/>
<rect x="282.02" y="299.33" width="3.42" height="3.42" fill="#fff" stroke="#2ecf8c" stroke-width="0.9"/>
<rect x="287.99" y="297.36" width="3.42" height="3.42" fill="#fff" stroke="#2ecf8c" stroke-width="0.9"/>
<rect x="299.94" y="291.91" width="3.42" height="3.42" fill="#fff" stroke="#2ecf8c" stroke-width="0.9"/>
<rect x="311.89" y="285.48" width="3.42" height="3.42" fill="#fff" stroke="#2ecf8c" stroke-width="0.9"/>
<rect x="323.84" y="278.55" width="3.42" height="3.42" fill="#fff" stroke="#2ecf8c" stroke-width="0.9"/>
<rect x="335.79" y="269.14" width="3.42" height="3.42" fill="#fff" stroke="#2ecf8c" stroke-width="0.9"/>
<polyline points="218,335.2 229.95,335.2 241.9,335.2 247.88,335.2 249.07,335.2 251.46,335.2 253.85,334.41 256.24,329.26 258.63,319.36 261.02,311.44 263.41,307.97 265.8,306 271.77,304.01 277.75,302.53 283.73,301.04 289.7,299.06 301.65,293.12 313.6,286.69 325.55,279.76 337.5,269.86" fill="none" stroke="#4d7fc0" stroke-width="1.45" stroke-linejoin="round" clip-path="url(#c2)"/>
<polygon points="218,333.11 220,336.62 216,336.62" fill="#fff" stroke="#4d7fc0" stroke-width="0.9"/>
<polygon points="229.95,333.11 231.94,336.62 227.95,336.62" fill="#fff" stroke="#4d7fc0" stroke-width="0.9"/>
<polygon points="241.9,333.11 243.9,336.62 239.91,336.62" fill="#fff" stroke="#4d7fc0" stroke-width="0.9"/>
<polygon points="247.88,333.11 249.87,336.62 245.88,336.62" fill="#fff" stroke="#4d7fc0" stroke-width="0.9"/>
<polygon points="249.07,333.11 251.06,336.62 247.07,336.62" fill="#fff" stroke="#4d7fc0" stroke-width="0.9"/>
<polygon points="251.46,333.11 253.45,336.62 249.46,336.62" fill="#fff" stroke="#4d7fc0" stroke-width="0.9"/>
<polygon points="253.85,332.32 255.84,335.83 251.85,335.83" fill="#fff" stroke="#4d7fc0" stroke-width="0.9"/>
<polygon points="256.24,327.17 258.24,330.69 254.25,330.69" fill="#fff" stroke="#4d7fc0" stroke-width="0.9"/>
<polygon points="258.63,317.27 260.62,320.79 256.63,320.79" fill="#fff" stroke="#4d7fc0" stroke-width="0.9"/>
<polygon points="261.02,309.35 263.01,312.87 259.02,312.87" fill="#fff" stroke="#4d7fc0" stroke-width="0.9"/>
<polygon points="263.41,305.88 265.4,309.4 261.41,309.4" fill="#fff" stroke="#4d7fc0" stroke-width="0.9"/>
<polygon points="265.8,303.91 267.8,307.42 263.81,307.42" fill="#fff" stroke="#4d7fc0" stroke-width="0.9"/>
<polygon points="271.77,301.93 273.77,305.44 269.78,305.44" fill="#fff" stroke="#4d7fc0" stroke-width="0.9"/>
<polygon points="277.75,300.44 279.75,303.95 275.75,303.95" fill="#fff" stroke="#4d7fc0" stroke-width="0.9"/>
<polygon points="283.73,298.95 285.72,302.47 281.73,302.47" fill="#fff" stroke="#4d7fc0" stroke-width="0.9"/>
<polygon points="289.7,296.98 291.69,300.49 287.7,300.49" fill="#fff" stroke="#4d7fc0" stroke-width="0.9"/>
<polygon points="301.65,291.04 303.64,294.55 299.65,294.55" fill="#fff" stroke="#4d7fc0" stroke-width="0.9"/>
<polygon points="313.6,284.6 315.6,288.12 311.61,288.12" fill="#fff" stroke="#4d7fc0" stroke-width="0.9"/>
<polygon points="325.55,277.67 327.55,281.19 323.56,281.19" fill="#fff" stroke="#4d7fc0" stroke-width="0.9"/>
<polygon points="337.5,267.77 339.5,271.29 335.5,271.29" fill="#fff" stroke="#4d7fc0" stroke-width="0.9"/>
<polyline points="218,335.2 229.95,335.2 241.9,335.2 247.88,335.2 249.07,335.2 251.46,335.2 253.85,334.41 256.24,328.76 258.63,318.87 261.02,310.94 263.41,307.48 265.8,305.5 271.77,303.52 277.75,301.74 283.73,299.76 289.7,297.08 301.65,290.65 313.6,282.73 325.55,273.32 337.5,260.45" fill="none" stroke="#f23f3f" stroke-width="1.45" stroke-linejoin="round" clip-path="url(#c2)"/>
<circle cx="218" cy="335.2" r="1.9" fill="#fff" stroke="#f23f3f" stroke-width="0.9"/>
<circle cx="229.95" cy="335.2" r="1.9" fill="#fff" stroke="#f23f3f" stroke-width="0.9"/>
<circle cx="241.9" cy="335.2" r="1.9" fill="#fff" stroke="#f23f3f" stroke-width="0.9"/>
<circle cx="247.88" cy="335.2" r="1.9" fill="#fff" stroke="#f23f3f" stroke-width="0.9"/>
<circle cx="249.07" cy="335.2" r="1.9" fill="#fff" stroke="#f23f3f" stroke-width="0.9"/>
<circle cx="251.46" cy="335.2" r="1.9" fill="#fff" stroke="#f23f3f" stroke-width="0.9"/>
<circle cx="253.85" cy="334.41" r="1.9" fill="#fff" stroke="#f23f3f" stroke-width="0.9"/>
<circle cx="256.24" cy="328.76" r="1.9" fill="#fff" stroke="#f23f3f" stroke-width="0.9"/>
<circle cx="258.63" cy="318.87" r="1.9" fill="#fff" stroke="#f23f3f" stroke-width="0.9"/>
<circle cx="261.02" cy="310.94" r="1.9" fill="#fff" stroke="#f23f3f" stroke-width="0.9"/>
<circle cx="263.41" cy="307.48" r="1.9" fill="#fff" stroke="#f23f3f" stroke-width="0.9"/>
<circle cx="265.8" cy="305.5" r="1.9" fill="#fff" stroke="#f23f3f" stroke-width="0.9"/>
<circle cx="271.77" cy="303.52" r="1.9" fill="#fff" stroke="#f23f3f" stroke-width="0.9"/>
<circle cx="277.75" cy="301.74" r="1.9" fill="#fff" stroke="#f23f3f" stroke-width="0.9"/>
<circle cx="283.73" cy="299.76" r="1.9" fill="#fff" stroke="#f23f3f" stroke-width="0.9"/>
<circle cx="289.7" cy="297.08" r="1.9" fill="#fff" stroke="#f23f3f" stroke-width="0.9"/>
<circle cx="301.65" cy="290.65" r="1.9" fill="#fff" stroke="#f23f3f" stroke-width="0.9"/>
<circle cx="313.6" cy="282.73" r="1.9" fill="#fff" stroke="#f23f3f" stroke-width="0.9"/>
<circle cx="325.55" cy="273.32" r="1.9" fill="#fff" stroke="#f23f3f" stroke-width="0.9"/>
<circle cx="337.5" cy="260.45" r="1.9" fill="#fff" stroke="#f23f3f" stroke-width="0.9"/>
<polyline points="218,335.2 229.95,335.2 241.9,335.2 247.88,335.2 249.07,335.2 251.46,335.2 253.85,334.21 256.24,328.27 258.63,317.88 261.02,309.46 263.41,306 265.8,304.01 271.77,301.74 277.75,299.56 283.73,296.59 289.7,293.12 301.65,285.7 313.6,277.28 325.55,266.89 337.5,250.06" fill="none" stroke="#ffb060" stroke-width="1.45" stroke-linejoin="round" clip-path="url(#c2)"/>
<polygon points="218,337.29 220,333.77 216,333.77" fill="#fff" stroke="#ffb060" stroke-width="0.9"/>
<polygon points="229.95,337.29 231.94,333.77 227.95,333.77" fill="#fff" stroke="#ffb060" stroke-width="0.9"/>
<polygon points="241.9,337.29 243.9,333.77 239.91,333.77" fill="#fff" stroke="#ffb060" stroke-width="0.9"/>
<polygon points="247.88,337.29 249.87,333.77 245.88,333.77" fill="#fff" stroke="#ffb060" stroke-width="0.9"/>
<polygon points="249.07,337.29 251.06,333.77 247.07,333.77" fill="#fff" stroke="#ffb060" stroke-width="0.9"/>
<polygon points="251.46,337.29 253.45,333.77 249.46,333.77" fill="#fff" stroke="#ffb060" stroke-width="0.9"/>
<polygon points="253.85,336.3 255.84,332.78 251.85,332.78" fill="#fff" stroke="#ffb060" stroke-width="0.9"/>
<polygon points="256.24,330.36 258.24,326.84 254.25,326.84" fill="#fff" stroke="#ffb060" stroke-width="0.9"/>
<polygon points="258.63,319.96 260.62,316.45 256.63,316.45" fill="#fff" stroke="#ffb060" stroke-width="0.9"/>
<polygon points="261.02,311.55 263.01,308.03 259.02,308.03" fill="#fff" stroke="#ffb060" stroke-width="0.9"/>
<polygon points="263.41,308.08 265.4,304.57 261.41,304.57" fill="#fff" stroke="#ffb060" stroke-width="0.9"/>
<polygon points="265.8,306.1 267.8,302.59 263.81,302.59" fill="#fff" stroke="#ffb060" stroke-width="0.9"/>
<polygon points="271.77,303.83 273.77,300.31 269.78,300.31" fill="#fff" stroke="#ffb060" stroke-width="0.9"/>
<polygon points="277.75,301.65 279.75,298.13 275.75,298.13" fill="#fff" stroke="#ffb060" stroke-width="0.9"/>
<polygon points="283.73,298.68 285.72,295.16 281.73,295.16" fill="#fff" stroke="#ffb060" stroke-width="0.9"/>
<polygon points="289.7,295.21 291.69,291.7 287.7,291.7" fill="#fff" stroke="#ffb060" stroke-width="0.9"/>
<polygon points="301.65,287.79 303.64,284.27 299.65,284.27" fill="#fff" stroke="#ffb060" stroke-width="0.9"/>
<polygon points="313.6,279.37 315.6,275.86 311.61,275.86" fill="#fff" stroke="#ffb060" stroke-width="0.9"/>
<polygon points="325.55,268.98 327.55,265.46 323.56,265.46" fill="#fff" stroke="#ffb060" stroke-width="0.9"/>
<polygon points="337.5,252.15 339.5,248.63 335.5,248.63" fill="#fff" stroke="#ffb060" stroke-width="0.9"/>
<polyline points="218,335.2 229.95,335.2 241.9,335.2 247.88,335.2 249.07,335.2 251.46,335.2 253.85,334.01 256.24,326.29 258.63,315.7 261.02,307.48 263.41,301.84 265.8,296.99 271.77,290.65 277.75,285.3 283.73,281.25 289.7,276.79 301.65,269.86 313.6,259.96 325.55,249.27 337.5,237.19" fill="none" stroke="#9484e2" stroke-width="1.45" stroke-linejoin="round" clip-path="url(#c2)"/>
<polygon points="218,332.92 220.28,335.2 218,337.48 215.72,335.2" fill="#fff" stroke="#9484e2" stroke-width="0.9"/>
<polygon points="229.95,332.92 232.23,335.2 229.95,337.48 227.67,335.2" fill="#fff" stroke="#9484e2" stroke-width="0.9"/>
<polygon points="241.9,332.92 244.18,335.2 241.9,337.48 239.62,335.2" fill="#fff" stroke="#9484e2" stroke-width="0.9"/>
<polygon points="247.88,332.92 250.16,335.2 247.88,337.48 245.59,335.2" fill="#fff" stroke="#9484e2" stroke-width="0.9"/>
<polygon points="249.07,332.92 251.35,335.2 249.07,337.48 246.79,335.2" fill="#fff" stroke="#9484e2" stroke-width="0.9"/>
<polygon points="251.46,332.92 253.74,335.2 251.46,337.48 249.18,335.2" fill="#fff" stroke="#9484e2" stroke-width="0.9"/>
<polygon points="253.85,331.73 256.13,334.01 253.85,336.29 251.57,334.01" fill="#fff" stroke="#9484e2" stroke-width="0.9"/>
<polygon points="256.24,324.01 258.52,326.29 256.24,328.57 253.96,326.29" fill="#fff" stroke="#9484e2" stroke-width="0.9"/>
<polygon points="258.63,313.42 260.91,315.7 258.63,317.98 256.35,315.7" fill="#fff" stroke="#9484e2" stroke-width="0.9"/>
<polygon points="261.02,305.2 263.3,307.48 261.02,309.76 258.74,307.48" fill="#fff" stroke="#9484e2" stroke-width="0.9"/>
<polygon points="263.41,299.56 265.69,301.84 263.41,304.12 261.13,301.84" fill="#fff" stroke="#9484e2" stroke-width="0.9"/>
<polygon points="265.8,294.71 268.08,296.99 265.8,299.27 263.52,296.99" fill="#fff" stroke="#9484e2" stroke-width="0.9"/>
<polygon points="271.77,288.37 274.05,290.65 271.77,292.93 269.5,290.65" fill="#fff" stroke="#9484e2" stroke-width="0.9"/>
<polygon points="277.75,283.02 280.03,285.3 277.75,287.58 275.47,285.3" fill="#fff" stroke="#9484e2" stroke-width="0.9"/>
<polygon points="283.73,278.97 286,281.25 283.73,283.52 281.45,281.25" fill="#fff" stroke="#9484e2" stroke-width="0.9"/>
<polygon points="289.7,274.51 291.98,276.79 289.7,279.07 287.42,276.79" fill="#fff" stroke="#9484e2" stroke-width="0.9"/>
<polygon points="301.65,267.58 303.93,269.86 301.65,272.14 299.37,269.86" fill="#fff" stroke="#9484e2" stroke-width="0.9"/>
<polygon points="313.6,257.68 315.88,259.96 313.6,262.24 311.32,259.96" fill="#fff" stroke="#9484e2" stroke-width="0.9"/>
<polygon points="325.55,246.99 327.83,249.27 325.55,251.55 323.27,249.27" fill="#fff" stroke="#9484e2" stroke-width="0.9"/>
<polygon points="337.5,234.91 339.78,237.19 337.5,239.47 335.22,237.19" fill="#fff" stroke="#9484e2" stroke-width="0.9"/>
<text x="219" y="235.6" font-family='"Liberation Serif", serif' font-size="6.8" fill="#4aa8f8" stroke="#4aa8f8" stroke-width="0.15">Emitter region</text>
<text x="219" y="243" font-family='"Liberation Serif", serif' font-size="6.4" fill="#222" stroke="#222" stroke-width="0.14">I<tspan font-size="4.4" dy="1.5">B</tspan><tspan dy="-1.5">=50&#956;A</tspan></text>
<line x1="218.9" y1="250.4" x2="232.2" y2="250.4" stroke="#2ecf8c" stroke-width="1.4" />
<rect x="224.02" y="248.87" width="3.06" height="3.06" fill="#fff" stroke="#2ecf8c" stroke-width="0.8"/>
<text x="234" y="252.45" font-family='"Liberation Serif", serif' font-size="6.2" fill="#1a1a1a" stroke="#1a1a1a" stroke-width="0.14">1<tspan font-size="5.3">&#215;</tspan>10<tspan font-size="3.9" dy="-2.9">19</tspan><tspan dy="2.9">/ (cm</tspan><tspan font-size="3.9" dy="-2.9">-3</tspan><tspan dy="2.9">)</tspan></text>
<line x1="218.9" y1="258.8" x2="232.2" y2="258.8" stroke="#4d7fc0" stroke-width="1.4" />
<polygon points="225.55,256.93 227.34,260.07 223.77,260.07" fill="#fff" stroke="#4d7fc0" stroke-width="0.8"/>
<text x="234" y="260.85" font-family='"Liberation Serif", serif' font-size="6.2" fill="#1a1a1a" stroke="#1a1a1a" stroke-width="0.14">3<tspan font-size="5.3">&#215;</tspan>10<tspan font-size="3.9" dy="-2.9">19</tspan><tspan dy="2.9">/ (cm</tspan><tspan font-size="3.9" dy="-2.9">-3</tspan><tspan dy="2.9">)</tspan></text>
<line x1="218.9" y1="266.9" x2="232.2" y2="266.9" stroke="#f23f3f" stroke-width="1.4" />
<circle cx="225.55" cy="266.9" r="1.7" fill="#fff" stroke="#f23f3f" stroke-width="0.8"/>
<text x="234" y="268.95" font-family='"Liberation Serif", serif' font-size="6.2" fill="#1a1a1a" stroke="#1a1a1a" stroke-width="0.14">5<tspan font-size="5.3">&#215;</tspan>10<tspan font-size="3.9" dy="-2.9">19</tspan><tspan dy="2.9">/ (cm</tspan><tspan font-size="3.9" dy="-2.9">-3</tspan><tspan dy="2.9">)</tspan></text>
<line x1="218.9" y1="275.1" x2="232.2" y2="275.1" stroke="#ffb060" stroke-width="1.4" />
<polygon points="225.55,276.97 227.34,273.83 223.77,273.83" fill="#fff" stroke="#ffb060" stroke-width="0.8"/>
<text x="234" y="277.15" font-family='"Liberation Serif", serif' font-size="6.2" fill="#1a1a1a" stroke="#1a1a1a" stroke-width="0.14">7<tspan font-size="5.3">&#215;</tspan>10<tspan font-size="3.9" dy="-2.9">19</tspan><tspan dy="2.9">/ (cm</tspan><tspan font-size="3.9" dy="-2.9">-3</tspan><tspan dy="2.9">)</tspan></text>
<line x1="218.9" y1="284" x2="232.2" y2="284" stroke="#9484e2" stroke-width="1.4" />
<polygon points="225.55,281.96 227.59,284 225.55,286.04 223.51,284" fill="#fff" stroke="#9484e2" stroke-width="0.8"/>
<text x="234" y="286.05" font-family='"Liberation Serif", serif' font-size="6.2" fill="#1a1a1a" stroke="#1a1a1a" stroke-width="0.14">1<tspan font-size="5.3">&#215;</tspan>10<tspan font-size="3.9" dy="-2.9">20</tspan><tspan dy="2.9">/ (cm</tspan><tspan font-size="3.9" dy="-2.9">-3</tspan><tspan dy="2.9">)</tspan></text>
<text transform="translate(197.6,283) rotate(-90)" x="0" y="0" font-family='"Liberation Serif", serif' font-size="10.5" text-anchor="middle" fill="#222" stroke="#222" stroke-width="0.23">I<tspan font-size="7.35" dy="2.62">MQW</tspan><tspan dy="-2.62"> / (mA)</tspan></text>
<text x="279.5" y="363.5" font-family='"Liberation Serif", serif' font-size="10" text-anchor="middle" fill="#222" stroke="#222" stroke-width="0.22">V<tspan font-size="7" dy="2.5">A</tspan><tspan dy="-2.5"> / (V)</tspan></text>
<clipPath id="c3"><rect x="387.5" y="225.6" width="129.70000000000005" height="115.1"/></clipPath>
<line x1="387.5" y1="340.5" x2="390" y2="340.5" stroke="#505050" stroke-width="0.9" />
<text x="385.2" y="343.35" transform="translate(0,-34.34) scale(1,1.1)" font-family='"Liberation Sans", sans-serif' font-size="7.2" text-anchor="end" fill="#1a1a1a" stroke="#1a1a1a" stroke-width="0.18">0</text>
<line x1="387.5" y1="327.72" x2="390" y2="327.72" stroke="#505050" stroke-width="0.9" />
<text x="385.2" y="330.57" transform="translate(0,-33.06) scale(1,1.1)" font-family='"Liberation Sans", sans-serif' font-size="7.2" text-anchor="end" fill="#1a1a1a" stroke="#1a1a1a" stroke-width="0.18">50</text>
<line x1="387.5" y1="314.94" x2="390" y2="314.94" stroke="#505050" stroke-width="0.9" />
<text x="385.2" y="317.8" transform="translate(0,-31.78) scale(1,1.1)" font-family='"Liberation Sans", sans-serif' font-size="7.2" text-anchor="end" fill="#1a1a1a" stroke="#1a1a1a" stroke-width="0.18">100</text>
<line x1="387.5" y1="302.17" x2="390" y2="302.17" stroke="#505050" stroke-width="0.9" />
<text x="385.2" y="305.02" transform="translate(0,-30.5) scale(1,1.1)" font-family='"Liberation Sans", sans-serif' font-size="7.2" text-anchor="end" fill="#1a1a1a" stroke="#1a1a1a" stroke-width="0.18">150</text>
<line x1="387.5" y1="289.39" x2="390" y2="289.39" stroke="#505050" stroke-width="0.9" />
<text x="385.2" y="292.24" transform="translate(0,-29.22) scale(1,1.1)" font-family='"Liberation Sans", sans-serif' font-size="7.2" text-anchor="end" fill="#1a1a1a" stroke="#1a1a1a" stroke-width="0.18">200</text>
<line x1="387.5" y1="276.61" x2="390" y2="276.61" stroke="#505050" stroke-width="0.9" />
<text x="385.2" y="279.46" transform="translate(0,-27.95) scale(1,1.1)" font-family='"Liberation Sans", sans-serif' font-size="7.2" text-anchor="end" fill="#1a1a1a" stroke="#1a1a1a" stroke-width="0.18">250</text>
<line x1="387.5" y1="263.83" x2="390" y2="263.83" stroke="#505050" stroke-width="0.9" />
<text x="385.2" y="266.68" transform="translate(0,-26.67) scale(1,1.1)" font-family='"Liberation Sans", sans-serif' font-size="7.2" text-anchor="end" fill="#1a1a1a" stroke="#1a1a1a" stroke-width="0.18">300</text>
<line x1="387.5" y1="251.06" x2="390" y2="251.06" stroke="#505050" stroke-width="0.9" />
<text x="385.2" y="253.91" transform="translate(0,-25.39) scale(1,1.1)" font-family='"Liberation Sans", sans-serif' font-size="7.2" text-anchor="end" fill="#1a1a1a" stroke="#1a1a1a" stroke-width="0.18">350</text>
<line x1="387.5" y1="238.28" x2="390" y2="238.28" stroke="#505050" stroke-width="0.9" />
<text x="385.2" y="241.13" transform="translate(0,-24.11) scale(1,1.1)" font-family='"Liberation Sans", sans-serif' font-size="7.2" text-anchor="end" fill="#1a1a1a" stroke="#1a1a1a" stroke-width="0.18">400</text>
<line x1="387.5" y1="225.5" x2="390" y2="225.5" stroke="#505050" stroke-width="0.9" />
<text x="385.2" y="228.35" transform="translate(0,-22.84) scale(1,1.1)" font-family='"Liberation Sans", sans-serif' font-size="7.2" text-anchor="end" fill="#1a1a1a" stroke="#1a1a1a" stroke-width="0.18">450</text>
<line x1="387.5" y1="334.11" x2="389" y2="334.11" stroke="#505050" stroke-width="0.8" />
<line x1="387.5" y1="321.33" x2="389" y2="321.33" stroke="#505050" stroke-width="0.8" />
<line x1="387.5" y1="308.56" x2="389" y2="308.56" stroke="#505050" stroke-width="0.8" />
<line x1="387.5" y1="295.78" x2="389" y2="295.78" stroke="#505050" stroke-width="0.8" />
<line x1="387.5" y1="283" x2="389" y2="283" stroke="#505050" stroke-width="0.8" />
<line x1="387.5" y1="270.22" x2="389" y2="270.22" stroke="#505050" stroke-width="0.8" />
<line x1="387.5" y1="257.44" x2="389" y2="257.44" stroke="#505050" stroke-width="0.8" />
<line x1="387.5" y1="244.67" x2="389" y2="244.67" stroke="#505050" stroke-width="0.8" />
<line x1="387.5" y1="231.89" x2="389" y2="231.89" stroke="#505050" stroke-width="0.8" />
<line x1="387.5" y1="340.7" x2="387.5" y2="338.2" stroke="#505050" stroke-width="0.9" />
<text x="387.5" y="350.4" transform="translate(0,-35.04) scale(1,1.1)" font-family='"Liberation Sans", sans-serif' font-size="7.2" text-anchor="middle" fill="#1a1a1a" stroke="#1a1a1a" stroke-width="0.18">10<tspan font-size="4.9" dy="-3.02">-6</tspan></text>
<line x1="400.35" y1="340.7" x2="400.35" y2="339.2" stroke="#505050" stroke-width="0.8" />
<line x1="407.87" y1="340.7" x2="407.87" y2="339.2" stroke="#505050" stroke-width="0.8" />
<line x1="413.21" y1="340.7" x2="413.21" y2="339.2" stroke="#505050" stroke-width="0.8" />
<line x1="417.35" y1="340.7" x2="417.35" y2="339.2" stroke="#505050" stroke-width="0.8" />
<line x1="420.73" y1="340.7" x2="420.73" y2="339.2" stroke="#505050" stroke-width="0.8" />
<line x1="423.59" y1="340.7" x2="423.59" y2="339.2" stroke="#505050" stroke-width="0.8" />
<line x1="426.06" y1="340.7" x2="426.06" y2="339.2" stroke="#505050" stroke-width="0.8" />
<line x1="428.25" y1="340.7" x2="428.25" y2="339.2" stroke="#505050" stroke-width="0.8" />
<line x1="430.2" y1="340.7" x2="430.2" y2="338.2" stroke="#505050" stroke-width="0.9" />
<text x="430.2" y="350.4" transform="translate(0,-35.04) scale(1,1.1)" font-family='"Liberation Sans", sans-serif' font-size="7.2" text-anchor="middle" fill="#1a1a1a" stroke="#1a1a1a" stroke-width="0.18">10<tspan font-size="4.9" dy="-3.02">-5</tspan></text>
<line x1="443.05" y1="340.7" x2="443.05" y2="339.2" stroke="#505050" stroke-width="0.8" />
<line x1="450.57" y1="340.7" x2="450.57" y2="339.2" stroke="#505050" stroke-width="0.8" />
<line x1="455.91" y1="340.7" x2="455.91" y2="339.2" stroke="#505050" stroke-width="0.8" />
<line x1="460.05" y1="340.7" x2="460.05" y2="339.2" stroke="#505050" stroke-width="0.8" />
<line x1="463.43" y1="340.7" x2="463.43" y2="339.2" stroke="#505050" stroke-width="0.8" />
<line x1="466.29" y1="340.7" x2="466.29" y2="339.2" stroke="#505050" stroke-width="0.8" />
<line x1="468.76" y1="340.7" x2="468.76" y2="339.2" stroke="#505050" stroke-width="0.8" />
<line x1="470.95" y1="340.7" x2="470.95" y2="339.2" stroke="#505050" stroke-width="0.8" />
<line x1="472.9" y1="340.7" x2="472.9" y2="338.2" stroke="#505050" stroke-width="0.9" />
<text x="472.9" y="350.4" transform="translate(0,-35.04) scale(1,1.1)" font-family='"Liberation Sans", sans-serif' font-size="7.2" text-anchor="middle" fill="#1a1a1a" stroke="#1a1a1a" stroke-width="0.18">10<tspan font-size="4.9" dy="-3.02">-4</tspan></text>
<line x1="485.75" y1="340.7" x2="485.75" y2="339.2" stroke="#505050" stroke-width="0.8" />
<line x1="493.27" y1="340.7" x2="493.27" y2="339.2" stroke="#505050" stroke-width="0.8" />
<line x1="498.61" y1="340.7" x2="498.61" y2="339.2" stroke="#505050" stroke-width="0.8" />
<line x1="502.75" y1="340.7" x2="502.75" y2="339.2" stroke="#505050" stroke-width="0.8" />
<line x1="506.13" y1="340.7" x2="506.13" y2="339.2" stroke="#505050" stroke-width="0.8" />
<line x1="508.99" y1="340.7" x2="508.99" y2="339.2" stroke="#505050" stroke-width="0.8" />
<line x1="511.46" y1="340.7" x2="511.46" y2="339.2" stroke="#505050" stroke-width="0.8" />
<line x1="513.65" y1="340.7" x2="513.65" y2="339.2" stroke="#505050" stroke-width="0.8" />
<line x1="515.6" y1="340.7" x2="515.6" y2="338.2" stroke="#505050" stroke-width="0.9" />
<text x="515.6" y="350.4" transform="translate(0,-35.04) scale(1,1.1)" font-family='"Liberation Sans", sans-serif' font-size="7.2" text-anchor="middle" fill="#1a1a1a" stroke="#1a1a1a" stroke-width="0.18">10<tspan font-size="4.9" dy="-3.02">-3</tspan></text>
<polyline points="387.5,243.39 415.25,286.07 437.89,305.74 453.69,315.46 472.9,324.66 492.12,330.79" fill="none" stroke="#2ecf8c" stroke-width="1.45" stroke-linejoin="round" clip-path="url(#c3)"/>
<rect x="413.55" y="284.36" width="3.42" height="3.42" fill="#fff" stroke="#2ecf8c" stroke-width="0.9"/>
<rect x="436.18" y="304.03" width="3.42" height="3.42" fill="#fff" stroke="#2ecf8c" stroke-width="0.9"/>
<rect x="451.98" y="313.75" width="3.42" height="3.42" fill="#fff" stroke="#2ecf8c" stroke-width="0.9"/>
<rect x="471.19" y="322.95" width="3.42" height="3.42" fill="#fff" stroke="#2ecf8c" stroke-width="0.9"/>
<rect x="490.41" y="329.08" width="3.42" height="3.42" fill="#fff" stroke="#2ecf8c" stroke-width="0.9"/>
<polyline points="387.5,280.96 411.41,298.08 436.18,310.34 450.7,316.99 483.57,327.21 500.65,331.56" fill="none" stroke="#4d7fc0" stroke-width="1.45" stroke-linejoin="round" clip-path="url(#c3)"/>
<polygon points="411.41,295.99 413.41,299.5 409.42,299.5" fill="#fff" stroke="#4d7fc0" stroke-width="0.9"/>
<polygon points="436.18,308.25 438.17,311.77 434.18,311.77" fill="#fff" stroke="#4d7fc0" stroke-width="0.9"/>
<polygon points="450.7,314.9 452.69,318.41 448.7,318.41" fill="#fff" stroke="#4d7fc0" stroke-width="0.9"/>
<polygon points="483.57,325.12 485.57,328.64 481.58,328.64" fill="#fff" stroke="#4d7fc0" stroke-width="0.9"/>
<polygon points="500.65,329.47 502.65,332.98 498.66,332.98" fill="#fff" stroke="#4d7fc0" stroke-width="0.9"/>
<polyline points="387.5,284.28 411.41,298.08 437.89,311.11 453.69,318.01 483.57,326.44 503.64,332.07" fill="none" stroke="#f23f3f" stroke-width="1.45" stroke-linejoin="round" clip-path="url(#c3)"/>
<circle cx="411.41" cy="298.08" r="1.9" fill="#fff" stroke="#f23f3f" stroke-width="0.9"/>
<circle cx="437.89" cy="311.11" r="1.9" fill="#fff" stroke="#f23f3f" stroke-width="0.9"/>
<circle cx="453.69" cy="318.01" r="1.9" fill="#fff" stroke="#f23f3f" stroke-width="0.9"/>
<circle cx="483.57" cy="326.44" r="1.9" fill="#fff" stroke="#f23f3f" stroke-width="0.9"/>
<circle cx="503.64" cy="332.07" r="1.9" fill="#fff" stroke="#f23f3f" stroke-width="0.9"/>
<polyline points="387.5,300.89 394.33,300.63 421.66,304.98 448.13,312.64 482.72,323.38 504.93,331.56" fill="none" stroke="#ffb060" stroke-width="1.45" stroke-linejoin="round" clip-path="url(#c3)"/>
<polygon points="394.33,302.72 396.33,299.21 392.34,299.21" fill="#fff" stroke="#ffb060" stroke-width="0.9"/>
<polygon points="421.66,307.07 423.65,303.55 419.66,303.55" fill="#fff" stroke="#ffb060" stroke-width="0.9"/>
<polygon points="448.13,314.73 450.13,311.22 446.14,311.22" fill="#fff" stroke="#ffb060" stroke-width="0.9"/>
<polygon points="482.72,325.47 484.72,321.95 480.73,321.95" fill="#fff" stroke="#ffb060" stroke-width="0.9"/>
<polygon points="504.93,333.65 506.92,330.13 502.93,330.13" fill="#fff" stroke="#ffb060" stroke-width="0.9"/>
<polyline points="387.5,311.88 393.48,311.88 423.79,313.67 450.27,318.78 488.27,326.44 514.32,333.86" fill="none" stroke="#9484e2" stroke-width="1.45" stroke-linejoin="round" clip-path="url(#c3)"/>
<polygon points="393.48,309.6 395.76,311.88 393.48,314.16 391.2,311.88" fill="#fff" stroke="#9484e2" stroke-width="0.9"/>
<polygon points="423.79,311.39 426.07,313.67 423.79,315.95 421.51,313.67" fill="#fff" stroke="#9484e2" stroke-width="0.9"/>
<polygon points="450.27,316.5 452.55,318.78 450.27,321.06 447.99,318.78" fill="#fff" stroke="#9484e2" stroke-width="0.9"/>
<polygon points="488.27,324.16 490.55,326.44 488.27,328.72 485.99,326.44" fill="#fff" stroke="#9484e2" stroke-width="0.9"/>
<polygon points="514.32,331.58 516.6,333.86 514.32,336.14 512.04,333.86" fill="#fff" stroke="#9484e2" stroke-width="0.9"/>
<text x="450.5" y="238" font-family='"Liberation Serif", serif' font-size="7.8" fill="#f24a4a" stroke="#f24a4a" stroke-width="0.3">Base region</text>
<text x="451.2" y="247" font-family='"Liberation Serif", serif' font-size="7.2" fill="#222" stroke="#222" stroke-width="0.16">V<tspan font-size="5" dy="1.6">A</tspan><tspan dy="-1.6">=6V</tspan></text>
<line x1="450.5" y1="255.9" x2="466.4" y2="255.9" stroke="#2ecf8c" stroke-width="1.4" />
<rect x="456.92" y="254.37" width="3.06" height="3.06" fill="#fff" stroke="#2ecf8c" stroke-width="0.8"/>
<text x="468" y="258.24" font-family='"Liberation Serif", serif' font-size="7.1" fill="#1a1a1a" stroke="#1a1a1a" stroke-width="0.16">6<tspan font-size="5.3">&#215;</tspan>10<tspan font-size="3.9" dy="-2.9">16</tspan><tspan dy="2.9">/(cm</tspan><tspan font-size="3.9" dy="-2.9">-3</tspan><tspan dy="2.9">)</tspan></text>
<line x1="450.5" y1="265.7" x2="466.4" y2="265.7" stroke="#4d7fc0" stroke-width="1.4" />
<polygon points="458.45,263.83 460.24,266.97 456.66,266.97" fill="#fff" stroke="#4d7fc0" stroke-width="0.8"/>
<text x="468" y="268.04" font-family='"Liberation Serif", serif' font-size="7.1" fill="#1a1a1a" stroke="#1a1a1a" stroke-width="0.16">8<tspan font-size="5.3">&#215;</tspan>10<tspan font-size="3.9" dy="-2.9">16</tspan><tspan dy="2.9">/(cm</tspan><tspan font-size="3.9" dy="-2.9">-3</tspan><tspan dy="2.9">)</tspan></text>
<line x1="450.5" y1="275.2" x2="466.4" y2="275.2" stroke="#f23f3f" stroke-width="1.4" />
<circle cx="458.45" cy="275.2" r="1.7" fill="#fff" stroke="#f23f3f" stroke-width="0.8"/>
<text x="468" y="277.54" font-family='"Liberation Serif", serif' font-size="7.1" fill="#1a1a1a" stroke="#1a1a1a" stroke-width="0.16">1<tspan font-size="5.3">&#215;</tspan>10<tspan font-size="3.9" dy="-2.9">17</tspan><tspan dy="2.9">/(cm</tspan><tspan font-size="3.9" dy="-2.9">-3</tspan><tspan dy="2.9">)</tspan></text>
<line x1="450.5" y1="285" x2="466.4" y2="285" stroke="#ffb060" stroke-width="1.4" />
<polygon points="458.45,286.87 460.24,283.73 456.66,283.73" fill="#fff" stroke="#ffb060" stroke-width="0.8"/>
<text x="468" y="287.34" font-family='"Liberation Serif", serif' font-size="7.1" fill="#1a1a1a" stroke="#1a1a1a" stroke-width="0.16">3<tspan font-size="5.3">&#215;</tspan>10<tspan font-size="3.9" dy="-2.9">17</tspan><tspan dy="2.9">/(cm</tspan><tspan font-size="3.9" dy="-2.9">-3</tspan><tspan dy="2.9">)</tspan></text>
<line x1="450.5" y1="294.8" x2="466.4" y2="294.8" stroke="#9484e2" stroke-width="1.4" />
<polygon points="458.45,292.76 460.49,294.8 458.45,296.84 456.41,294.8" fill="#fff" stroke="#9484e2" stroke-width="0.8"/>
<text x="468" y="297.14" font-family='"Liberation Serif", serif' font-size="7.1" fill="#1a1a1a" stroke="#1a1a1a" stroke-width="0.16">5<tspan font-size="5.3">&#215;</tspan>10<tspan font-size="3.9" dy="-2.9">17</tspan><tspan dy="2.9">/(cm</tspan><tspan font-size="3.9" dy="-2.9">-3</tspan><tspan dy="2.9">)</tspan></text>
<text transform="translate(366.8,284) rotate(-90)" x="0" y="0" font-family='"Liberation Serif", serif' font-size="10.1" text-anchor="middle" fill="#222" stroke="#222" stroke-width="0.22">Current gain</text>
<text x="452" y="362.8" font-family='"Liberation Serif", serif' font-size="10" text-anchor="middle" fill="#222" stroke="#222" stroke-width="0.22">I<tspan font-size="7" dy="2.5">B</tspan><tspan dy="-2.5"> / (A)</tspan></text>
<clipPath id="c4"><rect x="37" y="381.4" width="130.6" height="114.90000000000003"/></clipPath>
<line x1="37" y1="490.6" x2="39.5" y2="490.6" stroke="#505050" stroke-width="0.9" />
<text x="34.5" y="493.45" transform="translate(0,-49.35) scale(1,1.1)" font-family='"Liberation Sans", sans-serif' font-size="7.2" text-anchor="end" fill="#1a1a1a" stroke="#1a1a1a" stroke-width="0.18">0</text>
<line x1="37" y1="472.4" x2="39.5" y2="472.4" stroke="#505050" stroke-width="0.9" />
<text x="34.5" y="475.25" transform="translate(0,-47.53) scale(1,1.1)" font-family='"Liberation Sans", sans-serif' font-size="7.2" text-anchor="end" fill="#1a1a1a" stroke="#1a1a1a" stroke-width="0.18">2</text>
<line x1="37" y1="454.2" x2="39.5" y2="454.2" stroke="#505050" stroke-width="0.9" />
<text x="34.5" y="457.05" transform="translate(0,-45.71) scale(1,1.1)" font-family='"Liberation Sans", sans-serif' font-size="7.2" text-anchor="end" fill="#1a1a1a" stroke="#1a1a1a" stroke-width="0.18">4</text>
<line x1="37" y1="436" x2="39.5" y2="436" stroke="#505050" stroke-width="0.9" />
<text x="34.5" y="438.85" transform="translate(0,-43.89) scale(1,1.1)" font-family='"Liberation Sans", sans-serif' font-size="7.2" text-anchor="end" fill="#1a1a1a" stroke="#1a1a1a" stroke-width="0.18">6</text>
<line x1="37" y1="417.8" x2="39.5" y2="417.8" stroke="#505050" stroke-width="0.9" />
<text x="34.5" y="420.65" transform="translate(0,-42.07) scale(1,1.1)" font-family='"Liberation Sans", sans-serif' font-size="7.2" text-anchor="end" fill="#1a1a1a" stroke="#1a1a1a" stroke-width="0.18">8</text>
<line x1="37" y1="399.6" x2="39.5" y2="399.6" stroke="#505050" stroke-width="0.9" />
<text x="34.5" y="402.45" transform="translate(0,-40.25) scale(1,1.1)" font-family='"Liberation Sans", sans-serif' font-size="7.2" text-anchor="end" fill="#1a1a1a" stroke="#1a1a1a" stroke-width="0.18">10</text>
<line x1="37" y1="381.4" x2="39.5" y2="381.4" stroke="#505050" stroke-width="0.9" />
<text x="34.5" y="384.25" transform="translate(0,-38.43) scale(1,1.1)" font-family='"Liberation Sans", sans-serif' font-size="7.2" text-anchor="end" fill="#1a1a1a" stroke="#1a1a1a" stroke-width="0.18">12</text>
<line x1="37" y1="481.5" x2="38.5" y2="481.5" stroke="#505050" stroke-width="0.8" />
<line x1="37" y1="463.3" x2="38.5" y2="463.3" stroke="#505050" stroke-width="0.8" />
<line x1="37" y1="445.1" x2="38.5" y2="445.1" stroke="#505050" stroke-width="0.8" />
<line x1="37" y1="426.9" x2="38.5" y2="426.9" stroke="#505050" stroke-width="0.8" />
<line x1="37" y1="408.7" x2="38.5" y2="408.7" stroke="#505050" stroke-width="0.8" />
<line x1="37" y1="390.5" x2="38.5" y2="390.5" stroke="#505050" stroke-width="0.8" />
<line x1="42.8" y1="496.3" x2="42.8" y2="493.8" stroke="#505050" stroke-width="0.9" />
<text x="42.8" y="504.1" transform="translate(0,-50.41) scale(1,1.1)" font-family='"Liberation Sans", sans-serif' font-size="6.4" text-anchor="middle" fill="#1a1a1a" stroke="#1a1a1a" stroke-width="0.18">0</text>
<line x1="66.54" y1="496.3" x2="66.54" y2="493.8" stroke="#505050" stroke-width="0.9" />
<text x="66.54" y="504.1" transform="translate(0,-50.41) scale(1,1.1)" font-family='"Liberation Sans", sans-serif' font-size="6.4" text-anchor="middle" fill="#1a1a1a" stroke="#1a1a1a" stroke-width="0.18">2</text>
<line x1="90.28" y1="496.3" x2="90.28" y2="493.8" stroke="#505050" stroke-width="0.9" />
<text x="90.28" y="504.1" transform="translate(0,-50.41) scale(1,1.1)" font-family='"Liberation Sans", sans-serif' font-size="6.4" text-anchor="middle" fill="#1a1a1a" stroke="#1a1a1a" stroke-width="0.18">4</text>
<line x1="114.02" y1="496.3" x2="114.02" y2="493.8" stroke="#505050" stroke-width="0.9" />
<text x="114.02" y="504.1" transform="translate(0,-50.41) scale(1,1.1)" font-family='"Liberation Sans", sans-serif' font-size="6.4" text-anchor="middle" fill="#1a1a1a" stroke="#1a1a1a" stroke-width="0.18">6</text>
<line x1="137.76" y1="496.3" x2="137.76" y2="493.8" stroke="#505050" stroke-width="0.9" />
<text x="137.76" y="504.1" transform="translate(0,-50.41) scale(1,1.1)" font-family='"Liberation Sans", sans-serif' font-size="6.4" text-anchor="middle" fill="#1a1a1a" stroke="#1a1a1a" stroke-width="0.18">8</text>
<line x1="161.5" y1="496.3" x2="161.5" y2="493.8" stroke="#505050" stroke-width="0.9" />
<text x="161.5" y="504.1" transform="translate(0,-50.41) scale(1,1.1)" font-family='"Liberation Sans", sans-serif' font-size="6.4" text-anchor="middle" fill="#1a1a1a" stroke="#1a1a1a" stroke-width="0.18">10</text>
<line x1="54.67" y1="496.3" x2="54.67" y2="494.8" stroke="#505050" stroke-width="0.8" />
<line x1="78.41" y1="496.3" x2="78.41" y2="494.8" stroke="#505050" stroke-width="0.8" />
<line x1="102.15" y1="496.3" x2="102.15" y2="494.8" stroke="#505050" stroke-width="0.8" />
<line x1="125.89" y1="496.3" x2="125.89" y2="494.8" stroke="#505050" stroke-width="0.8" />
<line x1="149.63" y1="496.3" x2="149.63" y2="494.8" stroke="#505050" stroke-width="0.8" />
<polyline points="42.8,490.6 48.73,490.6 54.67,490.6 60.6,490.6 66.54,490.6 72.47,490.6 73.66,490.6 76.04,490.6 78.41,490.15 80.78,485.14 83.16,476.04 85.53,472.4 87.91,469.67 90.28,467.85 96.22,464.21 102.15,461.48 108.08,457.84 114.02,453.29 125.89,442.01 137.76,429.63 149.63,411.88 161.5,388.68" fill="none" stroke="#2ecf8c" stroke-width="1.45" stroke-linejoin="round" clip-path="url(#c4)"/>
<rect x="41.09" y="488.89" width="3.42" height="3.42" fill="#fff" stroke="#2ecf8c" stroke-width="0.9"/>
<rect x="47.02" y="488.89" width="3.42" height="3.42" fill="#fff" stroke="#2ecf8c" stroke-width="0.9"/>
<rect x="52.96" y="488.89" width="3.42" height="3.42" fill="#fff" stroke="#2ecf8c" stroke-width="0.9"/>
<rect x="58.89" y="488.89" width="3.42" height="3.42" fill="#fff" stroke="#2ecf8c" stroke-width="0.9"/>
<rect x="64.83" y="488.89" width="3.42" height="3.42" fill="#fff" stroke="#2ecf8c" stroke-width="0.9"/>
<rect x="70.77" y="488.89" width="3.42" height="3.42" fill="#fff" stroke="#2ecf8c" stroke-width="0.9"/>
<rect x="71.95" y="488.89" width="3.42" height="3.42" fill="#fff" stroke="#2ecf8c" stroke-width="0.9"/>
<rect x="74.33" y="488.89" width="3.42" height="3.42" fill="#fff" stroke="#2ecf8c" stroke-width="0.9"/>
<rect x="76.7" y="488.44" width="3.42" height="3.42" fill="#fff" stroke="#2ecf8c" stroke-width="0.9"/>
<rect x="79.07" y="483.43" width="3.42" height="3.42" fill="#fff" stroke="#2ecf8c" stroke-width="0.9"/>
<rect x="81.45" y="474.33" width="3.42" height="3.42" fill="#fff" stroke="#2ecf8c" stroke-width="0.9"/>
<rect x="83.82" y="470.69" width="3.42" height="3.42" fill="#fff" stroke="#2ecf8c" stroke-width="0.9"/>
<rect x="86.2" y="467.96" width="3.42" height="3.42" fill="#fff" stroke="#2ecf8c" stroke-width="0.9"/>
<rect x="88.57" y="466.14" width="3.42" height="3.42" fill="#fff" stroke="#2ecf8c" stroke-width="0.9"/>
<rect x="94.51" y="462.5" width="3.42" height="3.42" fill="#fff" stroke="#2ecf8c" stroke-width="0.9"/>
<rect x="100.44" y="459.77" width="3.42" height="3.42" fill="#fff" stroke="#2ecf8c" stroke-width="0.9"/>
<rect x="106.38" y="456.13" width="3.42" height="3.42" fill="#fff" stroke="#2ecf8c" stroke-width="0.9"/>
<rect x="112.31" y="451.58" width="3.42" height="3.42" fill="#fff" stroke="#2ecf8c" stroke-width="0.9"/>
<rect x="124.18" y="440.3" width="3.42" height="3.42" fill="#fff" stroke="#2ecf8c" stroke-width="0.9"/>
<rect x="136.05" y="427.92" width="3.42" height="3.42" fill="#fff" stroke="#2ecf8c" stroke-width="0.9"/>
<rect x="147.92" y="410.18" width="3.42" height="3.42" fill="#fff" stroke="#2ecf8c" stroke-width="0.9"/>
<rect x="159.79" y="386.97" width="3.42" height="3.42" fill="#fff" stroke="#2ecf8c" stroke-width="0.9"/>
<polyline points="42.8,490.6 48.73,490.6 54.67,490.6 60.6,490.6 66.54,490.6 72.47,490.6 73.66,490.6 76.04,490.6 78.41,490.05 80.78,484.23 83.16,474.22 85.53,470.58 87.91,467.85 90.28,466.03 96.22,463.3 102.15,460.57 108.08,457.84 114.02,455.11 125.89,447.83 137.76,440.1 149.63,430.54 161.5,416.89" fill="none" stroke="#4d7fc0" stroke-width="1.45" stroke-linejoin="round" clip-path="url(#c4)"/>
<polygon points="42.8,488.51 44.79,492.03 40.8,492.03" fill="#fff" stroke="#4d7fc0" stroke-width="0.9"/>
<polygon points="48.73,488.51 50.73,492.03 46.74,492.03" fill="#fff" stroke="#4d7fc0" stroke-width="0.9"/>
<polygon points="54.67,488.51 56.66,492.03 52.67,492.03" fill="#fff" stroke="#4d7fc0" stroke-width="0.9"/>
<polygon points="60.6,488.51 62.6,492.03 58.61,492.03" fill="#fff" stroke="#4d7fc0" stroke-width="0.9"/>
<polygon points="66.54,488.51 68.53,492.03 64.54,492.03" fill="#fff" stroke="#4d7fc0" stroke-width="0.9"/>
<polygon points="72.47,488.51 74.47,492.03 70.48,492.03" fill="#fff" stroke="#4d7fc0" stroke-width="0.9"/>
<polygon points="73.66,488.51 75.66,492.03 71.67,492.03" fill="#fff" stroke="#4d7fc0" stroke-width="0.9"/>
<polygon points="76.04,488.51 78.03,492.03 74.04,492.03" fill="#fff" stroke="#4d7fc0" stroke-width="0.9"/>
<polygon points="78.41,487.96 80.41,491.48 76.41,491.48" fill="#fff" stroke="#4d7fc0" stroke-width="0.9"/>
<polygon points="80.78,482.14 82.78,485.66 78.79,485.66" fill="#fff" stroke="#4d7fc0" stroke-width="0.9"/>
<polygon points="83.16,472.13 85.15,475.65 81.16,475.65" fill="#fff" stroke="#4d7fc0" stroke-width="0.9"/>
<polygon points="85.53,468.49 87.53,472.01 83.54,472.01" fill="#fff" stroke="#4d7fc0" stroke-width="0.9"/>
<polygon points="87.91,465.76 89.9,469.28 85.91,469.28" fill="#fff" stroke="#4d7fc0" stroke-width="0.9"/>
<polygon points="90.28,463.94 92.28,467.46 88.28,467.46" fill="#fff" stroke="#4d7fc0" stroke-width="0.9"/>
<polygon points="96.22,461.21 98.21,464.73 94.22,464.73" fill="#fff" stroke="#4d7fc0" stroke-width="0.9"/>
<polygon points="102.15,458.48 104.14,462 100.15,462" fill="#fff" stroke="#4d7fc0" stroke-width="0.9"/>
<polygon points="108.08,455.75 110.08,459.27 106.09,459.27" fill="#fff" stroke="#4d7fc0" stroke-width="0.9"/>
<polygon points="114.02,453.02 116.02,456.54 112.02,456.54" fill="#fff" stroke="#4d7fc0" stroke-width="0.9"/>
<polygon points="125.89,445.74 127.88,449.26 123.89,449.26" fill="#fff" stroke="#4d7fc0" stroke-width="0.9"/>
<polygon points="137.76,438.01 139.75,441.52 135.76,441.52" fill="#fff" stroke="#4d7fc0" stroke-width="0.9"/>
<polygon points="149.63,428.45 151.62,431.97 147.63,431.97" fill="#fff" stroke="#4d7fc0" stroke-width="0.9"/>
<polygon points="161.5,414.8 163.5,418.32 159.5,418.32" fill="#fff" stroke="#4d7fc0" stroke-width="0.9"/>
<polyline points="42.8,490.6 48.73,490.6 54.67,490.6 60.6,490.6 66.54,490.6 72.47,490.6 73.66,490.6 76.04,490.6 78.41,490.05 80.78,484.23 83.16,474.22 85.53,470.58 87.91,467.85 90.28,466.03 96.22,463.3 102.15,460.57 108.08,458.3 114.02,456.02 125.89,449.65 137.76,441.46 149.63,434.18 161.5,423.26" fill="none" stroke="#f23f3f" stroke-width="1.45" stroke-linejoin="round" clip-path="url(#c4)"/>
<circle cx="42.8" cy="490.6" r="1.9" fill="#fff" stroke="#f23f3f" stroke-width="0.9"/>
<circle cx="48.73" cy="490.6" r="1.9" fill="#fff" stroke="#f23f3f" stroke-width="0.9"/>
<circle cx="54.67" cy="490.6" r="1.9" fill="#fff" stroke="#f23f3f" stroke-width="0.9"/>
<circle cx="60.6" cy="490.6" r="1.9" fill="#fff" stroke="#f23f3f" stroke-width="0.9"/>
<circle cx="66.54" cy="490.6" r="1.9" fill="#fff" stroke="#f23f3f" stroke-width="0.9"/>
<circle cx="72.47" cy="490.6" r="1.9" fill="#fff" stroke="#f23f3f" stroke-width="0.9"/>
<circle cx="73.66" cy="490.6" r="1.9" fill="#fff" stroke="#f23f3f" stroke-width="0.9"/>
<circle cx="76.04" cy="490.6" r="1.9" fill="#fff" stroke="#f23f3f" stroke-width="0.9"/>
<circle cx="78.41" cy="490.05" r="1.9" fill="#fff" stroke="#f23f3f" stroke-width="0.9"/>
<circle cx="80.78" cy="484.23" r="1.9" fill="#fff" stroke="#f23f3f" stroke-width="0.9"/>
<circle cx="83.16" cy="474.22" r="1.9" fill="#fff" stroke="#f23f3f" stroke-width="0.9"/>
<circle cx="85.53" cy="470.58" r="1.9" fill="#fff" stroke="#f23f3f" stroke-width="0.9"/>
<circle cx="87.91" cy="467.85" r="1.9" fill="#fff" stroke="#f23f3f" stroke-width="0.9"/>
<circle cx="90.28" cy="466.03" r="1.9" fill="#fff" stroke="#f23f3f" stroke-width="0.9"/>
<circle cx="96.22" cy="463.3" r="1.9" fill="#fff" stroke="#f23f3f" stroke-width="0.9"/>
<circle cx="102.15" cy="460.57" r="1.9" fill="#fff" stroke="#f23f3f" stroke-width="0.9"/>
<circle cx="108.08" cy="458.3" r="1.9" fill="#fff" stroke="#f23f3f" stroke-width="0.9"/>
<circle cx="114.02" cy="456.02" r="1.9" fill="#fff" stroke="#f23f3f" stroke-width="0.9"/>
<circle cx="125.89" cy="449.65" r="1.9" fill="#fff" stroke="#f23f3f" stroke-width="0.9"/>
<circle cx="137.76" cy="441.46" r="1.9" fill="#fff" stroke="#f23f3f" stroke-width="0.9"/>
<circle cx="149.63" cy="434.18" r="1.9" fill="#fff" stroke="#f23f3f" stroke-width="0.9"/>
<circle cx="161.5" cy="423.26" r="1.9" fill="#fff" stroke="#f23f3f" stroke-width="0.9"/>
<polyline points="42.8,490.6 48.73,490.6 54.67,490.6 60.6,490.6 66.54,490.6 72.47,490.6 73.66,490.6 76.04,490.6 78.41,489.87 80.78,482.41 83.16,470.58 85.53,459.66 88.14,453.56 102.15,449.65 114.02,447.28 125.89,445.37 137.76,443.28 149.63,441.82 161.5,439.19" fill="none" stroke="#ffb060" stroke-width="1.45" stroke-linejoin="round" clip-path="url(#c4)"/>
<polygon points="42.8,492.69 44.79,489.18 40.8,489.18" fill="#fff" stroke="#ffb060" stroke-width="0.9"/>
<polygon points="48.73,492.69 50.73,489.18 46.74,489.18" fill="#fff" stroke="#ffb060" stroke-width="0.9"/>
<polygon points="54.67,492.69 56.66,489.18 52.67,489.18" fill="#fff" stroke="#ffb060" stroke-width="0.9"/>
<polygon points="60.6,492.69 62.6,489.18 58.61,489.18" fill="#fff" stroke="#ffb060" stroke-width="0.9"/>
<polygon points="66.54,492.69 68.53,489.18 64.54,489.18" fill="#fff" stroke="#ffb060" stroke-width="0.9"/>
<polygon points="72.47,492.69 74.47,489.18 70.48,489.18" fill="#fff" stroke="#ffb060" stroke-width="0.9"/>
<polygon points="73.66,492.69 75.66,489.18 71.67,489.18" fill="#fff" stroke="#ffb060" stroke-width="0.9"/>
<polygon points="76.04,492.69 78.03,489.18 74.04,489.18" fill="#fff" stroke="#ffb060" stroke-width="0.9"/>
<polygon points="78.41,491.96 80.41,488.45 76.41,488.45" fill="#fff" stroke="#ffb060" stroke-width="0.9"/>
<polygon points="80.78,484.5 82.78,480.99 78.79,480.99" fill="#fff" stroke="#ffb060" stroke-width="0.9"/>
<polygon points="83.16,472.67 85.15,469.16 81.16,469.16" fill="#fff" stroke="#ffb060" stroke-width="0.9"/>
<polygon points="85.53,461.75 87.53,458.24 83.54,458.24" fill="#fff" stroke="#ffb060" stroke-width="0.9"/>
<polygon points="88.14,455.65 90.14,452.14 86.15,452.14" fill="#fff" stroke="#ffb060" stroke-width="0.9"/>
<polygon points="102.15,451.74 104.14,448.23 100.15,448.23" fill="#fff" stroke="#ffb060" stroke-width="0.9"/>
<polygon points="114.02,449.37 116.02,445.86 112.02,445.86" fill="#fff" stroke="#ffb060" stroke-width="0.9"/>
<polygon points="125.89,447.46 127.88,443.95 123.89,443.95" fill="#fff" stroke="#ffb060" stroke-width="0.9"/>
<polygon points="137.76,445.37 139.75,441.86 135.76,441.86" fill="#fff" stroke="#ffb060" stroke-width="0.9"/>
<polygon points="149.63,443.91 151.62,440.4 147.63,440.4" fill="#fff" stroke="#ffb060" stroke-width="0.9"/>
<polygon points="161.5,441.27 163.5,437.76 159.5,437.76" fill="#fff" stroke="#ffb060" stroke-width="0.9"/>
<polyline points="42.8,490.6 48.73,490.6 54.67,490.6 60.6,490.6 66.54,490.6 72.47,490.6 73.66,490.6 76.04,490.6 78.41,489.87 80.78,481.77 82.68,470.03 83.63,463.57 85.53,460.39 89.09,458.2 96.22,456.38 102.15,456.02 108.08,455.29 114.02,454.47 125.89,453.56 137.76,452.65 149.63,451.83 161.5,450.83" fill="none" stroke="#9484e2" stroke-width="1.45" stroke-linejoin="round" clip-path="url(#c4)"/>
<polygon points="42.8,488.32 45.08,490.6 42.8,492.88 40.52,490.6" fill="#fff" stroke="#9484e2" stroke-width="0.9"/>
<polygon points="48.73,488.32 51.02,490.6 48.73,492.88 46.45,490.6" fill="#fff" stroke="#9484e2" stroke-width="0.9"/>
<polygon points="54.67,488.32 56.95,490.6 54.67,492.88 52.39,490.6" fill="#fff" stroke="#9484e2" stroke-width="0.9"/>
<polygon points="60.6,488.32 62.88,490.6 60.6,492.88 58.32,490.6" fill="#fff" stroke="#9484e2" stroke-width="0.9"/>
<polygon points="66.54,488.32 68.82,490.6 66.54,492.88 64.26,490.6" fill="#fff" stroke="#9484e2" stroke-width="0.9"/>
<polygon points="72.47,488.32 74.75,490.6 72.47,492.88 70.19,490.6" fill="#fff" stroke="#9484e2" stroke-width="0.9"/>
<polygon points="73.66,488.32 75.94,490.6 73.66,492.88 71.38,490.6" fill="#fff" stroke="#9484e2" stroke-width="0.9"/>
<polygon points="76.04,488.32 78.32,490.6 76.04,492.88 73.76,490.6" fill="#fff" stroke="#9484e2" stroke-width="0.9"/>
<polygon points="78.41,487.59 80.69,489.87 78.41,492.15 76.13,489.87" fill="#fff" stroke="#9484e2" stroke-width="0.9"/>
<polygon points="80.78,479.49 83.06,481.77 80.78,484.05 78.5,481.77" fill="#fff" stroke="#9484e2" stroke-width="0.9"/>
<polygon points="82.68,467.75 84.96,470.03 82.68,472.31 80.4,470.03" fill="#fff" stroke="#9484e2" stroke-width="0.9"/>
<polygon points="83.63,461.29 85.91,463.57 83.63,465.85 81.35,463.57" fill="#fff" stroke="#9484e2" stroke-width="0.9"/>
<polygon points="85.53,458.11 87.81,460.39 85.53,462.67 83.25,460.39" fill="#fff" stroke="#9484e2" stroke-width="0.9"/>
<polygon points="89.09,455.92 91.37,458.2 89.09,460.48 86.81,458.2" fill="#fff" stroke="#9484e2" stroke-width="0.9"/>
<polygon points="96.22,454.1 98.5,456.38 96.22,458.66 93.94,456.38" fill="#fff" stroke="#9484e2" stroke-width="0.9"/>
<polygon points="102.15,453.74 104.43,456.02 102.15,458.3 99.87,456.02" fill="#fff" stroke="#9484e2" stroke-width="0.9"/>
<polygon points="108.08,453.01 110.36,455.29 108.08,457.57 105.8,455.29" fill="#fff" stroke="#9484e2" stroke-width="0.9"/>
<polygon points="114.02,452.19 116.3,454.47 114.02,456.75 111.74,454.47" fill="#fff" stroke="#9484e2" stroke-width="0.9"/>
<polygon points="125.89,451.28 128.17,453.56 125.89,455.84 123.61,453.56" fill="#fff" stroke="#9484e2" stroke-width="0.9"/>
<polygon points="137.76,450.37 140.04,452.65 137.76,454.93 135.48,452.65" fill="#fff" stroke="#9484e2" stroke-width="0.9"/>
<polygon points="149.63,449.55 151.91,451.83 149.63,454.11 147.35,451.83" fill="#fff" stroke="#9484e2" stroke-width="0.9"/>
<polygon points="161.5,448.55 163.78,450.83 161.5,453.11 159.22,450.83" fill="#fff" stroke="#9484e2" stroke-width="0.9"/>
<text x="44.6" y="391.8" font-family='"Liberation Serif", serif' font-size="7" fill="#f24a4a" stroke="#f24a4a" stroke-width="0.3">Base region</text>
<text x="44.6" y="400.2" font-family='"Liberation Serif", serif' font-size="7" fill="#222" stroke="#222" stroke-width="0.15">I<tspan font-size="4.8" dy="1.6">B</tspan><tspan dy="-1.6">=50&#956;A</tspan></text>
<line x1="44.2" y1="408" x2="59.3" y2="408" stroke="#2ecf8c" stroke-width="1.4" />
<rect x="50.22" y="406.47" width="3.06" height="3.06" fill="#fff" stroke="#2ecf8c" stroke-width="0.8"/>
<text x="60.9" y="410.24" font-family='"Liberation Serif", serif' font-size="6.8" fill="#1a1a1a" stroke="#1a1a1a" stroke-width="0.15">6<tspan font-size="5.3">&#215;</tspan>10<tspan font-size="3.9" dy="-2.9">16</tspan><tspan dy="2.9">/(cm</tspan><tspan font-size="3.9" dy="-2.9">-3</tspan><tspan dy="2.9">)</tspan></text>
<line x1="44.2" y1="417.1" x2="59.3" y2="417.1" stroke="#4d7fc0" stroke-width="1.4" />
<polygon points="51.75,415.23 53.53,418.38 49.97,418.38" fill="#fff" stroke="#4d7fc0" stroke-width="0.8"/>
<text x="60.9" y="419.34" font-family='"Liberation Serif", serif' font-size="6.8" fill="#1a1a1a" stroke="#1a1a1a" stroke-width="0.15">8<tspan font-size="5.3">&#215;</tspan>10<tspan font-size="3.9" dy="-2.9">16</tspan><tspan dy="2.9">/(cm</tspan><tspan font-size="3.9" dy="-2.9">-3</tspan><tspan dy="2.9">)</tspan></text>
<line x1="44.2" y1="425.9" x2="59.3" y2="425.9" stroke="#f23f3f" stroke-width="1.4" />
<circle cx="51.75" cy="425.9" r="1.7" fill="#fff" stroke="#f23f3f" stroke-width="0.8"/>
<text x="60.9" y="428.14" font-family='"Liberation Serif", serif' font-size="6.8" fill="#1a1a1a" stroke="#1a1a1a" stroke-width="0.15">1<tspan font-size="5.3">&#215;</tspan>10<tspan font-size="3.9" dy="-2.9">17</tspan><tspan dy="2.9">/(cm</tspan><tspan font-size="3.9" dy="-2.9">-3</tspan><tspan dy="2.9">)</tspan></text>
<line x1="44.2" y1="435" x2="59.3" y2="435" stroke="#ffb060" stroke-width="1.4" />
<polygon points="51.75,436.87 53.53,433.73 49.97,433.73" fill="#fff" stroke="#ffb060" stroke-width="0.8"/>
<text x="60.9" y="437.24" font-family='"Liberation Serif", serif' font-size="6.8" fill="#1a1a1a" stroke="#1a1a1a" stroke-width="0.15">3<tspan font-size="5.3">&#215;</tspan>10<tspan font-size="3.9" dy="-2.9">17</tspan><tspan dy="2.9">/(cm</tspan><tspan font-size="3.9" dy="-2.9">-3</tspan><tspan dy="2.9">)</tspan></text>
<line x1="44.2" y1="444.1" x2="59.3" y2="444.1" stroke="#9484e2" stroke-width="1.4" />
<polygon points="51.75,442.06 53.79,444.1 51.75,446.14 49.71,444.1" fill="#fff" stroke="#9484e2" stroke-width="0.8"/>
<text x="60.9" y="446.34" font-family='"Liberation Serif", serif' font-size="6.8" fill="#1a1a1a" stroke="#1a1a1a" stroke-width="0.15">5<tspan font-size="5.3">&#215;</tspan>10<tspan font-size="3.9" dy="-2.9">17</tspan><tspan dy="2.9">/(cm</tspan><tspan font-size="3.9" dy="-2.9">-3</tspan><tspan dy="2.9">)</tspan></text>
<text transform="translate(21.8,438.9) rotate(-90)" x="0" y="0" font-family='"Liberation Serif", serif' font-size="10" text-anchor="middle" fill="#222" stroke="#222" stroke-width="0.22">I<tspan font-size="7" dy="2.5">MQW</tspan><tspan dy="-2.5"> / (mA)</tspan></text>
<text x="102.3" y="516.6" font-family='"Liberation Serif", serif' font-size="8.4" text-anchor="middle" fill="#222" stroke="#222" stroke-width="0.18">V<tspan font-size="5.88" dy="2.1">A</tspan><tspan dy="-2.1"> / (V)</tspan></text>
<clipPath id="c5"><rect x="214" y="381.8" width="130.2" height="115.19999999999999"/></clipPath>
<line x1="214" y1="497" x2="216.5" y2="497" stroke="#505050" stroke-width="0.9" />
<text x="211.6" y="499.85" transform="translate(0,-49.99) scale(1,1.1)" font-family='"Liberation Sans", sans-serif' font-size="7.2" text-anchor="end" fill="#1a1a1a" stroke="#1a1a1a" stroke-width="0.18">0</text>
<line x1="214" y1="485.48" x2="216.5" y2="485.48" stroke="#505050" stroke-width="0.9" />
<text x="211.6" y="488.33" transform="translate(0,-48.83) scale(1,1.1)" font-family='"Liberation Sans", sans-serif' font-size="7.2" text-anchor="end" fill="#1a1a1a" stroke="#1a1a1a" stroke-width="0.18">50</text>
<line x1="214" y1="473.96" x2="216.5" y2="473.96" stroke="#505050" stroke-width="0.9" />
<text x="211.6" y="476.81" transform="translate(0,-47.68) scale(1,1.1)" font-family='"Liberation Sans", sans-serif' font-size="7.2" text-anchor="end" fill="#1a1a1a" stroke="#1a1a1a" stroke-width="0.18">100</text>
<line x1="214" y1="462.44" x2="216.5" y2="462.44" stroke="#505050" stroke-width="0.9" />
<text x="211.6" y="465.29" transform="translate(0,-46.53) scale(1,1.1)" font-family='"Liberation Sans", sans-serif' font-size="7.2" text-anchor="end" fill="#1a1a1a" stroke="#1a1a1a" stroke-width="0.18">150</text>
<line x1="214" y1="450.92" x2="216.5" y2="450.92" stroke="#505050" stroke-width="0.9" />
<text x="211.6" y="453.77" transform="translate(0,-45.38) scale(1,1.1)" font-family='"Liberation Sans", sans-serif' font-size="7.2" text-anchor="end" fill="#1a1a1a" stroke="#1a1a1a" stroke-width="0.18">200</text>
<line x1="214" y1="439.4" x2="216.5" y2="439.4" stroke="#505050" stroke-width="0.9" />
<text x="211.6" y="442.25" transform="translate(0,-44.23) scale(1,1.1)" font-family='"Liberation Sans", sans-serif' font-size="7.2" text-anchor="end" fill="#1a1a1a" stroke="#1a1a1a" stroke-width="0.18">250</text>
<line x1="214" y1="427.88" x2="216.5" y2="427.88" stroke="#505050" stroke-width="0.9" />
<text x="211.6" y="430.73" transform="translate(0,-43.07) scale(1,1.1)" font-family='"Liberation Sans", sans-serif' font-size="7.2" text-anchor="end" fill="#1a1a1a" stroke="#1a1a1a" stroke-width="0.18">300</text>
<line x1="214" y1="416.36" x2="216.5" y2="416.36" stroke="#505050" stroke-width="0.9" />
<text x="211.6" y="419.21" transform="translate(0,-41.92) scale(1,1.1)" font-family='"Liberation Sans", sans-serif' font-size="7.2" text-anchor="end" fill="#1a1a1a" stroke="#1a1a1a" stroke-width="0.18">350</text>
<line x1="214" y1="404.84" x2="216.5" y2="404.84" stroke="#505050" stroke-width="0.9" />
<text x="211.6" y="407.69" transform="translate(0,-40.77) scale(1,1.1)" font-family='"Liberation Sans", sans-serif' font-size="7.2" text-anchor="end" fill="#1a1a1a" stroke="#1a1a1a" stroke-width="0.18">400</text>
<line x1="214" y1="393.32" x2="216.5" y2="393.32" stroke="#505050" stroke-width="0.9" />
<text x="211.6" y="396.17" transform="translate(0,-39.62) scale(1,1.1)" font-family='"Liberation Sans", sans-serif' font-size="7.2" text-anchor="end" fill="#1a1a1a" stroke="#1a1a1a" stroke-width="0.18">450</text>
<line x1="214" y1="381.8" x2="216.5" y2="381.8" stroke="#505050" stroke-width="0.9" />
<text x="211.6" y="384.65" transform="translate(0,-38.47) scale(1,1.1)" font-family='"Liberation Sans", sans-serif' font-size="7.2" text-anchor="end" fill="#1a1a1a" stroke="#1a1a1a" stroke-width="0.18">500</text>
<line x1="214" y1="491.24" x2="215.5" y2="491.24" stroke="#505050" stroke-width="0.8" />
<line x1="214" y1="479.72" x2="215.5" y2="479.72" stroke="#505050" stroke-width="0.8" />
<line x1="214" y1="468.2" x2="215.5" y2="468.2" stroke="#505050" stroke-width="0.8" />
<line x1="214" y1="456.68" x2="215.5" y2="456.68" stroke="#505050" stroke-width="0.8" />
<line x1="214" y1="445.16" x2="215.5" y2="445.16" stroke="#505050" stroke-width="0.8" />
<line x1="214" y1="433.64" x2="215.5" y2="433.64" stroke="#505050" stroke-width="0.8" />
<line x1="214" y1="422.12" x2="215.5" y2="422.12" stroke="#505050" stroke-width="0.8" />
<line x1="214" y1="410.6" x2="215.5" y2="410.6" stroke="#505050" stroke-width="0.8" />
<line x1="214" y1="399.08" x2="215.5" y2="399.08" stroke="#505050" stroke-width="0.8" />
<line x1="214" y1="387.56" x2="215.5" y2="387.56" stroke="#505050" stroke-width="0.8" />
<line x1="214.13" y1="497" x2="214.13" y2="495.5" stroke="#505050" stroke-width="0.8" />
<line x1="215.83" y1="497" x2="215.83" y2="495.5" stroke="#505050" stroke-width="0.8" />
<line x1="217.27" y1="497" x2="217.27" y2="495.5" stroke="#505050" stroke-width="0.8" />
<line x1="218.52" y1="497" x2="218.52" y2="495.5" stroke="#505050" stroke-width="0.8" />
<line x1="219.62" y1="497" x2="219.62" y2="495.5" stroke="#505050" stroke-width="0.8" />
<line x1="220.6" y1="497" x2="220.6" y2="494.5" stroke="#505050" stroke-width="0.9" />
<text x="220.6" y="506.2" transform="translate(0,-50.62) scale(1,1.1)" font-family='"Liberation Sans", sans-serif' font-size="7.2" text-anchor="middle" fill="#1a1a1a" stroke="#1a1a1a" stroke-width="0.18">10<tspan font-size="4.9" dy="-3.02">-9</tspan></text>
<line x1="227.07" y1="497" x2="227.07" y2="495.5" stroke="#505050" stroke-width="0.8" />
<line x1="230.86" y1="497" x2="230.86" y2="495.5" stroke="#505050" stroke-width="0.8" />
<line x1="233.54" y1="497" x2="233.54" y2="495.5" stroke="#505050" stroke-width="0.8" />
<line x1="235.63" y1="497" x2="235.63" y2="495.5" stroke="#505050" stroke-width="0.8" />
<line x1="237.33" y1="497" x2="237.33" y2="495.5" stroke="#505050" stroke-width="0.8" />
<line x1="238.77" y1="497" x2="238.77" y2="495.5" stroke="#505050" stroke-width="0.8" />
<line x1="240.02" y1="497" x2="240.02" y2="495.5" stroke="#505050" stroke-width="0.8" />
<line x1="241.12" y1="497" x2="241.12" y2="495.5" stroke="#505050" stroke-width="0.8" />
<line x1="242.1" y1="497" x2="242.1" y2="494.5" stroke="#505050" stroke-width="0.9" />
<text x="242.1" y="506.2" transform="translate(0,-50.62) scale(1,1.1)" font-family='"Liberation Sans", sans-serif' font-size="7.2" text-anchor="middle" fill="#1a1a1a" stroke="#1a1a1a" stroke-width="0.18">10<tspan font-size="4.9" dy="-3.02">-8</tspan></text>
<line x1="248.57" y1="497" x2="248.57" y2="495.5" stroke="#505050" stroke-width="0.8" />
<line x1="252.36" y1="497" x2="252.36" y2="495.5" stroke="#505050" stroke-width="0.8" />
<line x1="255.04" y1="497" x2="255.04" y2="495.5" stroke="#505050" stroke-width="0.8" />
<line x1="257.13" y1="497" x2="257.13" y2="495.5" stroke="#505050" stroke-width="0.8" />
<line x1="258.83" y1="497" x2="258.83" y2="495.5" stroke="#505050" stroke-width="0.8" />
<line x1="260.27" y1="497" x2="260.27" y2="495.5" stroke="#505050" stroke-width="0.8" />
<line x1="261.52" y1="497" x2="261.52" y2="495.5" stroke="#505050" stroke-width="0.8" />
<line x1="262.62" y1="497" x2="262.62" y2="495.5" stroke="#505050" stroke-width="0.8" />
<line x1="263.6" y1="497" x2="263.6" y2="494.5" stroke="#505050" stroke-width="0.9" />
<text x="263.6" y="506.2" transform="translate(0,-50.62) scale(1,1.1)" font-family='"Liberation Sans", sans-serif' font-size="7.2" text-anchor="middle" fill="#1a1a1a" stroke="#1a1a1a" stroke-width="0.18">10<tspan font-size="4.9" dy="-3.02">-7</tspan></text>
<line x1="270.07" y1="497" x2="270.07" y2="495.5" stroke="#505050" stroke-width="0.8" />
<line x1="273.86" y1="497" x2="273.86" y2="495.5" stroke="#505050" stroke-width="0.8" />
<line x1="276.54" y1="497" x2="276.54" y2="495.5" stroke="#505050" stroke-width="0.8" />
<line x1="278.63" y1="497" x2="278.63" y2="495.5" stroke="#505050" stroke-width="0.8" />
<line x1="280.33" y1="497" x2="280.33" y2="495.5" stroke="#505050" stroke-width="0.8" />
<line x1="281.77" y1="497" x2="281.77" y2="495.5" stroke="#505050" stroke-width="0.8" />
<line x1="283.02" y1="497" x2="283.02" y2="495.5" stroke="#505050" stroke-width="0.8" />
<line x1="284.12" y1="497" x2="284.12" y2="495.5" stroke="#505050" stroke-width="0.8" />
<line x1="285.1" y1="497" x2="285.1" y2="494.5" stroke="#505050" stroke-width="0.9" />
<text x="285.1" y="506.2" transform="translate(0,-50.62) scale(1,1.1)" font-family='"Liberation Sans", sans-serif' font-size="7.2" text-anchor="middle" fill="#1a1a1a" stroke="#1a1a1a" stroke-width="0.18">10<tspan font-size="4.9" dy="-3.02">-6</tspan></text>
<line x1="291.57" y1="497" x2="291.57" y2="495.5" stroke="#505050" stroke-width="0.8" />
<line x1="295.36" y1="497" x2="295.36" y2="495.5" stroke="#505050" stroke-width="0.8" />
<line x1="298.04" y1="497" x2="298.04" y2="495.5" stroke="#505050" stroke-width="0.8" />
<line x1="300.13" y1="497" x2="300.13" y2="495.5" stroke="#505050" stroke-width="0.8" />
<line x1="301.83" y1="497" x2="301.83" y2="495.5" stroke="#505050" stroke-width="0.8" />
<line x1="303.27" y1="497" x2="303.27" y2="495.5" stroke="#505050" stroke-width="0.8" />
<line x1="304.52" y1="497" x2="304.52" y2="495.5" stroke="#505050" stroke-width="0.8" />
<line x1="305.62" y1="497" x2="305.62" y2="495.5" stroke="#505050" stroke-width="0.8" />
<line x1="306.6" y1="497" x2="306.6" y2="494.5" stroke="#505050" stroke-width="0.9" />
<text x="306.6" y="506.2" transform="translate(0,-50.62) scale(1,1.1)" font-family='"Liberation Sans", sans-serif' font-size="7.2" text-anchor="middle" fill="#1a1a1a" stroke="#1a1a1a" stroke-width="0.18">10<tspan font-size="4.9" dy="-3.02">-5</tspan></text>
<line x1="313.07" y1="497" x2="313.07" y2="495.5" stroke="#505050" stroke-width="0.8" />
<line x1="316.86" y1="497" x2="316.86" y2="495.5" stroke="#505050" stroke-width="0.8" />
<line x1="319.54" y1="497" x2="319.54" y2="495.5" stroke="#505050" stroke-width="0.8" />
<line x1="321.63" y1="497" x2="321.63" y2="495.5" stroke="#505050" stroke-width="0.8" />
<line x1="323.33" y1="497" x2="323.33" y2="495.5" stroke="#505050" stroke-width="0.8" />
<line x1="324.77" y1="497" x2="324.77" y2="495.5" stroke="#505050" stroke-width="0.8" />
<line x1="326.02" y1="497" x2="326.02" y2="495.5" stroke="#505050" stroke-width="0.8" />
<line x1="327.12" y1="497" x2="327.12" y2="495.5" stroke="#505050" stroke-width="0.8" />
<line x1="328.1" y1="497" x2="328.1" y2="494.5" stroke="#505050" stroke-width="0.9" />
<text x="328.1" y="506.2" transform="translate(0,-50.62) scale(1,1.1)" font-family='"Liberation Sans", sans-serif' font-size="7.2" text-anchor="middle" fill="#1a1a1a" stroke="#1a1a1a" stroke-width="0.18">10<tspan font-size="4.9" dy="-3.02">-4</tspan></text>
<line x1="334.57" y1="497" x2="334.57" y2="495.5" stroke="#505050" stroke-width="0.8" />
<line x1="338.36" y1="497" x2="338.36" y2="495.5" stroke="#505050" stroke-width="0.8" />
<line x1="341.04" y1="497" x2="341.04" y2="495.5" stroke="#505050" stroke-width="0.8" />
<line x1="343.13" y1="497" x2="343.13" y2="495.5" stroke="#505050" stroke-width="0.8" />
<polyline points="213.93,475.8 237.8,451.38 265.75,436.64 281.23,444.01 295.85,458.98 308.75,470.27 318.43,477.19 332.83,484.56 342.5,489.63" fill="none" stroke="#2ecf8c" stroke-width="1.45" stroke-linejoin="round" clip-path="url(#c5)"/>
<rect x="212.22" y="474.09" width="3.42" height="3.42" fill="#fff" stroke="#2ecf8c" stroke-width="0.9"/>
<rect x="236.09" y="449.67" width="3.42" height="3.42" fill="#fff" stroke="#2ecf8c" stroke-width="0.9"/>
<rect x="264.04" y="434.93" width="3.42" height="3.42" fill="#fff" stroke="#2ecf8c" stroke-width="0.9"/>
<rect x="279.52" y="442.3" width="3.42" height="3.42" fill="#fff" stroke="#2ecf8c" stroke-width="0.9"/>
<rect x="294.14" y="457.27" width="3.42" height="3.42" fill="#fff" stroke="#2ecf8c" stroke-width="0.9"/>
<rect x="307.04" y="468.56" width="3.42" height="3.42" fill="#fff" stroke="#2ecf8c" stroke-width="0.9"/>
<rect x="316.72" y="475.48" width="3.42" height="3.42" fill="#fff" stroke="#2ecf8c" stroke-width="0.9"/>
<rect x="331.12" y="482.85" width="3.42" height="3.42" fill="#fff" stroke="#2ecf8c" stroke-width="0.9"/>
<rect x="340.8" y="487.92" width="3.42" height="3.42" fill="#fff" stroke="#2ecf8c" stroke-width="0.9"/>
<polyline points="213.93,473.96 237.8,449.54 265.75,435.25 281.23,443.32 295.85,458.52 308.75,470.27 318.43,476.96 332.83,484.33 342.5,489.4" fill="none" stroke="#4d7fc0" stroke-width="1.45" stroke-linejoin="round" clip-path="url(#c5)"/>
<polygon points="213.93,471.87 215.93,475.38 211.94,475.38" fill="#fff" stroke="#4d7fc0" stroke-width="0.9"/>
<polygon points="237.8,447.45 239.8,450.96 235.81,450.96" fill="#fff" stroke="#4d7fc0" stroke-width="0.9"/>
<polygon points="265.75,433.16 267.75,436.68 263.75,436.68" fill="#fff" stroke="#4d7fc0" stroke-width="0.9"/>
<polygon points="281.23,441.23 283.23,444.74 279.24,444.74" fill="#fff" stroke="#4d7fc0" stroke-width="0.9"/>
<polygon points="295.85,456.43 297.85,459.95 293.86,459.95" fill="#fff" stroke="#4d7fc0" stroke-width="0.9"/>
<polygon points="308.75,468.18 310.75,471.7 306.75,471.7" fill="#fff" stroke="#4d7fc0" stroke-width="0.9"/>
<polygon points="318.43,474.87 320.42,478.38 316.43,478.38" fill="#fff" stroke="#4d7fc0" stroke-width="0.9"/>
<polygon points="332.83,482.24 334.83,485.75 330.84,485.75" fill="#fff" stroke="#4d7fc0" stroke-width="0.9"/>
<polygon points="342.5,487.31 344.5,490.82 340.51,490.82" fill="#fff" stroke="#4d7fc0" stroke-width="0.9"/>
<polyline points="213.93,472.58 237.8,447.69 265.75,433.87 281.23,442.4 295.85,458.06 308.75,470.27 318.43,476.72 332.83,484.33 342.5,489.63" fill="none" stroke="#f23f3f" stroke-width="1.45" stroke-linejoin="round" clip-path="url(#c5)"/>
<circle cx="213.93" cy="472.58" r="1.9" fill="#fff" stroke="#f23f3f" stroke-width="0.9"/>
<circle cx="237.8" cy="447.69" r="1.9" fill="#fff" stroke="#f23f3f" stroke-width="0.9"/>
<circle cx="265.75" cy="433.87" r="1.9" fill="#fff" stroke="#f23f3f" stroke-width="0.9"/>
<circle cx="281.23" cy="442.4" r="1.9" fill="#fff" stroke="#f23f3f" stroke-width="0.9"/>
<circle cx="295.85" cy="458.06" r="1.9" fill="#fff" stroke="#f23f3f" stroke-width="0.9"/>
<circle cx="308.75" cy="470.27" r="1.9" fill="#fff" stroke="#f23f3f" stroke-width="0.9"/>
<circle cx="318.43" cy="476.72" r="1.9" fill="#fff" stroke="#f23f3f" stroke-width="0.9"/>
<circle cx="332.83" cy="484.33" r="1.9" fill="#fff" stroke="#f23f3f" stroke-width="0.9"/>
<circle cx="342.5" cy="489.63" r="1.9" fill="#fff" stroke="#f23f3f" stroke-width="0.9"/>
<polyline points="213.93,463.36 237.8,435.71 265.75,423.5 281.23,435.71 295.85,454.61 308.75,469.58 318.43,476.49 332.83,484.1 342.5,489.17" fill="none" stroke="#ffb060" stroke-width="1.45" stroke-linejoin="round" clip-path="url(#c5)"/>
<polygon points="213.93,465.45 215.93,461.94 211.94,461.94" fill="#fff" stroke="#ffb060" stroke-width="0.9"/>
<polygon points="237.8,437.8 239.8,434.29 235.81,434.29" fill="#fff" stroke="#ffb060" stroke-width="0.9"/>
<polygon points="265.75,425.59 267.75,422.08 263.75,422.08" fill="#fff" stroke="#ffb060" stroke-width="0.9"/>
<polygon points="281.23,437.8 283.23,434.29 279.24,434.29" fill="#fff" stroke="#ffb060" stroke-width="0.9"/>
<polygon points="295.85,456.7 297.85,453.18 293.86,453.18" fill="#fff" stroke="#ffb060" stroke-width="0.9"/>
<polygon points="308.75,471.67 310.75,468.16 306.75,468.16" fill="#fff" stroke="#ffb060" stroke-width="0.9"/>
<polygon points="318.43,478.58 320.42,475.07 316.43,475.07" fill="#fff" stroke="#ffb060" stroke-width="0.9"/>
<polygon points="332.83,486.19 334.83,482.67 330.84,482.67" fill="#fff" stroke="#ffb060" stroke-width="0.9"/>
<polygon points="342.5,491.26 344.5,487.74 340.51,487.74" fill="#fff" stroke="#ffb060" stroke-width="0.9"/>
<polyline points="213.93,409.68 237.8,402.08 265.75,402.77 281.23,424.19 295.85,448.85 308.75,464.97 318.43,473.5 332.83,482.95 342.5,488.01" fill="none" stroke="#9484e2" stroke-width="1.45" stroke-linejoin="round" clip-path="url(#c5)"/>
<polygon points="213.93,407.4 216.21,409.68 213.93,411.96 211.65,409.68" fill="#fff" stroke="#9484e2" stroke-width="0.9"/>
<polygon points="237.8,399.8 240.08,402.08 237.8,404.36 235.52,402.08" fill="#fff" stroke="#9484e2" stroke-width="0.9"/>
<polygon points="265.75,400.49 268.03,402.77 265.75,405.05 263.47,402.77" fill="#fff" stroke="#9484e2" stroke-width="0.9"/>
<polygon points="281.23,421.91 283.51,424.19 281.23,426.47 278.95,424.19" fill="#fff" stroke="#9484e2" stroke-width="0.9"/>
<polygon points="295.85,446.57 298.13,448.85 295.85,451.13 293.57,448.85" fill="#fff" stroke="#9484e2" stroke-width="0.9"/>
<polygon points="308.75,462.69 311.03,464.97 308.75,467.25 306.47,464.97" fill="#fff" stroke="#9484e2" stroke-width="0.9"/>
<polygon points="318.43,471.22 320.7,473.5 318.43,475.78 316.15,473.5" fill="#fff" stroke="#9484e2" stroke-width="0.9"/>
<polygon points="332.83,480.67 335.11,482.95 332.83,485.23 330.55,482.95" fill="#fff" stroke="#9484e2" stroke-width="0.9"/>
<polygon points="342.5,485.73 344.78,488.01 342.5,490.29 340.23,488.01" fill="#fff" stroke="#9484e2" stroke-width="0.9"/>
<text x="292.3" y="388.8" font-family='"Liberation Serif", serif' font-size="6.6" fill="#22c07a" stroke="#22c07a" stroke-width="0.3">Transition region</text>
<text x="292.3" y="397.4" font-family='"Liberation Serif", serif' font-size="6.4" fill="#222" stroke="#222" stroke-width="0.14">V<tspan font-size="4.4" dy="1.5">A</tspan><tspan dy="-1.5">=6V</tspan></text>
<line x1="292.3" y1="403.9" x2="305" y2="403.9" stroke="#2ecf8c" stroke-width="1.4" />
<rect x="297.12" y="402.37" width="3.06" height="3.06" fill="#fff" stroke="#2ecf8c" stroke-width="0.8"/>
<text x="308.3" y="405.88" font-family='"Liberation Serif", serif' font-size="6.0" fill="#1a1a1a" stroke="#1a1a1a" stroke-width="0.13">1<tspan font-size="5.199999999999999">&#215;</tspan>10<tspan font-size="3.8" dy="-2.2">18</tspan><tspan dy="2.2">/ (cm</tspan><tspan font-size="3.8" dy="-2.2">-3</tspan><tspan dy="2.2">)</tspan></text>
<line x1="292.3" y1="412.5" x2="305" y2="412.5" stroke="#4d7fc0" stroke-width="1.4" />
<polygon points="298.65,410.63 300.44,413.77 296.86,413.77" fill="#fff" stroke="#4d7fc0" stroke-width="0.8"/>
<text x="308.3" y="414.48" font-family='"Liberation Serif", serif' font-size="6.0" fill="#1a1a1a" stroke="#1a1a1a" stroke-width="0.13">5<tspan font-size="5.199999999999999">&#215;</tspan>10<tspan font-size="3.8" dy="-2.2">18</tspan><tspan dy="2.2">/ (cm</tspan><tspan font-size="3.8" dy="-2.2">-3</tspan><tspan dy="2.2">)</tspan></text>
<line x1="292.3" y1="421.1" x2="305" y2="421.1" stroke="#f23f3f" stroke-width="1.4" />
<circle cx="298.65" cy="421.1" r="1.7" fill="#fff" stroke="#f23f3f" stroke-width="0.8"/>
<text x="308.3" y="423.08" font-family='"Liberation Serif", serif' font-size="6.0" fill="#1a1a1a" stroke="#1a1a1a" stroke-width="0.13">1<tspan font-size="5.199999999999999">&#215;</tspan>10<tspan font-size="3.8" dy="-2.2">19</tspan><tspan dy="2.2">/ (cm</tspan><tspan font-size="3.8" dy="-2.2">-3</tspan><tspan dy="2.2">)</tspan></text>
<line x1="292.3" y1="428.7" x2="305" y2="428.7" stroke="#ffb060" stroke-width="1.4" />
<polygon points="298.65,430.57 300.44,427.43 296.86,427.43" fill="#fff" stroke="#ffb060" stroke-width="0.8"/>
<text x="308.3" y="430.68" font-family='"Liberation Serif", serif' font-size="6.0" fill="#1a1a1a" stroke="#1a1a1a" stroke-width="0.13">5<tspan font-size="5.199999999999999">&#215;</tspan>10<tspan font-size="3.8" dy="-2.2">19</tspan><tspan dy="2.2">/ (cm</tspan><tspan font-size="3.8" dy="-2.2">-3</tspan><tspan dy="2.2">)</tspan></text>
<line x1="292.3" y1="436.3" x2="305" y2="436.3" stroke="#9484e2" stroke-width="1.4" />
<polygon points="298.65,434.26 300.69,436.3 298.65,438.34 296.61,436.3" fill="#fff" stroke="#9484e2" stroke-width="0.8"/>
<text x="308.3" y="438.28" font-family='"Liberation Serif", serif' font-size="6.0" fill="#1a1a1a" stroke="#1a1a1a" stroke-width="0.13">1<tspan font-size="5.199999999999999">&#215;</tspan>10<tspan font-size="3.8" dy="-2.2">20</tspan><tspan dy="2.2">/ (cm</tspan><tspan font-size="3.8" dy="-2.2">-3</tspan><tspan dy="2.2">)</tspan></text>
<text transform="translate(195.6,438.9) rotate(-90)" x="0" y="0" font-family='"Liberation Serif", serif' font-size="9.6" text-anchor="middle" fill="#222" stroke="#222" stroke-width="0.21">Current gain</text>
<text x="279.3" y="519.2" font-family='"Liberation Serif", serif' font-size="9.6" text-anchor="middle" fill="#222" stroke="#222" stroke-width="0.21">I<tspan font-size="6.72" dy="2.4">B</tspan><tspan dy="-2.4"> / (A)</tspan></text>
<clipPath id="c6"><rect x="387.4" y="381.7" width="129.89999999999998" height="115.5"/></clipPath>
<line x1="387.4" y1="491.4" x2="389.9" y2="491.4" stroke="#505050" stroke-width="0.9" />
<text x="385.2" y="494.25" transform="translate(0,-49.43) scale(1,1.1)" font-family='"Liberation Sans", sans-serif' font-size="7.2" text-anchor="end" fill="#1a1a1a" stroke="#1a1a1a" stroke-width="0.18">0</text>
<line x1="387.4" y1="480.45" x2="389.9" y2="480.45" stroke="#505050" stroke-width="0.9" />
<text x="385.2" y="483.3" transform="translate(0,-48.33) scale(1,1.1)" font-family='"Liberation Sans", sans-serif' font-size="7.2" text-anchor="end" fill="#1a1a1a" stroke="#1a1a1a" stroke-width="0.18">1</text>
<line x1="387.4" y1="469.5" x2="389.9" y2="469.5" stroke="#505050" stroke-width="0.9" />
<text x="385.2" y="472.35" transform="translate(0,-47.24) scale(1,1.1)" font-family='"Liberation Sans", sans-serif' font-size="7.2" text-anchor="end" fill="#1a1a1a" stroke="#1a1a1a" stroke-width="0.18">2</text>
<line x1="387.4" y1="458.55" x2="389.9" y2="458.55" stroke="#505050" stroke-width="0.9" />
<text x="385.2" y="461.4" transform="translate(0,-46.14) scale(1,1.1)" font-family='"Liberation Sans", sans-serif' font-size="7.2" text-anchor="end" fill="#1a1a1a" stroke="#1a1a1a" stroke-width="0.18">3</text>
<line x1="387.4" y1="447.6" x2="389.9" y2="447.6" stroke="#505050" stroke-width="0.9" />
<text x="385.2" y="450.45" transform="translate(0,-45.05) scale(1,1.1)" font-family='"Liberation Sans", sans-serif' font-size="7.2" text-anchor="end" fill="#1a1a1a" stroke="#1a1a1a" stroke-width="0.18">4</text>
<line x1="387.4" y1="436.65" x2="389.9" y2="436.65" stroke="#505050" stroke-width="0.9" />
<text x="385.2" y="439.5" transform="translate(0,-43.95) scale(1,1.1)" font-family='"Liberation Sans", sans-serif' font-size="7.2" text-anchor="end" fill="#1a1a1a" stroke="#1a1a1a" stroke-width="0.18">5</text>
<line x1="387.4" y1="425.7" x2="389.9" y2="425.7" stroke="#505050" stroke-width="0.9" />
<text x="385.2" y="428.55" transform="translate(0,-42.86) scale(1,1.1)" font-family='"Liberation Sans", sans-serif' font-size="7.2" text-anchor="end" fill="#1a1a1a" stroke="#1a1a1a" stroke-width="0.18">6</text>
<line x1="387.4" y1="414.75" x2="389.9" y2="414.75" stroke="#505050" stroke-width="0.9" />
<text x="385.2" y="417.6" transform="translate(0,-41.76) scale(1,1.1)" font-family='"Liberation Sans", sans-serif' font-size="7.2" text-anchor="end" fill="#1a1a1a" stroke="#1a1a1a" stroke-width="0.18">7</text>
<line x1="387.4" y1="403.8" x2="389.9" y2="403.8" stroke="#505050" stroke-width="0.9" />
<text x="385.2" y="406.65" transform="translate(0,-40.67) scale(1,1.1)" font-family='"Liberation Sans", sans-serif' font-size="7.2" text-anchor="end" fill="#1a1a1a" stroke="#1a1a1a" stroke-width="0.18">8</text>
<line x1="387.4" y1="392.85" x2="389.9" y2="392.85" stroke="#505050" stroke-width="0.9" />
<text x="385.2" y="395.7" transform="translate(0,-39.57) scale(1,1.1)" font-family='"Liberation Sans", sans-serif' font-size="7.2" text-anchor="end" fill="#1a1a1a" stroke="#1a1a1a" stroke-width="0.18">9</text>
<line x1="387.4" y1="381.9" x2="389.9" y2="381.9" stroke="#505050" stroke-width="0.9" />
<text x="385.2" y="384.75" transform="translate(0,-38.48) scale(1,1.1)" font-family='"Liberation Sans", sans-serif' font-size="7.2" text-anchor="end" fill="#1a1a1a" stroke="#1a1a1a" stroke-width="0.18">10</text>
<line x1="392.9" y1="497.2" x2="392.9" y2="494.7" stroke="#505050" stroke-width="0.9" />
<text x="392.9" y="505.6" transform="translate(0,-50.56) scale(1,1.1)" font-family='"Liberation Sans", sans-serif' font-size="7.2" text-anchor="middle" fill="#1a1a1a" stroke="#1a1a1a" stroke-width="0.18">0</text>
<line x1="416.6" y1="497.2" x2="416.6" y2="494.7" stroke="#505050" stroke-width="0.9" />
<text x="416.6" y="505.6" transform="translate(0,-50.56) scale(1,1.1)" font-family='"Liberation Sans", sans-serif' font-size="7.2" text-anchor="middle" fill="#1a1a1a" stroke="#1a1a1a" stroke-width="0.18">2</text>
<line x1="440.3" y1="497.2" x2="440.3" y2="494.7" stroke="#505050" stroke-width="0.9" />
<text x="440.3" y="505.6" transform="translate(0,-50.56) scale(1,1.1)" font-family='"Liberation Sans", sans-serif' font-size="7.2" text-anchor="middle" fill="#1a1a1a" stroke="#1a1a1a" stroke-width="0.18">4</text>
<line x1="464" y1="497.2" x2="464" y2="494.7" stroke="#505050" stroke-width="0.9" />
<text x="464" y="505.6" transform="translate(0,-50.56) scale(1,1.1)" font-family='"Liberation Sans", sans-serif' font-size="7.2" text-anchor="middle" fill="#1a1a1a" stroke="#1a1a1a" stroke-width="0.18">6</text>
<line x1="487.7" y1="497.2" x2="487.7" y2="494.7" stroke="#505050" stroke-width="0.9" />
<text x="487.7" y="505.6" transform="translate(0,-50.56) scale(1,1.1)" font-family='"Liberation Sans", sans-serif' font-size="7.2" text-anchor="middle" fill="#1a1a1a" stroke="#1a1a1a" stroke-width="0.18">8</text>
<line x1="511.4" y1="497.2" x2="511.4" y2="494.7" stroke="#505050" stroke-width="0.9" />
<text x="511.4" y="505.6" transform="translate(0,-50.56) scale(1,1.1)" font-family='"Liberation Sans", sans-serif' font-size="7.2" text-anchor="middle" fill="#1a1a1a" stroke="#1a1a1a" stroke-width="0.18">10</text>
<line x1="404.75" y1="497.2" x2="404.75" y2="495.7" stroke="#505050" stroke-width="0.8" />
<line x1="428.45" y1="497.2" x2="428.45" y2="495.7" stroke="#505050" stroke-width="0.8" />
<line x1="452.15" y1="497.2" x2="452.15" y2="495.7" stroke="#505050" stroke-width="0.8" />
<line x1="475.85" y1="497.2" x2="475.85" y2="495.7" stroke="#505050" stroke-width="0.8" />
<line x1="499.55" y1="497.2" x2="499.55" y2="495.7" stroke="#505050" stroke-width="0.8" />
<polyline points="392.9,491.4 404.75,491.4 410.67,491.4 416.6,491.4 422.52,491.4 426.08,491.4 427.26,491.18 428.45,489.21 429.63,484.83 430.82,479.35 432,473.88 433.19,469.5 434.38,466.21 435.56,464.02 437.93,461.29 440.3,459.64 452.15,454.17 464,448.15 475.85,441.03 487.7,432.82 499.55,422.96 511.4,410.37" fill="none" stroke="#2ecf8c" stroke-width="1.45" stroke-linejoin="round" clip-path="url(#c6)"/>
<rect x="391.19" y="489.69" width="3.42" height="3.42" fill="#fff" stroke="#2ecf8c" stroke-width="0.9"/>
<rect x="403.04" y="489.69" width="3.42" height="3.42" fill="#fff" stroke="#2ecf8c" stroke-width="0.9"/>
<rect x="408.96" y="489.69" width="3.42" height="3.42" fill="#fff" stroke="#2ecf8c" stroke-width="0.9"/>
<rect x="414.89" y="489.69" width="3.42" height="3.42" fill="#fff" stroke="#2ecf8c" stroke-width="0.9"/>
<rect x="420.81" y="489.69" width="3.42" height="3.42" fill="#fff" stroke="#2ecf8c" stroke-width="0.9"/>
<rect x="424.37" y="489.69" width="3.42" height="3.42" fill="#fff" stroke="#2ecf8c" stroke-width="0.9"/>
<rect x="425.56" y="489.47" width="3.42" height="3.42" fill="#fff" stroke="#2ecf8c" stroke-width="0.9"/>
<rect x="426.74" y="487.5" width="3.42" height="3.42" fill="#fff" stroke="#2ecf8c" stroke-width="0.9"/>
<rect x="427.93" y="483.12" width="3.42" height="3.42" fill="#fff" stroke="#2ecf8c" stroke-width="0.9"/>
<rect x="429.11" y="477.64" width="3.42" height="3.42" fill="#fff" stroke="#2ecf8c" stroke-width="0.9"/>
<rect x="430.3" y="472.17" width="3.42" height="3.42" fill="#fff" stroke="#2ecf8c" stroke-width="0.9"/>
<rect x="431.48" y="467.79" width="3.42" height="3.42" fill="#fff" stroke="#2ecf8c" stroke-width="0.9"/>
<rect x="432.67" y="464.5" width="3.42" height="3.42" fill="#fff" stroke="#2ecf8c" stroke-width="0.9"/>
<rect x="433.85" y="462.31" width="3.42" height="3.42" fill="#fff" stroke="#2ecf8c" stroke-width="0.9"/>
<rect x="436.22" y="459.58" width="3.42" height="3.42" fill="#fff" stroke="#2ecf8c" stroke-width="0.9"/>
<rect x="438.59" y="457.94" width="3.42" height="3.42" fill="#fff" stroke="#2ecf8c" stroke-width="0.9"/>
<rect x="450.44" y="452.46" width="3.42" height="3.42" fill="#fff" stroke="#2ecf8c" stroke-width="0.9"/>
<rect x="462.29" y="446.44" width="3.42" height="3.42" fill="#fff" stroke="#2ecf8c" stroke-width="0.9"/>
<rect x="474.14" y="439.32" width="3.42" height="3.42" fill="#fff" stroke="#2ecf8c" stroke-width="0.9"/>
<rect x="485.99" y="431.11" width="3.42" height="3.42" fill="#fff" stroke="#2ecf8c" stroke-width="0.9"/>
<rect x="497.84" y="421.25" width="3.42" height="3.42" fill="#fff" stroke="#2ecf8c" stroke-width="0.9"/>
<rect x="509.69" y="408.66" width="3.42" height="3.42" fill="#fff" stroke="#2ecf8c" stroke-width="0.9"/>
<polyline points="392.9,491.4 404.75,491.4 410.67,491.4 416.6,491.4 422.52,491.4 426.08,491.4 427.26,491.07 428.45,488.66 429.63,483.73 430.82,478.26 432,472.78 433.19,468.4 434.38,465.67 435.56,463.48 437.93,461.29 440.3,459.64 452.15,454.39 464,448.48 475.85,441.58 487.7,433.58 499.55,424.61 511.4,412.56" fill="none" stroke="#4d7fc0" stroke-width="1.45" stroke-linejoin="round" clip-path="url(#c6)"/>
<polygon points="392.9,489.31 394.89,492.82 390.9,492.82" fill="#fff" stroke="#4d7fc0" stroke-width="0.9"/>
<polygon points="404.75,489.31 406.75,492.82 402.75,492.82" fill="#fff" stroke="#4d7fc0" stroke-width="0.9"/>
<polygon points="410.67,489.31 412.67,492.82 408.68,492.82" fill="#fff" stroke="#4d7fc0" stroke-width="0.9"/>
<polygon points="416.6,489.31 418.59,492.82 414.6,492.82" fill="#fff" stroke="#4d7fc0" stroke-width="0.9"/>
<polygon points="422.52,489.31 424.52,492.82 420.53,492.82" fill="#fff" stroke="#4d7fc0" stroke-width="0.9"/>
<polygon points="426.08,489.31 428.07,492.82 424.08,492.82" fill="#fff" stroke="#4d7fc0" stroke-width="0.9"/>
<polygon points="427.26,488.98 429.26,492.5 425.27,492.5" fill="#fff" stroke="#4d7fc0" stroke-width="0.9"/>
<polygon points="428.45,486.57 430.44,490.09 426.45,490.09" fill="#fff" stroke="#4d7fc0" stroke-width="0.9"/>
<polygon points="429.63,481.64 431.63,485.16 427.64,485.16" fill="#fff" stroke="#4d7fc0" stroke-width="0.9"/>
<polygon points="430.82,476.17 432.81,479.69 428.82,479.69" fill="#fff" stroke="#4d7fc0" stroke-width="0.9"/>
<polygon points="432,470.69 434,474.21 430.01,474.21" fill="#fff" stroke="#4d7fc0" stroke-width="0.9"/>
<polygon points="433.19,466.31 435.19,469.83 431.19,469.83" fill="#fff" stroke="#4d7fc0" stroke-width="0.9"/>
<polygon points="434.38,463.58 436.37,467.09 432.38,467.09" fill="#fff" stroke="#4d7fc0" stroke-width="0.9"/>
<polygon points="435.56,461.39 437.55,464.9 433.56,464.9" fill="#fff" stroke="#4d7fc0" stroke-width="0.9"/>
<polygon points="437.93,459.2 439.92,462.71 435.93,462.71" fill="#fff" stroke="#4d7fc0" stroke-width="0.9"/>
<polygon points="440.3,457.56 442.29,461.07 438.3,461.07" fill="#fff" stroke="#4d7fc0" stroke-width="0.9"/>
<polygon points="452.15,452.3 454.14,455.81 450.15,455.81" fill="#fff" stroke="#4d7fc0" stroke-width="0.9"/>
<polygon points="464,446.39 466,449.9 462,449.9" fill="#fff" stroke="#4d7fc0" stroke-width="0.9"/>
<polygon points="475.85,439.49 477.84,443 473.85,443" fill="#fff" stroke="#4d7fc0" stroke-width="0.9"/>
<polygon points="487.7,431.49 489.69,435.01 485.7,435.01" fill="#fff" stroke="#4d7fc0" stroke-width="0.9"/>
<polygon points="499.55,422.52 501.54,426.03 497.55,426.03" fill="#fff" stroke="#4d7fc0" stroke-width="0.9"/>
<polygon points="511.4,410.47 513.39,413.98 509.4,413.98" fill="#fff" stroke="#4d7fc0" stroke-width="0.9"/>
<polyline points="392.9,491.4 404.75,491.4 410.67,491.4 416.6,491.4 422.52,491.4 426.08,491.4 427.26,490.85 428.45,488.11 429.63,482.64 430.82,477.16 432,471.69 433.19,467.31 434.38,465.12 435.56,462.93 437.93,461.29 440.3,459.64 452.15,454.72 464,448.69 475.85,442.12 487.7,434.46 499.55,425.7 511.4,414.2" fill="none" stroke="#f23f3f" stroke-width="1.45" stroke-linejoin="round" clip-path="url(#c6)"/>
<circle cx="392.9" cy="491.4" r="1.9" fill="#fff" stroke="#f23f3f" stroke-width="0.9"/>
<circle cx="404.75" cy="491.4" r="1.9" fill="#fff" stroke="#f23f3f" stroke-width="0.9"/>
<circle cx="410.67" cy="491.4" r="1.9" fill="#fff" stroke="#f23f3f" stroke-width="0.9"/>
<circle cx="416.6" cy="491.4" r="1.9" fill="#fff" stroke="#f23f3f" stroke-width="0.9"/>
<circle cx="422.52" cy="491.4" r="1.9" fill="#fff" stroke="#f23f3f" stroke-width="0.9"/>
<circle cx="426.08" cy="491.4" r="1.9" fill="#fff" stroke="#f23f3f" stroke-width="0.9"/>
<circle cx="427.26" cy="490.85" r="1.9" fill="#fff" stroke="#f23f3f" stroke-width="0.9"/>
<circle cx="428.45" cy="488.11" r="1.9" fill="#fff" stroke="#f23f3f" stroke-width="0.9"/>
<circle cx="429.63" cy="482.64" r="1.9" fill="#fff" stroke="#f23f3f" stroke-width="0.9"/>
<circle cx="430.82" cy="477.16" r="1.9" fill="#fff" stroke="#f23f3f" stroke-width="0.9"/>
<circle cx="432" cy="471.69" r="1.9" fill="#fff" stroke="#f23f3f" stroke-width="0.9"/>
<circle cx="433.19" cy="467.31" r="1.9" fill="#fff" stroke="#f23f3f" stroke-width="0.9"/>
<circle cx="434.38" cy="465.12" r="1.9" fill="#fff" stroke="#f23f3f" stroke-width="0.9"/>
<circle cx="435.56" cy="462.93" r="1.9" fill="#fff" stroke="#f23f3f" stroke-width="0.9"/>
<circle cx="437.93" cy="461.29" r="1.9" fill="#fff" stroke="#f23f3f" stroke-width="0.9"/>
<circle cx="440.3" cy="459.64" r="1.9" fill="#fff" stroke="#f23f3f" stroke-width="0.9"/>
<circle cx="452.15" cy="454.72" r="1.9" fill="#fff" stroke="#f23f3f" stroke-width="0.9"/>
<circle cx="464" cy="448.69" r="1.9" fill="#fff" stroke="#f23f3f" stroke-width="0.9"/>
<circle cx="475.85" cy="442.12" r="1.9" fill="#fff" stroke="#f23f3f" stroke-width="0.9"/>
<circle cx="487.7" cy="434.46" r="1.9" fill="#fff" stroke="#f23f3f" stroke-width="0.9"/>
<circle cx="499.55" cy="425.7" r="1.9" fill="#fff" stroke="#f23f3f" stroke-width="0.9"/>
<circle cx="511.4" cy="414.2" r="1.9" fill="#fff" stroke="#f23f3f" stroke-width="0.9"/>
<polyline points="392.9,491.4 404.75,491.4 410.67,491.4 416.6,491.4 418.97,491.4 421.34,490.85 422.52,488.11 423.71,482.64 424.89,477.16 426.08,471.69 427.26,467.31 428.45,464.02 430.82,461.83 434.38,459.64 440.3,457.45 452.15,453.07 464,447.6 475.85,439.94 487.7,431.17 499.55,420.22 511.4,407.63" fill="none" stroke="#ffb060" stroke-width="1.45" stroke-linejoin="round" clip-path="url(#c6)"/>
<polygon points="392.9,493.49 394.89,489.97 390.9,489.97" fill="#fff" stroke="#ffb060" stroke-width="0.9"/>
<polygon points="404.75,493.49 406.75,489.97 402.75,489.97" fill="#fff" stroke="#ffb060" stroke-width="0.9"/>
<polygon points="410.67,493.49 412.67,489.97 408.68,489.97" fill="#fff" stroke="#ffb060" stroke-width="0.9"/>
<polygon points="416.6,493.49 418.59,489.97 414.6,489.97" fill="#fff" stroke="#ffb060" stroke-width="0.9"/>
<polygon points="418.97,493.49 420.96,489.97 416.97,489.97" fill="#fff" stroke="#ffb060" stroke-width="0.9"/>
<polygon points="421.34,492.94 423.33,489.43 419.34,489.43" fill="#fff" stroke="#ffb060" stroke-width="0.9"/>
<polygon points="422.52,490.2 424.52,486.69 420.53,486.69" fill="#fff" stroke="#ffb060" stroke-width="0.9"/>
<polygon points="423.71,484.73 425.7,481.21 421.71,481.21" fill="#fff" stroke="#ffb060" stroke-width="0.9"/>
<polygon points="424.89,479.25 426.89,475.74 422.9,475.74" fill="#fff" stroke="#ffb060" stroke-width="0.9"/>
<polygon points="426.08,473.78 428.07,470.26 424.08,470.26" fill="#fff" stroke="#ffb060" stroke-width="0.9"/>
<polygon points="427.26,469.4 429.26,465.88 425.27,465.88" fill="#fff" stroke="#ffb060" stroke-width="0.9"/>
<polygon points="428.45,466.11 430.44,462.6 426.45,462.6" fill="#fff" stroke="#ffb060" stroke-width="0.9"/>
<polygon points="430.82,463.92 432.81,460.41 428.82,460.41" fill="#fff" stroke="#ffb060" stroke-width="0.9"/>
<polygon points="434.38,461.73 436.37,458.22 432.38,458.22" fill="#fff" stroke="#ffb060" stroke-width="0.9"/>
<polygon points="440.3,459.54 442.29,456.03 438.3,456.03" fill="#fff" stroke="#ffb060" stroke-width="0.9"/>
<polygon points="452.15,455.16 454.14,451.65 450.15,451.65" fill="#fff" stroke="#ffb060" stroke-width="0.9"/>
<polygon points="464,449.69 466,446.17 462,446.17" fill="#fff" stroke="#ffb060" stroke-width="0.9"/>
<polygon points="475.85,442.02 477.84,438.51 473.85,438.51" fill="#fff" stroke="#ffb060" stroke-width="0.9"/>
<polygon points="487.7,433.26 489.69,429.75 485.7,429.75" fill="#fff" stroke="#ffb060" stroke-width="0.9"/>
<polygon points="499.55,422.31 501.54,418.8 497.55,418.8" fill="#fff" stroke="#ffb060" stroke-width="0.9"/>
<polygon points="511.4,409.72 513.39,406.21 509.4,406.21" fill="#fff" stroke="#ffb060" stroke-width="0.9"/>
<polyline points="392.9,491.4 404.75,491.4 407.12,491.4 409.49,491.4 411.86,491.4 414.23,491.4 415.41,490.3 416.6,487.02 417.78,482.64 418.97,478.26 420.15,473.88 421.34,470.59 422.52,467.31 423.71,465.12 426.08,461.83 428.45,459.64 440.3,454.72 452.15,448.69 464,442.67 475.85,435.01 487.7,425.7 499.55,413.65 511.4,398.32" fill="none" stroke="#9484e2" stroke-width="1.45" stroke-linejoin="round" clip-path="url(#c6)"/>
<polygon points="392.9,489.12 395.18,491.4 392.9,493.68 390.62,491.4" fill="#fff" stroke="#9484e2" stroke-width="0.9"/>
<polygon points="404.75,489.12 407.03,491.4 404.75,493.68 402.47,491.4" fill="#fff" stroke="#9484e2" stroke-width="0.9"/>
<polygon points="407.12,489.12 409.4,491.4 407.12,493.68 404.84,491.4" fill="#fff" stroke="#9484e2" stroke-width="0.9"/>
<polygon points="409.49,489.12 411.77,491.4 409.49,493.68 407.21,491.4" fill="#fff" stroke="#9484e2" stroke-width="0.9"/>
<polygon points="411.86,489.12 414.14,491.4 411.86,493.68 409.58,491.4" fill="#fff" stroke="#9484e2" stroke-width="0.9"/>
<polygon points="414.23,489.12 416.51,491.4 414.23,493.68 411.95,491.4" fill="#fff" stroke="#9484e2" stroke-width="0.9"/>
<polygon points="415.41,488.02 417.69,490.3 415.41,492.58 413.13,490.3" fill="#fff" stroke="#9484e2" stroke-width="0.9"/>
<polygon points="416.6,484.74 418.88,487.02 416.6,489.3 414.32,487.02" fill="#fff" stroke="#9484e2" stroke-width="0.9"/>
<polygon points="417.78,480.36 420.06,482.64 417.78,484.92 415.5,482.64" fill="#fff" stroke="#9484e2" stroke-width="0.9"/>
<polygon points="418.97,475.98 421.25,478.26 418.97,480.54 416.69,478.26" fill="#fff" stroke="#9484e2" stroke-width="0.9"/>
<polygon points="420.15,471.6 422.43,473.88 420.15,476.16 417.88,473.88" fill="#fff" stroke="#9484e2" stroke-width="0.9"/>
<polygon points="421.34,468.31 423.62,470.59 421.34,472.87 419.06,470.59" fill="#fff" stroke="#9484e2" stroke-width="0.9"/>
<polygon points="422.52,465.03 424.8,467.31 422.52,469.59 420.25,467.31" fill="#fff" stroke="#9484e2" stroke-width="0.9"/>
<polygon points="423.71,462.84 425.99,465.12 423.71,467.4 421.43,465.12" fill="#fff" stroke="#9484e2" stroke-width="0.9"/>
<polygon points="426.08,459.56 428.36,461.83 426.08,464.11 423.8,461.83" fill="#fff" stroke="#9484e2" stroke-width="0.9"/>
<polygon points="428.45,457.37 430.73,459.64 428.45,461.92 426.17,459.64" fill="#fff" stroke="#9484e2" stroke-width="0.9"/>
<polygon points="440.3,452.44 442.58,454.72 440.3,457 438.02,454.72" fill="#fff" stroke="#9484e2" stroke-width="0.9"/>
<polygon points="452.15,446.42 454.43,448.69 452.15,450.97 449.87,448.69" fill="#fff" stroke="#9484e2" stroke-width="0.9"/>
<polygon points="464,440.39 466.28,442.67 464,444.95 461.72,442.67" fill="#fff" stroke="#9484e2" stroke-width="0.9"/>
<polygon points="475.85,432.73 478.13,435.01 475.85,437.29 473.57,435.01" fill="#fff" stroke="#9484e2" stroke-width="0.9"/>
<polygon points="487.7,423.42 489.98,425.7 487.7,427.98 485.42,425.7" fill="#fff" stroke="#9484e2" stroke-width="0.9"/>
<polygon points="499.55,411.38 501.83,413.65 499.55,415.93 497.27,413.65" fill="#fff" stroke="#9484e2" stroke-width="0.9"/>
<polygon points="511.4,396.05 513.68,398.32 511.4,400.6 509.12,398.32" fill="#fff" stroke="#9484e2" stroke-width="0.9"/>
<ellipse cx="426.3" cy="476.4" rx="13.5" ry="21.5" transform="rotate(-8 426.3 476.4)" fill="none" stroke="#777" stroke-width="0.8" stroke-dasharray="2,1.5"/>
<line x1="424" y1="456" x2="420.5" y2="445.5" stroke="#333" stroke-width="0.8" />
<polygon points="420,443.5 422,447 418.8,447.2" fill="#333"/>
<rect x="405.4" y="386.1" width="55.2" height="48.9" fill="#fff" stroke="#5c5c5c" stroke-width="1"/>
<clipPath id="c6i"><rect x="405.4" y="386.1" width="55.2" height="48.9"/></clipPath>
<line x1="405.4" y1="435" x2="406.9" y2="435" stroke="#505050" stroke-width="0.6" />
<line x1="405.4" y1="431.5" x2="406.3" y2="431.5" stroke="#505050" stroke-width="0.5" />
<text x="404.4" y="436.6" font-family='"Liberation Sans", sans-serif' font-size="4.6" text-anchor="end" fill="#333" stroke="#333" stroke-width="0.1">0.0</text>
<line x1="405.4" y1="428.01" x2="406.9" y2="428.01" stroke="#505050" stroke-width="0.6" />
<line x1="405.4" y1="424.51" x2="406.3" y2="424.51" stroke="#505050" stroke-width="0.5" />
<text x="404.4" y="429.61" font-family='"Liberation Sans", sans-serif' font-size="4.6" text-anchor="end" fill="#333" stroke="#333" stroke-width="0.1">0.5</text>
<line x1="405.4" y1="421.03" x2="406.9" y2="421.03" stroke="#505050" stroke-width="0.6" />
<line x1="405.4" y1="417.53" x2="406.3" y2="417.53" stroke="#505050" stroke-width="0.5" />
<text x="404.4" y="422.63" font-family='"Liberation Sans", sans-serif' font-size="4.6" text-anchor="end" fill="#333" stroke="#333" stroke-width="0.1">1.0</text>
<line x1="405.4" y1="414.04" x2="406.9" y2="414.04" stroke="#505050" stroke-width="0.6" />
<line x1="405.4" y1="410.54" x2="406.3" y2="410.54" stroke="#505050" stroke-width="0.5" />
<text x="404.4" y="415.64" font-family='"Liberation Sans", sans-serif' font-size="4.6" text-anchor="end" fill="#333" stroke="#333" stroke-width="0.1">1.5</text>
<line x1="405.4" y1="407.06" x2="406.9" y2="407.06" stroke="#505050" stroke-width="0.6" />
<line x1="405.4" y1="403.56" x2="406.3" y2="403.56" stroke="#505050" stroke-width="0.5" />
<text x="404.4" y="408.66" font-family='"Liberation Sans", sans-serif' font-size="4.6" text-anchor="end" fill="#333" stroke="#333" stroke-width="0.1">2.0</text>
<line x1="405.4" y1="400.07" x2="406.9" y2="400.07" stroke="#505050" stroke-width="0.6" />
<line x1="405.4" y1="396.57" x2="406.3" y2="396.57" stroke="#505050" stroke-width="0.5" />
<text x="404.4" y="401.67" font-family='"Liberation Sans", sans-serif' font-size="4.6" text-anchor="end" fill="#333" stroke="#333" stroke-width="0.1">2.5</text>
<line x1="405.4" y1="393.09" x2="406.9" y2="393.09" stroke="#505050" stroke-width="0.6" />
<line x1="405.4" y1="389.59" x2="406.3" y2="389.59" stroke="#505050" stroke-width="0.5" />
<text x="404.4" y="394.69" font-family='"Liberation Sans", sans-serif' font-size="4.6" text-anchor="end" fill="#333" stroke="#333" stroke-width="0.1">3.0</text>
<line x1="405.4" y1="386.1" x2="406.9" y2="386.1" stroke="#505050" stroke-width="0.6" />
<text x="404.4" y="387.7" font-family='"Liberation Sans", sans-serif' font-size="4.6" text-anchor="end" fill="#333" stroke="#333" stroke-width="0.1">3.5</text>
<line x1="405.4" y1="435" x2="405.4" y2="433.5" stroke="#505050" stroke-width="0.6" />
<line x1="410.9" y1="435" x2="410.9" y2="434.1" stroke="#505050" stroke-width="0.5" />
<text x="405.4" y="440.4" font-family='"Liberation Sans", sans-serif' font-size="4.6" text-anchor="middle" fill="#333" stroke="#333" stroke-width="0.1">1.5</text>
<line x1="416.44" y1="435" x2="416.44" y2="433.5" stroke="#505050" stroke-width="0.6" />
<line x1="421.94" y1="435" x2="421.94" y2="434.1" stroke="#505050" stroke-width="0.5" />
<text x="416.44" y="440.4" font-family='"Liberation Sans", sans-serif' font-size="4.6" text-anchor="middle" fill="#333" stroke="#333" stroke-width="0.1">2.0</text>
<line x1="427.48" y1="435" x2="427.48" y2="433.5" stroke="#505050" stroke-width="0.6" />
<line x1="432.98" y1="435" x2="432.98" y2="434.1" stroke="#505050" stroke-width="0.5" />
<text x="427.48" y="440.4" font-family='"Liberation Sans", sans-serif' font-size="4.6" text-anchor="middle" fill="#333" stroke="#333" stroke-width="0.1">2.5</text>
<line x1="438.52" y1="435" x2="438.52" y2="433.5" stroke="#505050" stroke-width="0.6" />
<line x1="444.02" y1="435" x2="444.02" y2="434.1" stroke="#505050" stroke-width="0.5" />
<text x="438.52" y="440.4" font-family='"Liberation Sans", sans-serif' font-size="4.6" text-anchor="middle" fill="#333" stroke="#333" stroke-width="0.1">3.0</text>
<line x1="449.56" y1="435" x2="449.56" y2="433.5" stroke="#505050" stroke-width="0.6" />
<line x1="455.06" y1="435" x2="455.06" y2="434.1" stroke="#505050" stroke-width="0.5" />
<text x="449.56" y="440.4" font-family='"Liberation Sans", sans-serif' font-size="4.6" text-anchor="middle" fill="#333" stroke="#333" stroke-width="0.1">3.5</text>
<line x1="460.6" y1="435" x2="460.6" y2="433.5" stroke="#505050" stroke-width="0.6" />
<text x="460.6" y="440.4" font-family='"Liberation Sans", sans-serif' font-size="4.6" text-anchor="middle" fill="#333" stroke="#333" stroke-width="0.1">4.0</text>
<polyline points="405.4,435 416.44,435 427.48,435 437.42,435 438.52,434.3 439.62,432.21 440.73,428.01 442.94,418.23 445.14,411.95 447.35,407.34 449.56,404.26 451.77,401.75 456.18,398.95 460.6,396.86" fill="none" stroke="#2ecf8c" stroke-width="1.0" stroke-linejoin="round" clip-path="url(#c6i)"/>
<rect x="404.59" y="434.19" width="1.62" height="1.62" fill="#fff" stroke="#2ecf8c" stroke-width="0.5"/>
<rect x="415.63" y="434.19" width="1.62" height="1.62" fill="#fff" stroke="#2ecf8c" stroke-width="0.5"/>
<rect x="426.67" y="434.19" width="1.62" height="1.62" fill="#fff" stroke="#2ecf8c" stroke-width="0.5"/>
<rect x="436.61" y="434.19" width="1.62" height="1.62" fill="#fff" stroke="#2ecf8c" stroke-width="0.5"/>
<rect x="437.71" y="433.49" width="1.62" height="1.62" fill="#fff" stroke="#2ecf8c" stroke-width="0.5"/>
<rect x="438.81" y="431.4" width="1.62" height="1.62" fill="#fff" stroke="#2ecf8c" stroke-width="0.5"/>
<rect x="439.92" y="427.2" width="1.62" height="1.62" fill="#fff" stroke="#2ecf8c" stroke-width="0.5"/>
<rect x="442.13" y="417.42" width="1.62" height="1.62" fill="#fff" stroke="#2ecf8c" stroke-width="0.5"/>
<rect x="444.33" y="411.14" width="1.62" height="1.62" fill="#fff" stroke="#2ecf8c" stroke-width="0.5"/>
<rect x="446.54" y="406.53" width="1.62" height="1.62" fill="#fff" stroke="#2ecf8c" stroke-width="0.5"/>
<rect x="448.75" y="403.45" width="1.62" height="1.62" fill="#fff" stroke="#2ecf8c" stroke-width="0.5"/>
<rect x="450.96" y="400.94" width="1.62" height="1.62" fill="#fff" stroke="#2ecf8c" stroke-width="0.5"/>
<rect x="455.37" y="398.14" width="1.62" height="1.62" fill="#fff" stroke="#2ecf8c" stroke-width="0.5"/>
<rect x="459.79" y="396.05" width="1.62" height="1.62" fill="#fff" stroke="#2ecf8c" stroke-width="0.5"/>
<polyline points="405.95,435 416.99,435 428.03,435 436.86,435 437.97,434.3 439.07,431.51 440.18,427.32 441.28,422.43 443.49,414.04 445.7,409.15 447.9,405.66 450.11,402.87 452.32,400.77 456.74,398.39 461.15,396.44" fill="none" stroke="#4d7fc0" stroke-width="1.0" stroke-linejoin="round" clip-path="url(#c6i)"/>
<polygon points="405.95,434.01 406.9,435.68 405.01,435.68" fill="#fff" stroke="#4d7fc0" stroke-width="0.5"/>
<polygon points="416.99,434.01 417.94,435.68 416.05,435.68" fill="#fff" stroke="#4d7fc0" stroke-width="0.5"/>
<polygon points="428.03,434.01 428.98,435.68 427.09,435.68" fill="#fff" stroke="#4d7fc0" stroke-width="0.5"/>
<polygon points="436.86,434.01 437.81,435.68 435.92,435.68" fill="#fff" stroke="#4d7fc0" stroke-width="0.5"/>
<polygon points="437.97,433.31 438.91,434.98 437.02,434.98" fill="#fff" stroke="#4d7fc0" stroke-width="0.5"/>
<polygon points="439.07,430.52 440.02,432.18 438.13,432.18" fill="#fff" stroke="#4d7fc0" stroke-width="0.5"/>
<polygon points="440.18,426.33 441.12,427.99 439.23,427.99" fill="#fff" stroke="#4d7fc0" stroke-width="0.5"/>
<polygon points="441.28,421.44 442.23,423.1 440.34,423.1" fill="#fff" stroke="#4d7fc0" stroke-width="0.5"/>
<polygon points="443.49,413.05 444.43,414.72 442.54,414.72" fill="#fff" stroke="#4d7fc0" stroke-width="0.5"/>
<polygon points="445.7,408.16 446.64,409.83 444.75,409.83" fill="#fff" stroke="#4d7fc0" stroke-width="0.5"/>
<polygon points="447.9,404.67 448.85,406.34 446.96,406.34" fill="#fff" stroke="#4d7fc0" stroke-width="0.5"/>
<polygon points="450.11,401.88 451.06,403.54 449.17,403.54" fill="#fff" stroke="#4d7fc0" stroke-width="0.5"/>
<polygon points="452.32,399.78 453.26,401.45 451.38,401.45" fill="#fff" stroke="#4d7fc0" stroke-width="0.5"/>
<polygon points="456.74,397.4 457.68,399.07 455.79,399.07" fill="#fff" stroke="#4d7fc0" stroke-width="0.5"/>
<polygon points="461.15,395.45 462.1,397.11 460.21,397.11" fill="#fff" stroke="#4d7fc0" stroke-width="0.5"/>
<polyline points="405.4,435 416.44,435 427.48,435 436.31,435 437.42,434.3 438.52,431.51 439.62,427.32 440.73,422.43 442.94,414.04 445.14,409.15 447.35,405.66 449.56,402.87 451.77,400.77 456.18,398.39 460.6,396.44" fill="none" stroke="#f23f3f" stroke-width="1.0" stroke-linejoin="round" clip-path="url(#c6i)"/>
<circle cx="405.4" cy="435" r="0.9" fill="#fff" stroke="#f23f3f" stroke-width="0.5"/>
<circle cx="416.44" cy="435" r="0.9" fill="#fff" stroke="#f23f3f" stroke-width="0.5"/>
<circle cx="427.48" cy="435" r="0.9" fill="#fff" stroke="#f23f3f" stroke-width="0.5"/>
<circle cx="436.31" cy="435" r="0.9" fill="#fff" stroke="#f23f3f" stroke-width="0.5"/>
<circle cx="437.42" cy="434.3" r="0.9" fill="#fff" stroke="#f23f3f" stroke-width="0.5"/>
<circle cx="438.52" cy="431.51" r="0.9" fill="#fff" stroke="#f23f3f" stroke-width="0.5"/>
<circle cx="439.62" cy="427.32" r="0.9" fill="#fff" stroke="#f23f3f" stroke-width="0.5"/>
<circle cx="440.73" cy="422.43" r="0.9" fill="#fff" stroke="#f23f3f" stroke-width="0.5"/>
<circle cx="442.94" cy="414.04" r="0.9" fill="#fff" stroke="#f23f3f" stroke-width="0.5"/>
<circle cx="445.14" cy="409.15" r="0.9" fill="#fff" stroke="#f23f3f" stroke-width="0.5"/>
<circle cx="447.35" cy="405.66" r="0.9" fill="#fff" stroke="#f23f3f" stroke-width="0.5"/>
<circle cx="449.56" cy="402.87" r="0.9" fill="#fff" stroke="#f23f3f" stroke-width="0.5"/>
<circle cx="451.77" cy="400.77" r="0.9" fill="#fff" stroke="#f23f3f" stroke-width="0.5"/>
<circle cx="456.18" cy="398.39" r="0.9" fill="#fff" stroke="#f23f3f" stroke-width="0.5"/>
<circle cx="460.6" cy="396.44" r="0.9" fill="#fff" stroke="#f23f3f" stroke-width="0.5"/>
<polyline points="405.4,435 416.44,435 425.27,435 427.48,433.88 428.58,430.81 429.69,427.32 431.9,420.33 434.1,414.04 436.31,409.15 438.52,405.66 440.73,402.59 442.94,400.07 445.14,398.26 447.35,396.86 451.77,394.76 456.18,392.81 460.6,390.99" fill="none" stroke="#ffb060" stroke-width="1.0" stroke-linejoin="round" clip-path="url(#c6i)"/>
<polygon points="405.4,435.99 406.34,434.32 404.45,434.32" fill="#fff" stroke="#ffb060" stroke-width="0.5"/>
<polygon points="416.44,435.99 417.38,434.32 415.5,434.32" fill="#fff" stroke="#ffb060" stroke-width="0.5"/>
<polygon points="425.27,435.99 426.22,434.32 424.33,434.32" fill="#fff" stroke="#ffb060" stroke-width="0.5"/>
<polygon points="427.48,434.87 428.43,433.21 426.54,433.21" fill="#fff" stroke="#ffb060" stroke-width="0.5"/>
<polygon points="428.58,431.8 429.53,430.13 427.64,430.13" fill="#fff" stroke="#ffb060" stroke-width="0.5"/>
<polygon points="429.69,428.31 430.63,426.64 428.74,426.64" fill="#fff" stroke="#ffb060" stroke-width="0.5"/>
<polygon points="431.9,421.32 432.84,419.65 430.95,419.65" fill="#fff" stroke="#ffb060" stroke-width="0.5"/>
<polygon points="434.1,415.03 435.05,413.37 433.16,413.37" fill="#fff" stroke="#ffb060" stroke-width="0.5"/>
<polygon points="436.31,410.14 437.26,408.48 435.37,408.48" fill="#fff" stroke="#ffb060" stroke-width="0.5"/>
<polygon points="438.52,406.65 439.46,404.99 437.57,404.99" fill="#fff" stroke="#ffb060" stroke-width="0.5"/>
<polygon points="440.73,403.58 441.67,401.91 439.78,401.91" fill="#fff" stroke="#ffb060" stroke-width="0.5"/>
<polygon points="442.94,401.06 443.88,399.4 441.99,399.4" fill="#fff" stroke="#ffb060" stroke-width="0.5"/>
<polygon points="445.14,399.25 446.09,397.58 444.2,397.58" fill="#fff" stroke="#ffb060" stroke-width="0.5"/>
<polygon points="447.35,397.85 448.3,396.18 446.41,396.18" fill="#fff" stroke="#ffb060" stroke-width="0.5"/>
<polygon points="451.77,395.75 452.71,394.09 450.82,394.09" fill="#fff" stroke="#ffb060" stroke-width="0.5"/>
<polygon points="456.18,393.8 457.13,392.13 455.24,392.13" fill="#fff" stroke="#ffb060" stroke-width="0.5"/>
<polygon points="460.6,391.98 461.55,390.31 459.66,390.31" fill="#fff" stroke="#ffb060" stroke-width="0.5"/>
<polyline points="405.4,435 409.82,435 412.02,434.3 414.23,433.32 416.44,430.81 418.65,424.52 420.86,416.84 423.06,410.55 425.27,405.66 427.48,401.89 429.69,399.37 431.9,397.7 434.1,396.44 436.31,395.46 438.52,394.62 444.04,392.67 449.56,390.71 455.08,388.75 460.6,386.66" fill="none" stroke="#9484e2" stroke-width="1.0" stroke-linejoin="round" clip-path="url(#c6i)"/>
<polygon points="405.4,433.92 406.48,435 405.4,436.08 404.32,435" fill="#fff" stroke="#9484e2" stroke-width="0.5"/>
<polygon points="409.82,433.92 410.9,435 409.82,436.08 408.74,435" fill="#fff" stroke="#9484e2" stroke-width="0.5"/>
<polygon points="412.02,433.22 413.1,434.3 412.02,435.38 410.94,434.3" fill="#fff" stroke="#9484e2" stroke-width="0.5"/>
<polygon points="414.23,432.24 415.31,433.32 414.23,434.4 413.15,433.32" fill="#fff" stroke="#9484e2" stroke-width="0.5"/>
<polygon points="416.44,429.73 417.52,430.81 416.44,431.89 415.36,430.81" fill="#fff" stroke="#9484e2" stroke-width="0.5"/>
<polygon points="418.65,423.44 419.73,424.52 418.65,425.6 417.57,424.52" fill="#fff" stroke="#9484e2" stroke-width="0.5"/>
<polygon points="420.86,415.76 421.94,416.84 420.86,417.92 419.78,416.84" fill="#fff" stroke="#9484e2" stroke-width="0.5"/>
<polygon points="423.06,409.47 424.14,410.55 423.06,411.63 421.98,410.55" fill="#fff" stroke="#9484e2" stroke-width="0.5"/>
<polygon points="425.27,404.58 426.35,405.66 425.27,406.74 424.19,405.66" fill="#fff" stroke="#9484e2" stroke-width="0.5"/>
<polygon points="427.48,400.81 428.56,401.89 427.48,402.97 426.4,401.89" fill="#fff" stroke="#9484e2" stroke-width="0.5"/>
<polygon points="429.69,398.29 430.77,399.37 429.69,400.45 428.61,399.37" fill="#fff" stroke="#9484e2" stroke-width="0.5"/>
<polygon points="431.9,396.62 432.98,397.7 431.9,398.78 430.82,397.7" fill="#fff" stroke="#9484e2" stroke-width="0.5"/>
<polygon points="434.1,395.36 435.18,396.44 434.1,397.52 433.02,396.44" fill="#fff" stroke="#9484e2" stroke-width="0.5"/>
<polygon points="436.31,394.38 437.39,395.46 436.31,396.54 435.23,395.46" fill="#fff" stroke="#9484e2" stroke-width="0.5"/>
<polygon points="438.52,393.54 439.6,394.62 438.52,395.7 437.44,394.62" fill="#fff" stroke="#9484e2" stroke-width="0.5"/>
<polygon points="444.04,391.59 445.12,392.67 444.04,393.75 442.96,392.67" fill="#fff" stroke="#9484e2" stroke-width="0.5"/>
<polygon points="449.56,389.63 450.64,390.71 449.56,391.79 448.48,390.71" fill="#fff" stroke="#9484e2" stroke-width="0.5"/>
<polygon points="455.08,387.67 456.16,388.75 455.08,389.83 454,388.75" fill="#fff" stroke="#9484e2" stroke-width="0.5"/>
<polygon points="460.6,385.58 461.68,386.66 460.6,387.74 459.52,386.66" fill="#fff" stroke="#9484e2" stroke-width="0.5"/>
<text transform="translate(396.4,411.2) rotate(-90)" font-family='"Liberation Serif", serif' font-size="5.4" text-anchor="middle" fill="#222" stroke="#222" stroke-width="0.12">I<tspan font-size="3.8" dy="1.2">MQW</tspan><tspan dy="-1.2"> / (mA)</tspan></text>
<text x="433" y="445.4" font-family='"Liberation Serif", serif' font-size="6" text-anchor="middle" fill="#222" stroke="#222" stroke-width="0.13">V<tspan font-size="4.2" dy="1.3">A</tspan><tspan dy="-1.3"> / (V)</tspan></text>
<text x="472.5" y="451.6" font-family='"Liberation Serif", serif' font-size="6.4" fill="#22c07a" stroke="#22c07a" stroke-width="0.3">Transition region</text>
<text x="472.5" y="457.5" font-family='"Liberation Serif", serif' font-size="5" fill="#222" stroke="#222" stroke-width="0.11">I<tspan font-size="3.5" dy="1.2">B</tspan><tspan dy="-1.2">=50&#956;A</tspan></text>
<line x1="471.3" y1="464" x2="482.6" y2="464" stroke="#2ecf8c" stroke-width="1.4" />
<rect x="475.42" y="462.47" width="3.06" height="3.06" fill="#fff" stroke="#2ecf8c" stroke-width="0.8"/>
<text x="485.2" y="465.58" font-family='"Liberation Serif", serif' font-size="4.8" fill="#1a1a1a" stroke="#1a1a1a" stroke-width="0.11">1&#215;10<tspan font-size="3.4" dy="-2">18</tspan><tspan dy="2">/ (cm</tspan><tspan font-size="3.4" dy="-2">-3</tspan><tspan dy="2">)</tspan></text>
<line x1="471.3" y1="470.4" x2="482.6" y2="470.4" stroke="#4d7fc0" stroke-width="1.4" />
<polygon points="476.95,468.53 478.74,471.67 475.17,471.67" fill="#fff" stroke="#4d7fc0" stroke-width="0.8"/>
<text x="485.2" y="471.98" font-family='"Liberation Serif", serif' font-size="4.8" fill="#1a1a1a" stroke="#1a1a1a" stroke-width="0.11">5&#215;10<tspan font-size="3.4" dy="-2">18</tspan><tspan dy="2">/ (cm</tspan><tspan font-size="3.4" dy="-2">-3</tspan><tspan dy="2">)</tspan></text>
<line x1="471.3" y1="476.9" x2="482.6" y2="476.9" stroke="#f23f3f" stroke-width="1.4" />
<circle cx="476.95" cy="476.9" r="1.7" fill="#fff" stroke="#f23f3f" stroke-width="0.8"/>
<text x="485.2" y="478.48" font-family='"Liberation Serif", serif' font-size="4.8" fill="#1a1a1a" stroke="#1a1a1a" stroke-width="0.11">1&#215;10<tspan font-size="3.4" dy="-2">19</tspan><tspan dy="2">/ (cm</tspan><tspan font-size="3.4" dy="-2">-3</tspan><tspan dy="2">)</tspan></text>
<line x1="471.3" y1="484" x2="482.6" y2="484" stroke="#ffb060" stroke-width="1.4" />
<polygon points="476.95,485.87 478.74,482.73 475.17,482.73" fill="#fff" stroke="#ffb060" stroke-width="0.8"/>
<text x="485.2" y="485.58" font-family='"Liberation Serif", serif' font-size="4.8" fill="#1a1a1a" stroke="#1a1a1a" stroke-width="0.11">5&#215;10<tspan font-size="3.4" dy="-2">19</tspan><tspan dy="2">/ (cm</tspan><tspan font-size="3.4" dy="-2">-3</tspan><tspan dy="2">)</tspan></text>
<line x1="471.3" y1="490.9" x2="482.6" y2="490.9" stroke="#9484e2" stroke-width="1.4" />
<polygon points="476.95,488.86 478.99,490.9 476.95,492.94 474.91,490.9" fill="#fff" stroke="#9484e2" stroke-width="0.8"/>
<text x="485.2" y="492.48" font-family='"Liberation Serif", serif' font-size="4.8" fill="#1a1a1a" stroke="#1a1a1a" stroke-width="0.11">1&#215;10<tspan font-size="3.4" dy="-2">20</tspan><tspan dy="2">/ (cm</tspan><tspan font-size="3.4" dy="-2">-3</tspan><tspan dy="2">)</tspan></text>
<text transform="translate(372,436) rotate(-90)" x="0" y="0" font-family='"Liberation Serif", serif' font-size="11" text-anchor="middle" fill="#222" stroke="#222" stroke-width="0.24">I<tspan font-size="7.7" dy="2.75">MQW</tspan><tspan dy="-2.75"> / (mA)</tspan></text>
<text x="456.2" y="519.5" font-family='"Liberation Serif", serif' font-size="10.2" text-anchor="middle" fill="#222" stroke="#222" stroke-width="0.22">V<tspan font-size="7.14" dy="2.55">A</tspan><tspan dy="-2.55"> / (V)</tspan></text>
<rect x="37" y="225.4" width="130.5" height="115" fill="none" stroke="#666" stroke-width="1.3"/>
<rect x="211.7" y="226.5" width="130.8" height="115.2" fill="none" stroke="#666" stroke-width="1.3"/>
<rect x="387.5" y="225.6" width="129.7" height="115.1" fill="none" stroke="#666" stroke-width="1.3"/>
<rect x="37" y="381.4" width="130.6" height="114.9" fill="none" stroke="#666" stroke-width="1.3"/>
<rect x="214" y="381.8" width="130.2" height="115.2" fill="none" stroke="#666" stroke-width="1.3"/>
<rect x="387.4" y="381.7" width="129.9" height="115.5" fill="none" stroke="#666" stroke-width="1.3"/>
</svg></body></html>
